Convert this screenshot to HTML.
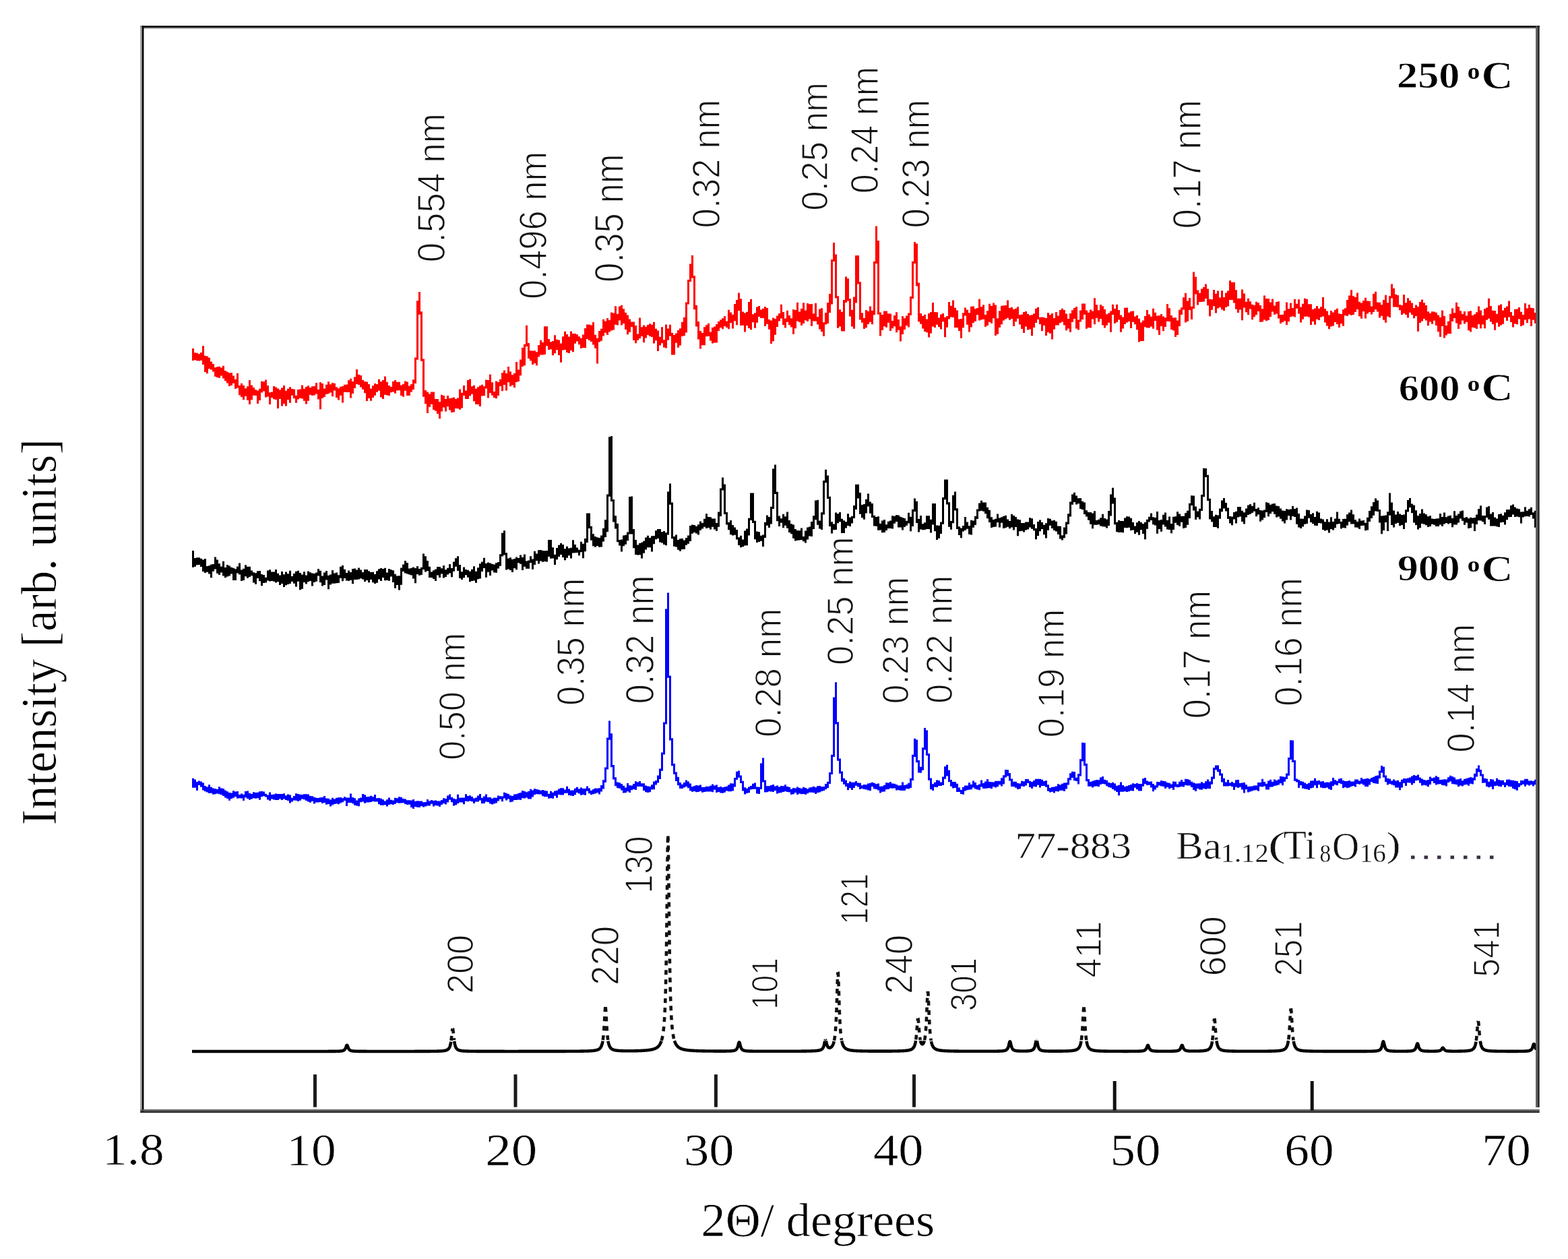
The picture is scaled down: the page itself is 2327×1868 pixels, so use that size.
<!DOCTYPE html><html><head><meta charset="utf-8"><title>XRD patterns</title><style>html,body{margin:0;padding:0;background:#fff;}svg{display:block;}</style></head><body>
<svg width="2327" height="1868" viewBox="0 0 2327 1868">
<rect width="2327" height="1868" fill="#fff"/>
<text transform="translate(660.33,389.32) rotate(-90) scale(0.2653,0.2838)" font-family='"Liberation Sans", Arial, sans-serif' font-weight="normal" font-size="200" fill="#111" stroke="#fff" stroke-width="5.10" stroke-linejoin="round">0.554 nm</text>
<text transform="translate(810.72,444.01) rotate(-90) scale(0.2632,0.2908)" font-family='"Liberation Sans", Arial, sans-serif' font-weight="normal" font-size="200" fill="#111" stroke="#fff" stroke-width="5.05" stroke-linejoin="round">0.496 nm</text>
<text transform="translate(924.79,418.91) rotate(-90) scale(0.2640,0.3028)" font-family='"Liberation Sans", Arial, sans-serif' font-weight="normal" font-size="200" fill="#111" stroke="#fff" stroke-width="4.94" stroke-linejoin="round">0.35 nm</text>
<text transform="translate(1067.83,338.42) rotate(-90) scale(0.2644,0.2859)" font-family='"Liberation Sans", Arial, sans-serif' font-weight="normal" font-size="200" fill="#111" stroke="#fff" stroke-width="5.09" stroke-linejoin="round">0.32 nm</text>
<text transform="translate(1227.85,312.81) rotate(-90) scale(0.2642,0.2775)" font-family='"Liberation Sans", Arial, sans-serif' font-weight="normal" font-size="200" fill="#111" stroke="#fff" stroke-width="5.17" stroke-linejoin="round">0.25 nm</text>
<text transform="translate(1303.23,287.29) rotate(-90) scale(0.2610,0.2859)" font-family='"Liberation Sans", Arial, sans-serif' font-weight="normal" font-size="200" fill="#111" stroke="#fff" stroke-width="5.12" stroke-linejoin="round">0.24 nm</text>
<text transform="translate(1378.63,338.42) rotate(-90) scale(0.2644,0.2859)" font-family='"Liberation Sans", Arial, sans-serif' font-weight="normal" font-size="200" fill="#111" stroke="#fff" stroke-width="5.09" stroke-linejoin="round">0.23 nm</text>
<text transform="translate(1781.71,339.42) rotate(-90) scale(0.2648,0.2930)" font-family='"Liberation Sans", Arial, sans-serif' font-weight="normal" font-size="200" fill="#111" stroke="#fff" stroke-width="5.02" stroke-linejoin="round">0.17 nm</text>
<text transform="translate(690.14,1128.10) rotate(-90) scale(0.2625,0.2796)" font-family='"Liberation Sans", Arial, sans-serif' font-weight="normal" font-size="200" fill="#111" stroke="#fff" stroke-width="5.16" stroke-linejoin="round">0.50 nm</text>
<text transform="translate(867.42,1047.10) rotate(-90) scale(0.2624,0.2908)" font-family='"Liberation Sans", Arial, sans-serif' font-weight="normal" font-size="200" fill="#111" stroke="#fff" stroke-width="5.06" stroke-linejoin="round">0.35 nm</text>
<text transform="translate(970.11,1044.51) rotate(-90) scale(0.2642,0.2937)" font-family='"Liberation Sans", Arial, sans-serif' font-weight="normal" font-size="200" fill="#111" stroke="#fff" stroke-width="5.02" stroke-linejoin="round">0.32 nm</text>
<text transform="translate(1159.44,1094.12) rotate(-90) scale(0.2650,0.2782)" font-family='"Liberation Sans", Arial, sans-serif' font-weight="normal" font-size="200" fill="#111" stroke="#fff" stroke-width="5.16" stroke-linejoin="round">0.28 nm</text>
<text transform="translate(1265.85,987.11) rotate(-90) scale(0.2640,0.2775)" font-family='"Liberation Sans", Arial, sans-serif' font-weight="normal" font-size="200" fill="#111" stroke="#fff" stroke-width="5.17" stroke-linejoin="round">0.25 nm</text>
<text transform="translate(1348.45,1044.49) rotate(-90) scale(0.2614,0.2761)" font-family='"Liberation Sans", Arial, sans-serif' font-weight="normal" font-size="200" fill="#111" stroke="#fff" stroke-width="5.21" stroke-linejoin="round">0.23 nm</text>
<text transform="translate(1413.45,1044.11) rotate(-90) scale(0.2637,0.2761)" font-family='"Liberation Sans", Arial, sans-serif' font-weight="normal" font-size="200" fill="#111" stroke="#fff" stroke-width="5.19" stroke-linejoin="round">0.22 nm</text>
<text transform="translate(1579.35,1094.41) rotate(-90) scale(0.2642,0.2746)" font-family='"Liberation Sans", Arial, sans-serif' font-weight="normal" font-size="200" fill="#111" stroke="#fff" stroke-width="5.20" stroke-linejoin="round">0.19 nm</text>
<text transform="translate(1796.42,1066.61) rotate(-90) scale(0.2642,0.2887)" font-family='"Liberation Sans", Arial, sans-serif' font-weight="normal" font-size="200" fill="#111" stroke="#fff" stroke-width="5.06" stroke-linejoin="round">0.17 nm</text>
<text transform="translate(1931.83,1048.12) rotate(-90) scale(0.2644,0.2873)" font-family='"Liberation Sans", Arial, sans-serif' font-weight="normal" font-size="200" fill="#111" stroke="#fff" stroke-width="5.08" stroke-linejoin="round">0.16 nm</text>
<text transform="translate(2187.83,1116.72) rotate(-90) scale(0.2644,0.2873)" font-family='"Liberation Sans", Arial, sans-serif' font-weight="normal" font-size="200" fill="#111" stroke="#fff" stroke-width="5.08" stroke-linejoin="round">0.14 nm</text>
<text transform="translate(701.84,1474.22) rotate(-90) scale(0.2623,0.2782)" font-family='"Liberation Sans", Arial, sans-serif' font-weight="normal" font-size="200" fill="#111" stroke="#fff" stroke-width="5.18" stroke-linejoin="round">200</text>
<text transform="translate(918.42,1461.94) rotate(-90) scale(0.2642,0.2887)" font-family='"Liberation Sans", Arial, sans-serif' font-weight="normal" font-size="200" fill="#111" stroke="#fff" stroke-width="5.06" stroke-linejoin="round">220</text>
<text transform="translate(968.43,1325.84) rotate(-90) scale(0.2563,0.2873)" font-family='"Liberation Sans", Arial, sans-serif' font-weight="normal" font-size="200" fill="#111" stroke="#fff" stroke-width="5.15" stroke-linejoin="round">130</text>
<text transform="translate(1153.95,1498.06) rotate(-90) scale(0.2307,0.2739)" font-family='"Liberation Sans", Arial, sans-serif' font-weight="normal" font-size="200" fill="#111" stroke="#fff" stroke-width="5.55" stroke-linejoin="round">101</text>
<text transform="translate(1288.00,1371.82) rotate(-90) scale(0.2278,0.2907)" font-family='"Liberation Sans", Arial, sans-serif' font-weight="normal" font-size="200" fill="#111" stroke="#fff" stroke-width="5.40" stroke-linejoin="round">121</text>
<text transform="translate(1354.42,1474.94) rotate(-90) scale(0.2642,0.2887)" font-family='"Liberation Sans", Arial, sans-serif' font-weight="normal" font-size="200" fill="#111" stroke="#fff" stroke-width="5.06" stroke-linejoin="round">240</text>
<text transform="translate(1448.95,1500.20) rotate(-90) scale(0.2373,0.2739)" font-family='"Liberation Sans", Arial, sans-serif' font-weight="normal" font-size="200" fill="#111" stroke="#fff" stroke-width="5.48" stroke-linejoin="round">301</text>
<text transform="translate(1634.00,1450.66) rotate(-90) scale(0.2641,0.2717)" font-family='"Liberation Sans", Arial, sans-serif' font-weight="normal" font-size="200" fill="#111" stroke="#fff" stroke-width="5.23" stroke-linejoin="round">411</text>
<text transform="translate(1819.44,1448.47) rotate(-90) scale(0.2674,0.2782)" font-family='"Liberation Sans", Arial, sans-serif' font-weight="normal" font-size="200" fill="#111" stroke="#fff" stroke-width="5.13" stroke-linejoin="round">600</text>
<text transform="translate(1932.12,1448.25) rotate(-90) scale(0.2452,0.2915)" font-family='"Liberation Sans", Arial, sans-serif' font-weight="normal" font-size="200" fill="#111" stroke="#fff" stroke-width="5.22" stroke-linejoin="round">251</text>
<text transform="translate(2225.14,1449.70) rotate(-90) scale(0.2497,0.2821)" font-family='"Liberation Sans", Arial, sans-serif' font-weight="normal" font-size="200" fill="#111" stroke="#fff" stroke-width="5.26" stroke-linejoin="round">541</text>
<text transform="translate(152.06,1728.29) scale(0.3671,0.3382)" font-family='"Liberation Serif", "Times New Roman", serif' font-weight="normal" font-size="200" fill="#000" stroke="#fff" stroke-width="1.70" stroke-linejoin="round">1.8</text>
<text transform="translate(425.15,1728.62) scale(0.3674,0.3407)" font-family='"Liberation Serif", "Times New Roman", serif' font-weight="normal" font-size="200" fill="#000" stroke="#fff" stroke-width="1.69" stroke-linejoin="round">10</text>
<text transform="translate(720.13,1728.62) scale(0.3858,0.3407)" font-family='"Liberation Serif", "Times New Roman", serif' font-weight="normal" font-size="200" fill="#000" stroke="#fff" stroke-width="1.65" stroke-linejoin="round">20</text>
<text transform="translate(1014.95,1728.62) scale(0.3727,0.3407)" font-family='"Liberation Serif", "Times New Roman", serif' font-weight="normal" font-size="200" fill="#000" stroke="#fff" stroke-width="1.68" stroke-linejoin="round">30</text>
<text transform="translate(1296.01,1728.62) scale(0.3718,0.3407)" font-family='"Liberation Serif", "Times New Roman", serif' font-weight="normal" font-size="200" fill="#000" stroke="#fff" stroke-width="1.68" stroke-linejoin="round">40</text>
<text transform="translate(1647.50,1728.62) scale(0.3750,0.3407)" font-family='"Liberation Serif", "Times New Roman", serif' font-weight="normal" font-size="200" fill="#000" stroke="#fff" stroke-width="1.68" stroke-linejoin="round">50</text>
<text transform="translate(1906.37,1728.62) scale(0.3668,0.3407)" font-family='"Liberation Serif", "Times New Roman", serif' font-weight="normal" font-size="200" fill="#000" stroke="#fff" stroke-width="1.70" stroke-linejoin="round">60</text>
<text transform="translate(2199.28,1728.62) scale(0.3631,0.3407)" font-family='"Liberation Serif", "Times New Roman", serif' font-weight="normal" font-size="200" fill="#000" stroke="#fff" stroke-width="1.70" stroke-linejoin="round">70</text>
<text transform="translate(1040.55,1834.41) scale(0.3608,0.3533)" font-family='"Liberation Serif", "Times New Roman", serif' font-weight="normal" font-size="200" fill="#000" stroke="#fff" stroke-width="1.68" stroke-linejoin="round">2Θ/ degrees</text>
<text transform="translate(82.73,1224.47) rotate(-90) scale(0.3524,0.3714)" font-family='"Liberation Serif", "Times New Roman", serif' font-weight="normal" font-size="200" fill="#000" stroke="#fff" stroke-width="1.93" stroke-linejoin="round">Intensity [arb. units]</text>
<text transform="translate(2073.11,130.15) scale(0.3113,0.2763)" font-family='"Liberation Serif", "Times New Roman", serif' font-weight="bold" font-size="200" fill="#000" stroke="#fff" stroke-width="2.72" stroke-linejoin="round">250</text>
<text transform="translate(2177.72,116.96) scale(0.1845,0.1677)" font-family='"Liberation Serif", "Times New Roman", serif' font-weight="bold" font-size="200" fill="#000">o</text>
<text transform="translate(2198.56,130.54) scale(0.3244,0.2813)" font-family='"Liberation Serif", "Times New Roman", serif' font-weight="bold" font-size="200" fill="#000" stroke="#fff" stroke-width="2.64" stroke-linejoin="round">C</text>
<text transform="translate(2075.68,593.95) scale(0.3025,0.2756)" font-family='"Liberation Serif", "Times New Roman", serif' font-weight="bold" font-size="200" fill="#000" stroke="#fff" stroke-width="2.77" stroke-linejoin="round">600</text>
<text transform="translate(2177.72,580.27) scale(0.1845,0.1625)" font-family='"Liberation Serif", "Times New Roman", serif' font-weight="bold" font-size="200" fill="#000">o</text>
<text transform="translate(2198.56,594.34) scale(0.3244,0.2806)" font-family='"Liberation Serif", "Times New Roman", serif' font-weight="bold" font-size="200" fill="#000" stroke="#fff" stroke-width="2.64" stroke-linejoin="round">C</text>
<text transform="translate(2074.06,861.25) scale(0.3080,0.2726)" font-family='"Liberation Serif", "Times New Roman", serif' font-weight="bold" font-size="200" fill="#000" stroke="#fff" stroke-width="2.76" stroke-linejoin="round">900</text>
<text transform="translate(2177.72,848.07) scale(0.1845,0.1625)" font-family='"Liberation Serif", "Times New Roman", serif' font-weight="bold" font-size="200" fill="#000">o</text>
<text transform="translate(2198.56,861.64) scale(0.3244,0.2776)" font-family='"Liberation Serif", "Times New Roman", serif' font-weight="bold" font-size="200" fill="#000" stroke="#fff" stroke-width="2.66" stroke-linejoin="round">C</text>
<text transform="translate(1506.44,1273.15) scale(0.3046,0.2733)" font-family='"Liberation Serif", "Times New Roman", serif' font-weight="normal" font-size="200" fill="#111" stroke="#fff" stroke-width="2.08" stroke-linejoin="round">77-883</text>
<text transform="translate(1745.18,1273.83) scale(0.3038,0.2827)" font-family='"Liberation Serif", "Times New Roman", serif' font-weight="normal" font-size="200" fill="#111" stroke="#fff" stroke-width="2.05" stroke-linejoin="round">Ba</text>
<text transform="translate(1811.65,1278.71) scale(0.2031,0.1963)" font-family='"Liberation Serif", "Times New Roman", serif' font-weight="normal" font-size="200" fill="#111" stroke="#fff" stroke-width="1.50" stroke-linejoin="round">1.12</text>
<text transform="translate(1881.84,1270.66) scale(0.3961,0.2637)" font-family='"Liberation Serif", "Times New Roman", serif' font-weight="normal" font-size="200" fill="#111" stroke="#fff" stroke-width="1.82" stroke-linejoin="round">(</text>
<text transform="translate(1904.47,1274.40) scale(0.2816,0.3061)" font-family='"Liberation Serif", "Times New Roman", serif' font-weight="normal" font-size="200" fill="#111" stroke="#fff" stroke-width="2.04" stroke-linejoin="round">Ti</text>
<text transform="translate(1958.47,1278.92) scale(0.1667,0.1911)" font-family='"Liberation Serif", "Times New Roman", serif' font-weight="normal" font-size="200" fill="#111" stroke="#fff" stroke-width="1.68" stroke-linejoin="round">8</text>
<text transform="translate(1977.08,1274.53) scale(0.2773,0.2858)" font-family='"Liberation Serif", "Times New Roman", serif' font-weight="normal" font-size="200" fill="#111" stroke="#fff" stroke-width="2.13" stroke-linejoin="round">O</text>
<text transform="translate(2017.66,1278.90) scale(0.1966,0.1978)" font-family='"Liberation Serif", "Times New Roman", serif' font-weight="normal" font-size="200" fill="#111" stroke="#fff" stroke-width="1.52" stroke-linejoin="round">16</text>
<text transform="translate(2057.37,1270.66) scale(0.3212,0.2637)" font-family='"Liberation Serif", "Times New Roman", serif' font-weight="normal" font-size="200" fill="#111" stroke="#fff" stroke-width="2.05" stroke-linejoin="round">)</text>
<path d="M285.0 516.9L288.0 516.9L288.0 523.3L291.0 523.3L291.0 523.7L294.0 523.7L294.0 525.2L297.0 525.2L297.0 523.0L300.0 523.0L300.0 513.2L303.0 513.2L303.0 527.7L306.0 527.7L306.0 528.6L309.0 528.6L309.0 530.8L312.0 530.8L312.0 536.4L315.0 536.4L315.0 540.0L318.0 540.0L318.0 545.2L321.0 545.2L321.0 544.3L324.0 544.3L324.0 543.7L327.0 543.7L327.0 545.5L330.0 545.5L330.0 542.8L333.0 542.8L333.0 550.0L336.0 550.0L336.0 551.8L339.0 551.8L339.0 553.3L342.0 553.3L342.0 553.0L345.0 553.0L345.0 557.5L348.0 557.5L348.0 562.7L351.0 562.7L351.0 553.7L354.0 553.7L354.0 572.0L357.0 572.0L357.0 568.7L360.0 568.7L360.0 571.8L363.0 571.8L363.0 576.2L366.0 576.2L366.0 573.3L369.0 573.3L369.0 564.0L372.0 564.0L372.0 571.5L375.0 571.5L375.0 575.1L378.0 575.1L378.0 578.2L381.0 578.2L381.0 579.5L384.0 579.5L384.0 576.7L387.0 576.7L387.0 565.7L390.0 565.7L390.0 566.3L393.0 566.3L393.0 563.6L396.0 563.6L396.0 572.1L399.0 572.1L399.0 582.2L402.0 582.2L402.0 581.4L405.0 581.4L405.0 573.1L408.0 573.1L408.0 574.5L411.0 574.5L411.0 576.4L414.0 576.4L414.0 578.4L417.0 578.4L417.0 575.5L420.0 575.5L420.0 571.9L423.0 571.9L423.0 579.8L426.0 579.8L426.0 576.8L429.0 576.8L429.0 574.3L432.0 574.3L432.0 576.9L435.0 576.9L435.0 577.4L438.0 577.4L438.0 586.7L441.0 586.7L441.0 578.0L444.0 578.0L444.0 577.6L447.0 577.6L447.0 571.6L450.0 571.6L450.0 576.7L453.0 576.7L453.0 574.1L456.0 574.1L456.0 572.3L459.0 572.3L459.0 575.3L462.0 575.3L462.0 573.2L465.0 573.2L465.0 572.9L468.0 572.9L468.0 568.0L471.0 568.0L471.0 577.8L474.0 577.8L474.0 567.1L477.0 567.1L477.0 569.0L480.0 569.0L480.0 576.5L483.0 576.5L483.0 570.8L486.0 570.8L486.0 566.2L489.0 566.2L489.0 570.2L492.0 570.2L492.0 568.1L495.0 568.1L495.0 568.7L498.0 568.7L498.0 574.3L501.0 574.3L501.0 576.3L504.0 576.3L504.0 573.8L507.0 573.8L507.0 573.1L510.0 573.1L510.0 570.7L513.0 570.7L513.0 570.4L516.0 570.4L516.0 564.3L519.0 564.3L519.0 561.8L522.0 561.8L522.0 565.9L525.0 565.9L525.0 559.3L528.0 559.3L528.0 548.1L531.0 548.1L531.0 555.8L534.0 555.8L534.0 557.0L537.0 557.0L537.0 563.7L540.0 563.7L540.0 565.9L543.0 565.9L543.0 566.4L546.0 566.4L546.0 570.0L549.0 570.0L549.0 576.5L552.0 576.5L552.0 572.3L555.0 572.3L555.0 568.9L558.0 568.9L558.0 569.9L561.0 569.9L561.0 562.8L564.0 562.8L564.0 566.3L567.0 566.3L567.0 564.1L570.0 564.1L570.0 558.5L573.0 558.5L573.0 566.8L576.0 566.8L576.0 572.1L579.0 572.1L579.0 574.1L582.0 574.1L582.0 565.9L585.0 565.9L585.0 564.1L588.0 564.1L588.0 566.8L591.0 566.8L591.0 566.7L594.0 566.7L594.0 571.4L597.0 571.4L597.0 569.7L600.0 569.7L600.0 565.4L603.0 565.4L603.0 566.6L606.0 566.6L606.0 572.5L609.0 572.5L609.0 569.9L612.0 569.9L612.0 563.3L615.0 563.3L615.0 530.5L618.0 530.5L618.0 446.3L621.0 446.3L621.0 433.0L624.0 433.0L624.0 462.3L627.0 462.3L627.0 532.5L630.0 532.5L630.0 579.1L633.0 579.1L633.0 581.5L636.0 581.5L636.0 584.6L639.0 584.6L639.0 581.6L642.0 581.6L642.0 581.6L645.0 581.6L645.0 592.0L648.0 592.0L648.0 592.1L651.0 592.1L651.0 596.3L654.0 596.3L654.0 585.8L657.0 585.8L657.0 587.0L660.0 587.0L660.0 592.1L663.0 592.1L663.0 587.1L666.0 587.1L666.0 590.9L669.0 590.9L669.0 590.4L672.0 590.4L672.0 589.6L675.0 589.6L675.0 592.0L678.0 592.0L678.0 590.6L681.0 590.6L681.0 577.6L684.0 577.6L684.0 582.7L687.0 582.7L687.0 572.1L690.0 572.1L690.0 579.5L693.0 579.5L693.0 564.1L696.0 564.1L696.0 562.4L699.0 562.4L699.0 573.2L702.0 573.2L702.0 571.8L705.0 571.8L705.0 576.8L708.0 576.8L708.0 574.2L711.0 574.2L711.0 572.3L714.0 572.3L714.0 570.7L717.0 570.7L717.0 573.2L720.0 573.2L720.0 563.6L723.0 563.6L723.0 563.9L726.0 563.9L726.0 555.6L729.0 555.6L729.0 567.3L732.0 567.3L732.0 581.0L735.0 581.0L735.0 565.4L738.0 565.4L738.0 566.9L741.0 566.9L741.0 562.8L744.0 562.8L744.0 553.1L747.0 553.1L747.0 549.6L750.0 549.6L750.0 553.9L753.0 553.9L753.0 543.9L756.0 543.9L756.0 551.3L759.0 551.3L759.0 556.3L762.0 556.3L762.0 553.8L765.0 553.8L765.0 537.0L768.0 537.0L768.0 548.6L771.0 548.6L771.0 533.6L774.0 533.6L774.0 515.9L777.0 515.9L777.0 510.7L780.0 510.7L780.0 482.7L783.0 482.7L783.0 508.9L786.0 508.9L786.0 520.3L789.0 520.3L789.0 520.4L792.0 520.4L792.0 520.2L795.0 520.2L795.0 522.3L798.0 522.3L798.0 512.0L801.0 512.0L801.0 504.7L804.0 504.7L804.0 508.1L807.0 508.1L807.0 484.2L810.0 484.2L810.0 484.2L813.0 484.2L813.0 503.0L816.0 503.0L816.0 507.3L819.0 507.3L819.0 505.9L822.0 505.9L822.0 497.2L825.0 497.2L825.0 503.8L828.0 503.8L828.0 504.4L831.0 504.4L831.0 509.4L834.0 509.4L834.0 499.2L837.0 499.2L837.0 491.8L840.0 491.8L840.0 496.0L843.0 496.0L843.0 499.6L846.0 499.6L846.0 491.5L849.0 491.5L849.0 494.9L852.0 494.9L852.0 494.9L855.0 494.9L855.0 496.2L858.0 496.2L858.0 499.3L861.0 499.3L861.0 501.8L864.0 501.8L864.0 496.4L867.0 496.4L867.0 487.1L870.0 487.1L870.0 481.6L873.0 481.6L873.0 481.6L876.0 481.6L876.0 482.4L879.0 482.4L879.0 478.1L882.0 478.1L882.0 496.7L885.0 496.7L885.0 501.8L888.0 501.8L888.0 491.1L891.0 491.1L891.0 487.8L894.0 487.8L894.0 473.8L897.0 473.8L897.0 476.5L900.0 476.5L900.0 471.9L903.0 471.9L903.0 475.1L906.0 475.1L906.0 463.6L909.0 463.6L909.0 464.6L912.0 464.6L912.0 454.2L915.0 454.2L915.0 465.8L918.0 465.8L918.0 454.4L921.0 454.4L921.0 452.7L924.0 452.7L924.0 458.3L927.0 458.3L927.0 463.7L930.0 463.7L930.0 467.6L933.0 467.6L933.0 473.5L936.0 473.5L936.0 477.4L939.0 477.4L939.0 477.6L942.0 477.6L942.0 483.1L945.0 483.1L945.0 495.4L948.0 495.4L948.0 471.6L951.0 471.6L951.0 485.2L954.0 485.2L954.0 482.4L957.0 482.4L957.0 484.7L960.0 484.7L960.0 482.0L963.0 482.0L963.0 480.2L966.0 480.2L966.0 481.7L969.0 481.7L969.0 477.8L972.0 477.8L972.0 487.7L975.0 487.7L975.0 490.6L978.0 490.6L978.0 499.8L981.0 499.8L981.0 485.3L984.0 485.3L984.0 504.3L987.0 504.3L987.0 481.4L990.0 481.4L990.0 487.6L993.0 487.6L993.0 481.8L996.0 481.8L996.0 493.7L999.0 493.7L999.0 497.1L1002.0 497.1L1002.0 494.4L1005.0 494.4L1005.0 489.9L1008.0 489.9L1008.0 487.3L1011.0 487.3L1011.0 477.8L1014.0 477.8L1014.0 470.8L1017.0 470.8L1017.0 448.4L1020.0 448.4L1020.0 414.9L1023.0 414.9L1023.0 391.5L1026.0 391.5L1026.0 378.7L1029.0 378.7L1029.0 409.2L1032.0 409.2L1032.0 452.7L1035.0 452.7L1035.0 476.9L1038.0 476.9L1038.0 491.1L1041.0 491.1L1041.0 494.1L1044.0 494.1L1044.0 485.3L1047.0 485.3L1047.0 482.3L1050.0 482.3L1050.0 479.7L1053.0 479.7L1053.0 492.5L1056.0 492.5L1056.0 485.9L1059.0 485.9L1059.0 484.5L1062.0 484.5L1062.0 481.0L1065.0 481.0L1065.0 477.0L1068.0 477.0L1068.0 474.6L1071.0 474.6L1071.0 472.2L1074.0 472.2L1074.0 469.1L1077.0 469.1L1077.0 476.5L1080.0 476.5L1080.0 459.7L1083.0 459.7L1083.0 463.4L1086.0 463.4L1086.0 466.8L1089.0 466.8L1089.0 451.0L1092.0 451.0L1092.0 445.1L1095.0 445.1L1095.0 434.5L1098.0 434.5L1098.0 443.2L1101.0 443.2L1101.0 462.6L1104.0 462.6L1104.0 464.5L1107.0 464.5L1107.0 462.7L1110.0 462.7L1110.0 447.9L1113.0 447.9L1113.0 443.7L1116.0 443.7L1116.0 466.2L1119.0 466.2L1119.0 464.3L1122.0 464.3L1122.0 455.6L1125.0 455.6L1125.0 453.9L1128.0 453.9L1128.0 459.6L1131.0 459.6L1131.0 457.7L1134.0 457.7L1134.0 455.0L1137.0 455.0L1137.0 456.9L1140.0 456.9L1140.0 473.9L1143.0 473.9L1143.0 475.5L1146.0 475.5L1146.0 471.5L1149.0 471.5L1149.0 473.1L1152.0 473.1L1152.0 468.6L1155.0 468.6L1155.0 464.9L1158.0 464.9L1158.0 451.7L1161.0 451.7L1161.0 463.0L1164.0 463.0L1164.0 472.6L1167.0 472.6L1167.0 460.8L1170.0 460.8L1170.0 467.9L1173.0 467.9L1173.0 472.2L1176.0 472.2L1176.0 458.9L1179.0 458.9L1179.0 459.9L1182.0 459.9L1182.0 448.8L1185.0 448.8L1185.0 462.6L1188.0 462.6L1188.0 458.1L1191.0 458.1L1191.0 449.2L1194.0 449.2L1194.0 460.5L1197.0 460.5L1197.0 449.9L1200.0 449.9L1200.0 451.2L1203.0 451.2L1203.0 451.0L1206.0 451.0L1206.0 465.3L1209.0 465.3L1209.0 449.7L1212.0 449.7L1212.0 470.2L1215.0 470.2L1215.0 458.4L1218.0 458.4L1218.0 457.2L1221.0 457.2L1221.0 478.3L1224.0 478.3L1224.0 464.1L1227.0 464.1L1227.0 449.1L1230.0 449.1L1230.0 436.1L1233.0 436.1L1233.0 384.9L1236.0 384.9L1236.0 359.9L1239.0 359.9L1239.0 377.5L1242.0 377.5L1242.0 439.2L1245.0 439.2L1245.0 459.2L1248.0 459.2L1248.0 462.8L1251.0 462.8L1251.0 445.0L1254.0 445.0L1254.0 410.4L1257.0 410.4L1257.0 413.3L1260.0 413.3L1260.0 443.2L1263.0 443.2L1263.0 459.8L1266.0 459.8L1266.0 440.6L1269.0 440.6L1269.0 378.9L1272.0 378.9L1272.0 378.9L1275.0 378.9L1275.0 418.3L1278.0 418.3L1278.0 464.2L1281.0 464.2L1281.0 471.9L1284.0 471.9L1284.0 460.0L1287.0 460.0L1287.0 461.8L1290.0 461.8L1290.0 454.4L1293.0 454.4L1293.0 460.7L1296.0 460.7L1296.0 387.7L1299.0 387.7L1299.0 335.5L1302.0 335.5L1302.0 357.1L1305.0 357.1L1305.0 463.4L1308.0 463.4L1308.0 467.0L1311.0 467.0L1311.0 461.4L1314.0 461.4L1314.0 461.4L1317.0 461.4L1317.0 465.2L1320.0 465.2L1320.0 465.4L1323.0 465.4L1323.0 476.1L1326.0 476.1L1326.0 468.0L1329.0 468.0L1329.0 463.2L1332.0 463.2L1332.0 474.0L1335.0 474.0L1335.0 484.2L1338.0 484.2L1338.0 469.0L1341.0 469.0L1341.0 472.2L1344.0 472.2L1344.0 468.4L1347.0 468.4L1347.0 464.6L1350.0 464.6L1350.0 440.0L1353.0 440.0L1353.0 387.8L1356.0 387.8L1356.0 359.0L1359.0 359.0L1359.0 361.4L1362.0 361.4L1362.0 419.6L1365.0 419.6L1365.0 464.9L1368.0 464.9L1368.0 468.7L1371.0 468.7L1371.0 466.7L1374.0 466.7L1374.0 473.6L1377.0 473.6L1377.0 465.1L1380.0 465.1L1380.0 462.9L1383.0 462.9L1383.0 449.0L1386.0 449.0L1386.0 463.1L1389.0 463.1L1389.0 463.2L1392.0 463.2L1392.0 471.6L1395.0 471.6L1395.0 466.6L1398.0 466.6L1398.0 464.9L1401.0 464.9L1401.0 470.8L1404.0 470.8L1404.0 469.1L1407.0 469.1L1407.0 448.0L1410.0 448.0L1410.0 453.8L1413.0 453.8L1413.0 445.6L1416.0 445.6L1416.0 456.7L1419.0 456.7L1419.0 460.5L1422.0 460.5L1422.0 473.5L1425.0 473.5L1425.0 473.1L1428.0 473.1L1428.0 464.2L1431.0 464.2L1431.0 456.6L1434.0 456.6L1434.0 459.8L1437.0 459.8L1437.0 464.2L1440.0 464.2L1440.0 454.8L1443.0 454.8L1443.0 454.4L1446.0 454.4L1446.0 458.3L1449.0 458.3L1449.0 457.1L1452.0 457.1L1452.0 443.8L1455.0 443.8L1455.0 455.2L1458.0 455.2L1458.0 452.3L1461.0 452.3L1461.0 467.0L1464.0 467.0L1464.0 461.3L1467.0 461.3L1467.0 450.8L1470.0 450.8L1470.0 454.1L1473.0 454.1L1473.0 449.6L1476.0 449.6L1476.0 452.6L1479.0 452.6L1479.0 472.2L1482.0 472.2L1482.0 461.3L1485.0 461.3L1485.0 453.7L1488.0 453.7L1488.0 453.3L1491.0 453.3L1491.0 453.1L1494.0 453.1L1494.0 445.6L1497.0 445.6L1497.0 456.9L1500.0 456.9L1500.0 455.7L1503.0 455.7L1503.0 458.9L1506.0 458.9L1506.0 457.7L1509.0 457.7L1509.0 455.3L1512.0 455.3L1512.0 467.2L1515.0 467.2L1515.0 466.5L1518.0 466.5L1518.0 462.9L1521.0 462.9L1521.0 461.9L1524.0 461.9L1524.0 465.7L1527.0 465.7L1527.0 467.8L1530.0 467.8L1530.0 467.3L1533.0 467.3L1533.0 465.3L1536.0 465.3L1536.0 457.7L1539.0 457.7L1539.0 455.8L1542.0 455.8L1542.0 470.7L1545.0 470.7L1545.0 470.4L1548.0 470.4L1548.0 470.9L1551.0 470.9L1551.0 471.9L1554.0 471.9L1554.0 464.0L1557.0 464.0L1557.0 467.3L1560.0 467.3L1560.0 465.1L1563.0 465.1L1563.0 472.0L1566.0 472.0L1566.0 463.0L1569.0 463.0L1569.0 468.4L1572.0 468.4L1572.0 459.9L1575.0 459.9L1575.0 457.7L1578.0 457.7L1578.0 459.9L1581.0 459.9L1581.0 465.6L1584.0 465.6L1584.0 472.9L1587.0 472.9L1587.0 465.0L1590.0 465.0L1590.0 460.2L1593.0 460.2L1593.0 456.9L1596.0 456.9L1596.0 454.9L1599.0 454.9L1599.0 474.4L1602.0 474.4L1602.0 460.4L1605.0 460.4L1605.0 450.4L1608.0 450.4L1608.0 450.4L1611.0 450.4L1611.0 460.6L1614.0 460.6L1614.0 463.7L1617.0 463.7L1617.0 459.6L1620.0 459.6L1620.0 461.6L1623.0 461.6L1623.0 442.2L1626.0 442.2L1626.0 452.3L1629.0 452.3L1629.0 460.3L1632.0 460.3L1632.0 452.0L1635.0 452.0L1635.0 454.2L1638.0 454.2L1638.0 459.0L1641.0 459.0L1641.0 466.2L1644.0 466.2L1644.0 464.5L1647.0 464.5L1647.0 461.4L1650.0 461.4L1650.0 451.7L1653.0 451.7L1653.0 458.1L1656.0 458.1L1656.0 451.8L1659.0 451.8L1659.0 459.9L1662.0 459.9L1662.0 467.4L1665.0 467.4L1665.0 470.4L1668.0 470.4L1668.0 456.7L1671.0 456.7L1671.0 456.6L1674.0 456.6L1674.0 463.7L1677.0 463.7L1677.0 462.0L1680.0 462.0L1680.0 461.4L1683.0 461.4L1683.0 469.5L1686.0 469.5L1686.0 467.8L1689.0 467.8L1689.0 472.8L1692.0 472.8L1692.0 478.6L1695.0 478.6L1695.0 475.4L1698.0 475.4L1698.0 469.1L1701.0 469.1L1701.0 459.9L1704.0 459.9L1704.0 466.4L1707.0 466.4L1707.0 469.7L1710.0 469.7L1710.0 457.7L1713.0 457.7L1713.0 463.7L1716.0 463.7L1716.0 468.4L1719.0 468.4L1719.0 468.3L1722.0 468.3L1722.0 466.0L1725.0 466.0L1725.0 469.4L1728.0 469.4L1728.0 471.3L1731.0 471.3L1731.0 451.1L1734.0 451.1L1734.0 457.3L1737.0 457.3L1737.0 467.9L1740.0 467.9L1740.0 471.6L1743.0 471.6L1743.0 471.3L1746.0 471.3L1746.0 475.6L1749.0 475.6L1749.0 459.8L1752.0 459.8L1752.0 456.3L1755.0 456.3L1755.0 441.2L1758.0 441.2L1758.0 434.7L1761.0 434.7L1761.0 446.5L1764.0 446.5L1764.0 442.0L1767.0 442.0L1767.0 454.7L1770.0 454.7L1770.0 403.4L1773.0 403.4L1773.0 410.8L1776.0 410.8L1776.0 430.4L1779.0 430.4L1779.0 434.8L1782.0 434.8L1782.0 428.4L1785.0 428.4L1785.0 426.0L1788.0 426.0L1788.0 421.5L1791.0 421.5L1791.0 428.6L1794.0 428.6L1794.0 443.7L1797.0 443.7L1797.0 444.3L1800.0 444.3L1800.0 430.0L1803.0 430.0L1803.0 435.8L1806.0 435.8L1806.0 431.6L1809.0 431.6L1809.0 441.4L1812.0 441.4L1812.0 431.2L1815.0 431.2L1815.0 441.0L1818.0 441.0L1818.0 434.4L1821.0 434.4L1821.0 431.6L1824.0 431.6L1824.0 416.3L1827.0 416.3L1827.0 418.7L1830.0 418.7L1830.0 418.7L1833.0 418.7L1833.0 430.3L1836.0 430.3L1836.0 442.7L1839.0 442.7L1839.0 442.8L1842.0 442.8L1842.0 429.6L1845.0 429.6L1845.0 435.4L1848.0 435.4L1848.0 447.8L1851.0 447.8L1851.0 442.8L1854.0 442.8L1854.0 447.3L1857.0 447.3L1857.0 451.7L1860.0 451.7L1860.0 452.8L1863.0 452.8L1863.0 447.7L1866.0 447.7L1866.0 449.3L1869.0 449.3L1869.0 452.9L1872.0 452.9L1872.0 458.2L1875.0 458.2L1875.0 438.6L1878.0 438.6L1878.0 442.9L1881.0 442.9L1881.0 442.9L1884.0 442.9L1884.0 448.5L1887.0 448.5L1887.0 443.6L1890.0 443.6L1890.0 453.4L1893.0 453.4L1893.0 448.0L1896.0 448.0L1896.0 447.3L1899.0 447.3L1899.0 466.9L1902.0 466.9L1902.0 466.8L1905.0 466.8L1905.0 461.0L1908.0 461.0L1908.0 448.4L1911.0 448.4L1911.0 458.2L1914.0 458.2L1914.0 449.4L1917.0 449.4L1917.0 457.1L1920.0 457.1L1920.0 443.8L1923.0 443.8L1923.0 450.8L1926.0 450.8L1926.0 444.3L1929.0 444.3L1929.0 455.5L1932.0 455.5L1932.0 450.8L1935.0 450.8L1935.0 442.7L1938.0 442.7L1938.0 443.8L1941.0 443.8L1941.0 451.3L1944.0 451.3L1944.0 451.3L1947.0 451.3L1947.0 459.0L1950.0 459.0L1950.0 457.4L1953.0 457.4L1953.0 453.9L1956.0 453.9L1956.0 457.8L1959.0 457.8L1959.0 455.3L1962.0 455.3L1962.0 441.1L1965.0 441.1L1965.0 457.9L1968.0 457.9L1968.0 461.4L1971.0 461.4L1971.0 467.6L1974.0 467.6L1974.0 461.0L1977.0 461.0L1977.0 463.6L1980.0 463.6L1980.0 459.8L1983.0 459.8L1983.0 457.8L1986.0 457.8L1986.0 465.2L1989.0 465.2L1989.0 466.1L1992.0 466.1L1992.0 459.2L1995.0 459.2L1995.0 457.3L1998.0 457.3L1998.0 444.9L2001.0 444.9L2001.0 438.6L2004.0 438.6L2004.0 430.3L2007.0 430.3L2007.0 439.3L2010.0 439.3L2010.0 441.1L2013.0 441.1L2013.0 434.6L2016.0 434.6L2016.0 447.8L2019.0 447.8L2019.0 449.5L2022.0 449.5L2022.0 445.9L2025.0 445.9L2025.0 441.8L2028.0 441.8L2028.0 446.6L2031.0 446.6L2031.0 446.7L2034.0 446.7L2034.0 454.6L2037.0 454.6L2037.0 436.1L2040.0 436.1L2040.0 432.7L2043.0 432.7L2043.0 448.5L2046.0 448.5L2046.0 448.7L2049.0 448.7L2049.0 452.2L2052.0 452.2L2052.0 444.9L2055.0 444.9L2055.0 437.7L2058.0 437.7L2058.0 449.2L2061.0 449.2L2061.0 439.3L2064.0 439.3L2064.0 421.4L2067.0 421.4L2067.0 427.8L2070.0 427.8L2070.0 436.8L2073.0 436.8L2073.0 438.1L2076.0 438.1L2076.0 452.1L2079.0 452.1L2079.0 453.0L2082.0 453.0L2082.0 437.2L2085.0 437.2L2085.0 449.2L2088.0 449.2L2088.0 442.3L2091.0 442.3L2091.0 446.1L2094.0 446.1L2094.0 449.5L2097.0 449.5L2097.0 457.1L2100.0 457.1L2100.0 452.6L2103.0 452.6L2103.0 455.0L2106.0 455.0L2106.0 447.9L2109.0 447.9L2109.0 444.6L2112.0 444.6L2112.0 449.3L2115.0 449.3L2115.0 453.1L2118.0 453.1L2118.0 462.2L2121.0 462.2L2121.0 464.7L2124.0 464.7L2124.0 462.2L2127.0 462.2L2127.0 462.5L2130.0 462.5L2130.0 463.7L2133.0 463.7L2133.0 467.5L2136.0 467.5L2136.0 470.8L2139.0 470.8L2139.0 460.4L2142.0 460.4L2142.0 468.8L2145.0 468.8L2145.0 482.9L2148.0 482.9L2148.0 476.8L2151.0 476.8L2151.0 465.7L2154.0 465.7L2154.0 457.4L2157.0 457.4L2157.0 464.3L2160.0 464.3L2160.0 448.8L2163.0 448.8L2163.0 455.1L2166.0 455.1L2166.0 461.2L2169.0 461.2L2169.0 465.9L2172.0 465.9L2172.0 462.0L2175.0 462.0L2175.0 468.5L2178.0 468.5L2178.0 462.1L2181.0 462.1L2181.0 461.3L2184.0 461.3L2184.0 468.1L2187.0 468.1L2187.0 466.3L2190.0 466.3L2190.0 463.3L2193.0 463.3L2193.0 454.6L2196.0 454.6L2196.0 460.5L2199.0 460.5L2199.0 468.0L2202.0 468.0L2202.0 458.3L2205.0 458.3L2205.0 456.4L2208.0 456.4L2208.0 442.7L2211.0 442.7L2211.0 454.1L2214.0 454.1L2214.0 460.7L2217.0 460.7L2217.0 461.0L2220.0 461.0L2220.0 465.7L2223.0 465.7L2223.0 453.1L2226.0 453.1L2226.0 451.5L2229.0 451.5L2229.0 460.6L2232.0 460.6L2232.0 456.8L2235.0 456.8L2235.0 454.6L2238.0 454.6L2238.0 446.6L2241.0 446.6L2241.0 462.9L2244.0 462.9L2244.0 468.5L2247.0 468.5L2247.0 458.8L2250.0 458.8L2250.0 458.6L2253.0 458.6L2253.0 456.1L2256.0 456.1L2256.0 462.7L2259.0 462.7L2259.0 466.9L2262.0 466.9L2262.0 449.9L2265.0 449.9L2265.0 457.5L2268.0 457.5L2268.0 452.1L2271.0 452.1L2271.0 456.8L2274.0 456.8L2274.0 457.3L2277.0 457.3L2277.0 463.9L2280.0 463.9L2280.0 479.7L2277.0 479.7L2277.0 474.7L2274.0 474.7L2274.0 483.9L2271.0 483.9L2271.0 473.6L2268.0 473.6L2268.0 479.3L2265.0 479.3L2265.0 474.5L2262.0 474.5L2262.0 482.5L2259.0 482.5L2259.0 484.0L2256.0 484.0L2256.0 473.4L2253.0 473.4L2253.0 481.2L2250.0 481.2L2250.0 480.6L2247.0 480.6L2247.0 485.5L2244.0 485.5L2244.0 478.1L2241.0 478.1L2241.0 470.6L2238.0 470.6L2238.0 475.9L2235.0 475.9L2235.0 471.2L2232.0 471.2L2232.0 480.8L2229.0 480.8L2229.0 482.4L2226.0 482.4L2226.0 484.7L2223.0 484.7L2223.0 478.8L2220.0 478.8L2220.0 489.7L2217.0 489.7L2217.0 481.1L2214.0 481.1L2214.0 477.6L2211.0 477.6L2211.0 472.7L2208.0 472.7L2208.0 474.7L2205.0 474.7L2205.0 487.3L2202.0 487.3L2202.0 481.5L2199.0 481.5L2199.0 487.3L2196.0 487.3L2196.0 481.1L2193.0 481.1L2193.0 488.1L2190.0 488.1L2190.0 486.5L2187.0 486.5L2187.0 485.8L2184.0 485.8L2184.0 492.5L2181.0 492.5L2181.0 490.2L2178.0 490.2L2178.0 477.7L2175.0 477.7L2175.0 480.4L2172.0 480.4L2172.0 475.4L2169.0 475.4L2169.0 481.6L2166.0 481.6L2166.0 487.9L2163.0 487.9L2163.0 479.6L2160.0 479.6L2160.0 472.1L2157.0 472.1L2157.0 477.1L2154.0 477.1L2154.0 495.2L2151.0 495.2L2151.0 494.9L2148.0 494.9L2148.0 497.6L2145.0 497.6L2145.0 501.4L2142.0 501.4L2142.0 483.9L2139.0 483.9L2139.0 499.8L2136.0 499.8L2136.0 492.2L2133.0 492.2L2133.0 482.9L2130.0 482.9L2130.0 475.7L2127.0 475.7L2127.0 480.7L2124.0 480.7L2124.0 477.4L2121.0 477.4L2121.0 483.3L2118.0 483.3L2118.0 475.6L2115.0 475.6L2115.0 473.0L2112.0 473.0L2112.0 476.6L2109.0 476.6L2109.0 479.1L2106.0 479.1L2106.0 491.7L2103.0 491.7L2103.0 469.0L2100.0 469.0L2100.0 472.3L2097.0 472.3L2097.0 467.0L2094.0 467.0L2094.0 463.7L2091.0 463.7L2091.0 471.4L2088.0 471.4L2088.0 467.0L2085.0 467.0L2085.0 465.0L2082.0 465.0L2082.0 467.0L2079.0 467.0L2079.0 460.3L2076.0 460.3L2076.0 455.9L2073.0 455.9L2073.0 455.4L2070.0 455.4L2070.0 455.4L2067.0 455.4L2067.0 442.5L2064.0 442.5L2064.0 470.9L2061.0 470.9L2061.0 469.4L2058.0 469.4L2058.0 478.7L2055.0 478.7L2055.0 474.8L2052.0 474.8L2052.0 468.7L2049.0 468.7L2049.0 471.4L2046.0 471.4L2046.0 462.6L2043.0 462.6L2043.0 459.2L2040.0 459.2L2040.0 462.9L2037.0 462.9L2037.0 466.4L2034.0 466.4L2034.0 462.9L2031.0 462.9L2031.0 465.5L2028.0 465.5L2028.0 472.6L2025.0 472.6L2025.0 462.0L2022.0 462.0L2022.0 472.7L2019.0 472.7L2019.0 469.3L2016.0 469.3L2016.0 458.9L2013.0 458.9L2013.0 463.1L2010.0 463.1L2010.0 467.0L2007.0 467.0L2007.0 467.7L2004.0 467.7L2004.0 466.4L2001.0 466.4L2001.0 469.0L1998.0 469.0L1998.0 468.0L1995.0 468.0L1995.0 483.8L1992.0 483.8L1992.0 480.2L1989.0 480.2L1989.0 486.1L1986.0 486.1L1986.0 480.9L1983.0 480.9L1983.0 478.1L1980.0 478.1L1980.0 483.5L1977.0 483.5L1977.0 484.4L1974.0 484.4L1974.0 488.2L1971.0 488.2L1971.0 483.4L1968.0 483.4L1968.0 478.4L1965.0 478.4L1965.0 469.6L1962.0 469.6L1962.0 470.6L1959.0 470.6L1959.0 475.0L1956.0 475.0L1956.0 473.7L1953.0 473.7L1953.0 481.7L1950.0 481.7L1950.0 477.1L1947.0 477.1L1947.0 482.1L1944.0 482.1L1944.0 470.4L1941.0 470.4L1941.0 469.5L1938.0 469.5L1938.0 469.7L1935.0 469.7L1935.0 473.7L1932.0 473.7L1932.0 478.5L1929.0 478.5L1929.0 465.4L1926.0 465.4L1926.0 457.8L1923.0 457.8L1923.0 470.5L1920.0 470.5L1920.0 469.3L1917.0 469.3L1917.0 470.2L1914.0 470.2L1914.0 477.3L1911.0 477.3L1911.0 482.2L1908.0 482.2L1908.0 476.3L1905.0 476.3L1905.0 478.1L1902.0 478.1L1902.0 480.0L1899.0 480.0L1899.0 472.5L1896.0 472.5L1896.0 465.4L1893.0 465.4L1893.0 466.9L1890.0 466.9L1890.0 462.5L1887.0 462.5L1887.0 469.9L1884.0 469.9L1884.0 475.1L1881.0 475.1L1881.0 476.2L1878.0 476.2L1878.0 474.5L1875.0 474.5L1875.0 477.5L1872.0 477.5L1872.0 477.8L1869.0 477.8L1869.0 461.9L1866.0 461.9L1866.0 467.3L1863.0 467.3L1863.0 470.2L1860.0 470.2L1860.0 474.2L1857.0 474.2L1857.0 458.4L1854.0 458.4L1854.0 467.2L1851.0 467.2L1851.0 463.2L1848.0 463.2L1848.0 456.6L1845.0 456.6L1845.0 475.2L1842.0 475.2L1842.0 459.4L1839.0 459.4L1839.0 464.0L1836.0 464.0L1836.0 458.7L1833.0 458.7L1833.0 449.6L1830.0 449.6L1830.0 445.1L1827.0 445.1L1827.0 445.1L1824.0 445.1L1824.0 454.5L1821.0 454.5L1821.0 456.0L1818.0 456.0L1818.0 460.9L1815.0 460.9L1815.0 459.3L1812.0 459.3L1812.0 455.9L1809.0 455.9L1809.0 457.5L1806.0 457.5L1806.0 464.4L1803.0 464.4L1803.0 454.3L1800.0 454.3L1800.0 459.7L1797.0 459.7L1797.0 469.3L1794.0 469.3L1794.0 453.2L1791.0 453.2L1791.0 442.9L1788.0 442.9L1788.0 447.5L1785.0 447.5L1785.0 448.1L1782.0 448.1L1782.0 448.1L1779.0 448.1L1779.0 452.5L1776.0 452.5L1776.0 436.4L1773.0 436.4L1773.0 457.9L1770.0 457.9L1770.0 474.0L1767.0 474.0L1767.0 460.0L1764.0 460.0L1764.0 476.7L1761.0 476.7L1761.0 478.6L1758.0 478.6L1758.0 459.5L1755.0 459.5L1755.0 467.1L1752.0 467.1L1752.0 484.0L1749.0 484.0L1749.0 497.0L1746.0 497.0L1746.0 500.1L1743.0 500.1L1743.0 490.5L1740.0 490.5L1740.0 488.9L1737.0 488.9L1737.0 477.0L1734.0 477.0L1734.0 476.7L1731.0 476.7L1731.0 485.0L1728.0 485.0L1728.0 491.3L1725.0 491.3L1725.0 483.9L1722.0 483.9L1722.0 496.9L1719.0 496.9L1719.0 489.8L1716.0 489.8L1716.0 476.0L1713.0 476.0L1713.0 487.7L1710.0 487.7L1710.0 484.5L1707.0 484.5L1707.0 486.5L1704.0 486.5L1704.0 486.5L1701.0 486.5L1701.0 485.3L1698.0 485.3L1698.0 506.1L1695.0 506.1L1695.0 505.9L1692.0 505.9L1692.0 507.6L1689.0 507.6L1689.0 489.2L1686.0 489.2L1686.0 481.3L1683.0 481.3L1683.0 477.7L1680.0 477.7L1680.0 487.1L1677.0 487.1L1677.0 477.1L1674.0 477.1L1674.0 478.6L1671.0 478.6L1671.0 481.0L1668.0 481.0L1668.0 487.5L1665.0 487.5L1665.0 492.7L1662.0 492.7L1662.0 474.6L1659.0 474.6L1659.0 478.0L1656.0 478.0L1656.0 480.0L1653.0 480.0L1653.0 467.0L1650.0 467.0L1650.0 492.8L1647.0 492.8L1647.0 478.8L1644.0 478.8L1644.0 482.8L1641.0 482.8L1641.0 486.5L1638.0 486.5L1638.0 482.4L1635.0 482.4L1635.0 473.3L1632.0 473.3L1632.0 477.6L1629.0 477.6L1629.0 471.8L1626.0 471.8L1626.0 481.2L1623.0 481.2L1623.0 473.5L1620.0 473.5L1620.0 486.5L1617.0 486.5L1617.0 486.1L1614.0 486.1L1614.0 487.8L1611.0 487.8L1611.0 466.8L1608.0 466.8L1608.0 474.0L1605.0 474.0L1605.0 477.6L1602.0 477.6L1602.0 489.6L1599.0 489.6L1599.0 487.4L1596.0 487.4L1596.0 472.9L1593.0 472.9L1593.0 477.7L1590.0 477.7L1590.0 492.7L1587.0 492.7L1587.0 487.5L1584.0 487.5L1584.0 490.3L1581.0 490.3L1581.0 482.5L1578.0 482.5L1578.0 477.6L1575.0 477.6L1575.0 479.3L1572.0 479.3L1572.0 482.4L1569.0 482.4L1569.0 482.4L1566.0 482.4L1566.0 488.8L1563.0 488.8L1563.0 503.5L1560.0 503.5L1560.0 494.8L1557.0 494.8L1557.0 493.0L1554.0 493.0L1554.0 498.0L1551.0 498.0L1551.0 482.9L1548.0 482.9L1548.0 491.2L1545.0 491.2L1545.0 481.1L1542.0 481.1L1542.0 473.9L1539.0 473.9L1539.0 479.0L1536.0 479.0L1536.0 485.9L1533.0 485.9L1533.0 498.2L1530.0 498.2L1530.0 488.5L1527.0 488.5L1527.0 489.4L1524.0 489.4L1524.0 484.6L1521.0 484.6L1521.0 494.1L1518.0 494.1L1518.0 488.1L1515.0 488.1L1515.0 481.6L1512.0 481.6L1512.0 472.8L1509.0 472.8L1509.0 477.3L1506.0 477.3L1506.0 483.9L1503.0 483.9L1503.0 473.0L1500.0 473.0L1500.0 474.8L1497.0 474.8L1497.0 471.8L1494.0 471.8L1494.0 473.5L1491.0 473.5L1491.0 475.4L1488.0 475.4L1488.0 481.3L1485.0 481.3L1485.0 486.1L1482.0 486.1L1482.0 495.7L1479.0 495.7L1479.0 498.0L1476.0 498.0L1476.0 472.3L1473.0 472.3L1473.0 479.8L1470.0 479.8L1470.0 477.7L1467.0 477.7L1467.0 483.1L1464.0 483.1L1464.0 485.1L1461.0 485.1L1461.0 473.8L1458.0 473.8L1458.0 474.6L1455.0 474.6L1455.0 475.5L1452.0 475.5L1452.0 467.3L1449.0 467.3L1449.0 476.8L1446.0 476.8L1446.0 479.1L1443.0 479.1L1443.0 485.4L1440.0 485.4L1440.0 492.6L1437.0 492.6L1437.0 481.7L1434.0 481.7L1434.0 468.4L1431.0 468.4L1431.0 486.3L1428.0 486.3L1428.0 501.7L1425.0 501.7L1425.0 490.9L1422.0 490.9L1422.0 486.2L1419.0 486.2L1419.0 486.0L1416.0 486.0L1416.0 471.1L1413.0 471.1L1413.0 470.6L1410.0 470.6L1410.0 473.6L1407.0 473.6L1407.0 485.7L1404.0 485.7L1404.0 500.3L1401.0 500.3L1401.0 477.3L1398.0 477.3L1398.0 488.6L1395.0 488.6L1395.0 485.2L1392.0 485.2L1392.0 481.7L1389.0 481.7L1389.0 485.9L1386.0 485.9L1386.0 484.6L1383.0 484.6L1383.0 494.4L1380.0 494.4L1380.0 500.6L1377.0 500.6L1377.0 493.3L1374.0 493.3L1374.0 492.1L1371.0 492.1L1371.0 487.5L1368.0 487.5L1368.0 480.7L1365.0 480.7L1365.0 477.3L1362.0 477.3L1362.0 424.6L1359.0 424.6L1359.0 391.0L1356.0 391.0L1356.0 443.2L1353.0 443.2L1353.0 467.8L1350.0 467.8L1350.0 485.6L1347.0 485.6L1347.0 483.0L1344.0 483.0L1344.0 489.0L1341.0 489.0L1341.0 495.9L1338.0 495.9L1338.0 506.6L1335.0 506.6L1335.0 489.8L1332.0 489.8L1332.0 493.3L1329.0 493.3L1329.0 484.2L1326.0 484.2L1326.0 487.2L1323.0 487.2L1323.0 491.1L1320.0 491.1L1320.0 478.7L1317.0 478.7L1317.0 485.7L1314.0 485.7L1314.0 484.2L1311.0 484.2L1311.0 489.8L1308.0 489.8L1308.0 498.5L1305.0 498.5L1305.0 466.6L1302.0 466.6L1302.0 390.9L1299.0 390.9L1299.0 467.2L1296.0 467.2L1296.0 481.2L1293.0 481.2L1293.0 477.8L1290.0 477.8L1290.0 481.1L1287.0 481.1L1287.0 486.2L1284.0 486.2L1284.0 487.9L1281.0 487.9L1281.0 478.8L1278.0 478.8L1278.0 474.6L1275.0 474.6L1275.0 421.5L1272.0 421.5L1272.0 449.5L1269.0 449.5L1269.0 487.7L1266.0 487.7L1266.0 484.6L1263.0 484.6L1263.0 469.4L1260.0 469.4L1260.0 446.4L1257.0 446.4L1257.0 449.1L1254.0 449.1L1254.0 491.4L1251.0 491.4L1251.0 491.4L1248.0 491.4L1248.0 484.5L1245.0 484.5L1245.0 486.7L1242.0 486.7L1242.0 442.4L1239.0 442.4L1239.0 388.1L1236.0 388.1L1236.0 451.6L1233.0 451.6L1233.0 464.1L1230.0 464.1L1230.0 480.0L1227.0 480.0L1227.0 481.6L1224.0 481.6L1224.0 498.7L1221.0 498.7L1221.0 492.3L1218.0 492.3L1218.0 488.5L1215.0 488.5L1215.0 481.5L1212.0 481.5L1212.0 476.5L1209.0 476.5L1209.0 476.5L1206.0 476.5L1206.0 483.8L1203.0 483.8L1203.0 473.5L1200.0 473.5L1200.0 476.9L1197.0 476.9L1197.0 475.3L1194.0 475.3L1194.0 479.9L1191.0 479.9L1191.0 483.0L1188.0 483.0L1188.0 478.0L1185.0 478.0L1185.0 476.6L1182.0 476.6L1182.0 487.2L1179.0 487.2L1179.0 495.7L1176.0 495.7L1176.0 485.6L1173.0 485.6L1173.0 482.3L1170.0 482.3L1170.0 477.7L1167.0 477.7L1167.0 486.6L1164.0 486.6L1164.0 482.3L1161.0 482.3L1161.0 472.5L1158.0 472.5L1158.0 476.4L1155.0 476.4L1155.0 485.1L1152.0 485.1L1152.0 496.8L1149.0 496.8L1149.0 506.3L1146.0 506.3L1146.0 509.9L1143.0 509.9L1143.0 488.8L1140.0 488.8L1140.0 480.7L1137.0 480.7L1137.0 484.1L1134.0 484.1L1134.0 472.0L1131.0 472.0L1131.0 472.1L1128.0 472.1L1128.0 470.0L1125.0 470.0L1125.0 478.8L1122.0 478.8L1122.0 486.7L1119.0 486.7L1119.0 478.2L1116.0 478.2L1116.0 489.3L1113.0 489.3L1113.0 487.0L1110.0 487.0L1110.0 483.3L1107.0 483.3L1107.0 492.4L1104.0 492.4L1104.0 482.8L1101.0 482.8L1101.0 482.9L1098.0 482.9L1098.0 460.9L1095.0 460.9L1095.0 482.2L1092.0 482.2L1092.0 476.2L1089.0 476.2L1089.0 487.5L1086.0 487.5L1086.0 479.1L1083.0 479.1L1083.0 488.3L1080.0 488.3L1080.0 486.0L1077.0 486.0L1077.0 483.9L1074.0 483.9L1074.0 488.3L1071.0 488.3L1071.0 486.3L1068.0 486.3L1068.0 491.0L1065.0 491.0L1065.0 508.4L1062.0 508.4L1062.0 508.4L1059.0 508.4L1059.0 509.6L1056.0 509.6L1056.0 505.6L1053.0 505.6L1053.0 498.8L1050.0 498.8L1050.0 499.2L1047.0 499.2L1047.0 512.2L1044.0 512.2L1044.0 512.3L1041.0 512.3L1041.0 517.5L1038.0 517.5L1038.0 503.4L1035.0 503.4L1035.0 484.6L1032.0 484.6L1032.0 459.3L1029.0 459.3L1029.0 412.4L1026.0 412.4L1026.0 418.1L1023.0 418.1L1023.0 451.6L1020.0 451.6L1020.0 493.6L1017.0 493.6L1017.0 498.3L1014.0 498.3L1014.0 498.9L1011.0 498.9L1011.0 512.5L1008.0 512.5L1008.0 515.8L1005.0 515.8L1005.0 508.7L1002.0 508.7L1002.0 526.5L999.0 526.5L999.0 526.5L996.0 526.5L996.0 498.7L993.0 498.7L993.0 504.8L990.0 504.8L990.0 516.6L987.0 516.6L987.0 515.6L984.0 515.6L984.0 509.2L981.0 509.2L981.0 512.4L978.0 512.4L978.0 521.0L975.0 521.0L975.0 505.3L972.0 505.3L972.0 509.4L969.0 509.4L969.0 500.1L966.0 500.1L966.0 499.1L963.0 499.1L963.0 496.9L960.0 496.9L960.0 501.5L957.0 501.5L957.0 508.2L954.0 508.2L954.0 499.1L951.0 499.1L951.0 502.2L948.0 502.2L948.0 504.8L945.0 504.8L945.0 509.3L942.0 509.3L942.0 504.8L939.0 504.8L939.0 485.2L936.0 485.2L936.0 492.8L933.0 492.8L933.0 496.3L930.0 496.3L930.0 489.0L927.0 489.0L927.0 480.1L924.0 480.1L924.0 482.6L921.0 482.6L921.0 475.6L918.0 475.6L918.0 482.6L915.0 482.6L915.0 481.7L912.0 481.7L912.0 489.5L909.0 489.5L909.0 490.5L906.0 490.5L906.0 492.6L903.0 492.6L903.0 497.1L900.0 497.1L900.0 493.8L897.0 493.8L897.0 498.4L894.0 498.4L894.0 505.7L891.0 505.7L891.0 507.5L888.0 507.5L888.0 539.4L885.0 539.4L885.0 516.7L882.0 516.7L882.0 511.5L879.0 511.5L879.0 507.0L876.0 507.0L876.0 505.1L873.0 505.1L873.0 503.1L870.0 503.1L870.0 516.3L867.0 516.3L867.0 516.1L864.0 516.1L864.0 517.1L861.0 517.1L861.0 511.3L858.0 511.3L858.0 506.4L855.0 506.4L855.0 509.7L852.0 509.7L852.0 522.3L849.0 522.3L849.0 520.0L846.0 520.0L846.0 524.1L843.0 524.1L843.0 522.9L840.0 522.9L840.0 518.9L837.0 518.9L837.0 519.4L834.0 519.4L834.0 537.8L831.0 537.8L831.0 527.0L828.0 527.0L828.0 519.3L825.0 519.3L825.0 524.3L822.0 524.3L822.0 527.3L819.0 527.3L819.0 518.2L816.0 518.2L816.0 518.9L813.0 518.9L813.0 513.2L810.0 513.2L810.0 525.9L807.0 525.9L807.0 526.4L804.0 526.4L804.0 526.6L801.0 526.6L801.0 529.5L798.0 529.5L798.0 542.2L795.0 542.2L795.0 539.0L792.0 539.0L792.0 541.1L789.0 541.1L789.0 535.3L786.0 535.3L786.0 532.0L783.0 532.0L783.0 513.9L780.0 513.9L780.0 542.3L777.0 542.3L777.0 543.9L774.0 543.9L774.0 557.3L771.0 557.3L771.0 565.9L768.0 565.9L768.0 567.1L765.0 567.1L765.0 575.3L762.0 575.3L762.0 571.5L759.0 571.5L759.0 573.3L756.0 573.3L756.0 567.3L753.0 567.3L753.0 579.4L750.0 579.4L750.0 570.9L747.0 570.9L747.0 580.2L744.0 580.2L744.0 572.9L741.0 572.9L741.0 586.9L738.0 586.9L738.0 591.3L735.0 591.3L735.0 590.3L732.0 590.3L732.0 586.7L729.0 586.7L729.0 582.9L726.0 582.9L726.0 590.5L723.0 590.5L723.0 576.4L720.0 576.4L720.0 587.2L717.0 587.2L717.0 587.6L714.0 587.6L714.0 603.0L711.0 603.0L711.0 599.9L708.0 599.9L708.0 599.7L705.0 599.7L705.0 595.2L702.0 595.2L702.0 584.7L699.0 584.7L699.0 587.6L696.0 587.6L696.0 591.9L693.0 591.9L693.0 592.0L690.0 592.0L690.0 586.9L687.0 586.9L687.0 605.5L684.0 605.5L684.0 607.8L681.0 607.8L681.0 606.2L678.0 606.2L678.0 606.0L675.0 606.0L675.0 611.5L672.0 611.5L672.0 612.0L669.0 612.0L669.0 608.4L666.0 608.4L666.0 603.2L663.0 603.2L663.0 610.5L660.0 610.5L660.0 604.5L657.0 604.5L657.0 610.6L654.0 610.6L654.0 621.3L651.0 621.3L651.0 613.9L648.0 613.9L648.0 609.8L645.0 609.8L645.0 608.1L642.0 608.1L642.0 599.8L639.0 599.8L639.0 603.7L636.0 603.7L636.0 612.9L633.0 612.9L633.0 599.3L630.0 599.3L630.0 588.7L627.0 588.7L627.0 535.7L624.0 535.7L624.0 466.7L621.0 466.7L621.0 533.7L618.0 533.7L618.0 568.9L615.0 568.9L615.0 578.0L612.0 578.0L612.0 581.5L609.0 581.5L609.0 587.1L606.0 587.1L606.0 587.1L603.0 587.1L603.0 579.7L600.0 579.7L600.0 588.7L597.0 588.7L597.0 587.1L594.0 587.1L594.0 579.2L591.0 579.2L591.0 579.6L588.0 579.6L588.0 583.7L585.0 583.7L585.0 581.4L582.0 581.4L582.0 582.2L579.0 582.2L579.0 586.9L576.0 586.9L576.0 586.6L573.0 586.6L573.0 585.7L570.0 585.7L570.0 592.0L567.0 592.0L567.0 589.6L564.0 589.6L564.0 579.7L561.0 579.7L561.0 581.8L558.0 581.8L558.0 586.8L555.0 586.8L555.0 589.9L552.0 589.9L552.0 594.7L549.0 594.7L549.0 591.1L546.0 591.1L546.0 595.1L543.0 595.1L543.0 583.3L540.0 583.3L540.0 577.7L537.0 577.7L537.0 574.4L534.0 574.4L534.0 571.0L531.0 571.0L531.0 570.0L528.0 570.0L528.0 576.1L525.0 576.1L525.0 584.0L522.0 584.0L522.0 590.5L519.0 590.5L519.0 581.9L516.0 581.9L516.0 582.0L513.0 582.0L513.0 581.8L510.0 581.8L510.0 597.6L507.0 597.6L507.0 586.8L504.0 586.8L504.0 593.4L501.0 593.4L501.0 589.9L498.0 589.9L498.0 579.6L495.0 579.6L495.0 588.3L492.0 588.3L492.0 582.4L489.0 582.4L489.0 584.2L486.0 584.2L486.0 584.9L483.0 584.9L483.0 589.1L480.0 589.1L480.0 590.9L477.0 590.9L477.0 607.3L474.0 607.3L474.0 592.6L471.0 592.6L471.0 584.5L468.0 584.5L468.0 586.6L465.0 586.6L465.0 587.0L462.0 587.0L462.0 585.8L459.0 585.8L459.0 594.7L456.0 594.7L456.0 599.5L453.0 599.5L453.0 594.7L450.0 594.7L450.0 591.5L447.0 591.5L447.0 590.8L444.0 590.8L444.0 592.5L441.0 592.5L441.0 597.8L438.0 597.8L438.0 591.2L435.0 591.2L435.0 586.8L432.0 586.8L432.0 597.8L429.0 597.8L429.0 593.3L426.0 593.3L426.0 602.4L423.0 602.4L423.0 599.0L420.0 599.0L420.0 602.4L417.0 602.4L417.0 592.0L414.0 592.0L414.0 606.0L411.0 606.0L411.0 592.9L408.0 592.9L408.0 592.3L405.0 592.3L405.0 590.1L402.0 590.1L402.0 600.1L399.0 600.1L399.0 588.5L396.0 588.5L396.0 589.5L393.0 589.5L393.0 580.5L390.0 580.5L390.0 582.6L387.0 582.6L387.0 594.0L384.0 594.0L384.0 599.0L381.0 599.0L381.0 587.0L378.0 587.0L378.0 586.8L375.0 586.8L375.0 593.3L372.0 593.3L372.0 600.1L369.0 600.1L369.0 593.8L366.0 593.8L366.0 587.7L363.0 587.7L363.0 593.3L360.0 593.3L360.0 589.3L357.0 589.3L357.0 586.3L354.0 586.3L354.0 575.4L351.0 575.4L351.0 576.9L348.0 576.9L348.0 568.7L345.0 568.7L345.0 571.7L342.0 571.7L342.0 573.1L339.0 573.1L339.0 568.4L336.0 568.4L336.0 565.2L333.0 565.2L333.0 561.6L330.0 561.6L330.0 557.4L327.0 557.4L327.0 560.7L324.0 560.7L324.0 560.1L321.0 560.1L321.0 558.8L318.0 558.8L318.0 551.4L315.0 551.4L315.0 548.4L312.0 548.4L312.0 547.2L309.0 547.2L309.0 554.3L306.0 554.3L306.0 552.0L303.0 552.0L303.0 541.1L300.0 541.1L300.0 534.8L297.0 534.8L297.0 535.4L294.0 535.4L294.0 535.3L291.0 535.3L291.0 534.2L288.0 534.2L288.0 535.0L285.0 535.0Z" fill="#ff0000"/>
<path d="M285.0 817.1L288.0 817.1L288.0 828.1L291.0 828.1L291.0 827.3L294.0 827.3L294.0 827.3L297.0 827.3L297.0 828.7L300.0 828.7L300.0 830.6L303.0 830.6L303.0 828.9L306.0 828.9L306.0 840.0L309.0 840.0L309.0 839.2L312.0 839.2L312.0 837.5L315.0 837.5L315.0 837.1L318.0 837.1L318.0 826.4L321.0 826.4L321.0 830.5L324.0 830.5L324.0 836.3L327.0 836.3L327.0 840.5L330.0 840.5L330.0 832.7L333.0 832.7L333.0 842.0L336.0 842.0L336.0 838.1L339.0 838.1L339.0 839.5L342.0 839.5L342.0 841.8L345.0 841.8L345.0 842.8L348.0 842.8L348.0 844.3L351.0 844.3L351.0 840.5L354.0 840.5L354.0 835.4L357.0 835.4L357.0 845.5L360.0 845.5L360.0 843.8L363.0 843.8L363.0 838.3L366.0 838.3L366.0 840.8L369.0 840.8L369.0 840.8L372.0 840.8L372.0 846.5L375.0 846.5L375.0 849.3L378.0 849.3L378.0 850.2L381.0 850.2L381.0 847.2L384.0 847.2L384.0 847.1L387.0 847.1L387.0 852.1L390.0 852.1L390.0 853.0L393.0 853.0L393.0 856.7L396.0 856.7L396.0 846.6L399.0 846.6L399.0 845.2L402.0 845.2L402.0 848.4L405.0 848.4L405.0 848.5L408.0 848.5L408.0 845.1L411.0 845.1L411.0 850.7L414.0 850.7L414.0 853.6L417.0 853.6L417.0 848.1L420.0 848.1L420.0 852.3L423.0 852.3L423.0 848.4L426.0 848.4L426.0 851.2L429.0 851.2L429.0 846.8L432.0 846.8L432.0 855.0L435.0 855.0L435.0 851.0L438.0 851.0L438.0 847.7L441.0 847.7L441.0 846.7L444.0 846.7L444.0 850.0L447.0 850.0L447.0 852.4L450.0 852.4L450.0 848.3L453.0 848.3L453.0 853.4L456.0 853.4L456.0 847.4L459.0 847.4L459.0 849.2L462.0 849.2L462.0 850.4L465.0 850.4L465.0 851.0L468.0 851.0L468.0 849.5L471.0 849.5L471.0 844.1L474.0 844.1L474.0 846.8L477.0 846.8L477.0 854.4L480.0 854.4L480.0 849.4L483.0 849.4L483.0 846.9L486.0 846.9L486.0 853.8L489.0 853.8L489.0 852.4L492.0 852.4L492.0 846.1L495.0 846.1L495.0 850.4L498.0 850.4L498.0 849.6L501.0 849.6L501.0 853.3L504.0 853.3L504.0 840.7L507.0 840.7L507.0 838.7L510.0 838.7L510.0 844.8L513.0 844.8L513.0 850.1L516.0 850.1L516.0 846.5L519.0 846.5L519.0 849.0L522.0 849.0L522.0 844.1L525.0 844.1L525.0 843.6L528.0 843.6L528.0 845.5L531.0 845.5L531.0 842.4L534.0 842.4L534.0 845.6L537.0 845.6L537.0 849.1L540.0 849.1L540.0 845.1L543.0 845.1L543.0 844.9L546.0 844.9L546.0 847.2L549.0 847.2L549.0 849.1L552.0 849.1L552.0 848.8L555.0 848.8L555.0 852.0L558.0 852.0L558.0 847.2L561.0 847.2L561.0 844.3L564.0 844.3L564.0 843.0L567.0 843.0L567.0 844.0L570.0 844.0L570.0 842.8L573.0 842.8L573.0 849.6L576.0 849.6L576.0 844.1L579.0 844.1L579.0 845.3L582.0 845.3L582.0 846.2L585.0 846.2L585.0 851.7L588.0 851.7L588.0 854.4L591.0 854.4L591.0 854.3L594.0 854.3L594.0 842.6L597.0 842.6L597.0 837.4L600.0 837.4L600.0 832.1L603.0 832.1L603.0 835.1L606.0 835.1L606.0 843.4L609.0 843.4L609.0 842.8L612.0 842.8L612.0 841.5L615.0 841.5L615.0 843.1L618.0 843.1L618.0 840.1L621.0 840.1L621.0 844.0L624.0 844.0L624.0 841.7L627.0 841.7L627.0 821.4L630.0 821.4L630.0 825.2L633.0 825.2L633.0 831.9L636.0 831.9L636.0 840.7L639.0 840.7L639.0 848.4L642.0 848.4L642.0 846.3L645.0 846.3L645.0 844.6L648.0 844.6L648.0 840.9L651.0 840.9L651.0 841.1L654.0 841.1L654.0 843.3L657.0 843.3L657.0 838.9L660.0 838.9L660.0 845.2L663.0 845.2L663.0 842.8L666.0 842.8L666.0 836.9L669.0 836.9L669.0 842.9L672.0 842.9L672.0 833.6L675.0 833.6L675.0 828.3L678.0 828.3L678.0 825.2L681.0 825.2L681.0 837.9L684.0 837.9L684.0 848.2L687.0 848.2L687.0 841.4L690.0 841.4L690.0 845.1L693.0 845.1L693.0 845.8L696.0 845.8L696.0 847.7L699.0 847.7L699.0 844.7L702.0 844.7L702.0 840.2L705.0 840.2L705.0 847.8L708.0 847.8L708.0 842.2L711.0 842.2L711.0 836.2L714.0 836.2L714.0 833.4L717.0 833.4L717.0 827.7L720.0 827.7L720.0 835.9L723.0 835.9L723.0 834.4L726.0 834.4L726.0 835.5L729.0 835.5L729.0 836.8L732.0 836.8L732.0 837.5L735.0 837.5L735.0 835.2L738.0 835.2L738.0 833.9L741.0 833.9L741.0 822.3L744.0 822.3L744.0 790.8L747.0 790.8L747.0 787.2L750.0 787.2L750.0 820.2L753.0 820.2L753.0 828.6L756.0 828.6L756.0 827.3L759.0 827.3L759.0 830.1L762.0 830.1L762.0 828.9L765.0 828.9L765.0 826.5L768.0 826.5L768.0 827.9L771.0 827.9L771.0 823.6L774.0 823.6L774.0 826.7L777.0 826.7L777.0 822.4L780.0 822.4L780.0 832.6L783.0 832.6L783.0 831.4L786.0 831.4L786.0 825.2L789.0 825.2L789.0 829.6L792.0 829.6L792.0 817.7L795.0 817.7L795.0 821.6L798.0 821.6L798.0 816.3L801.0 816.3L801.0 815.9L804.0 815.9L804.0 816.9L807.0 816.9L807.0 817.3L810.0 817.3L810.0 817.0L813.0 817.0L813.0 801.1L816.0 801.1L816.0 801.1L819.0 801.1L819.0 812.2L822.0 812.2L822.0 822.7L825.0 822.7L825.0 813.0L828.0 813.0L828.0 808.7L831.0 808.7L831.0 806.1L834.0 806.1L834.0 808.0L837.0 808.0L837.0 814.2L840.0 814.2L840.0 810.8L843.0 810.8L843.0 813.5L846.0 813.5L846.0 812.8L849.0 812.8L849.0 801.3L852.0 801.3L852.0 807.9L855.0 807.9L855.0 812.5L858.0 812.5L858.0 815.7L861.0 815.7L861.0 803.7L864.0 803.7L864.0 806.8L867.0 806.8L867.0 798.9L870.0 798.9L870.0 761.6L873.0 761.6L873.0 761.6L876.0 761.6L876.0 780.8L879.0 780.8L879.0 792.3L882.0 792.3L882.0 796.0L885.0 796.0L885.0 797.3L888.0 797.3L888.0 798.0L891.0 798.0L891.0 794.5L894.0 794.5L894.0 783.8L897.0 783.8L897.0 771.3L900.0 771.3L900.0 733.5L903.0 733.5L903.0 648.2L906.0 648.2L906.0 646.9L909.0 646.9L909.0 740.9L912.0 740.9L912.0 765.3L915.0 765.3L915.0 776.8L918.0 776.8L918.0 801.0L921.0 801.0L921.0 800.6L924.0 800.6L924.0 794.5L927.0 794.5L927.0 793.7L930.0 793.7L930.0 789.4L933.0 789.4L933.0 737.0L936.0 737.0L936.0 736.4L939.0 736.4L939.0 785.0L942.0 785.0L942.0 801.0L945.0 801.0L945.0 808.4L948.0 808.4L948.0 806.1L951.0 806.1L951.0 804.8L954.0 804.8L954.0 802.8L957.0 802.8L957.0 797.5L960.0 797.5L960.0 794.7L963.0 794.7L963.0 798.1L966.0 798.1L966.0 795.2L969.0 795.2L969.0 795.0L972.0 795.0L972.0 787.3L975.0 787.3L975.0 785.0L978.0 785.0L978.0 785.0L981.0 785.0L981.0 789.2L984.0 789.2L984.0 788.1L987.0 788.1L987.0 790.3L990.0 790.3L990.0 729.6L993.0 729.6L993.0 717.4L996.0 717.4L996.0 745.5L999.0 745.5L999.0 796.0L1002.0 796.0L1002.0 793.4L1005.0 793.4L1005.0 801.0L1008.0 801.0L1008.0 799.2L1011.0 799.2L1011.0 799.0L1014.0 799.0L1014.0 801.4L1017.0 801.4L1017.0 797.9L1020.0 797.9L1020.0 794.4L1023.0 794.4L1023.0 780.0L1026.0 780.0L1026.0 778.4L1029.0 778.4L1029.0 778.9L1032.0 778.9L1032.0 780.7L1035.0 780.7L1035.0 778.2L1038.0 778.2L1038.0 773.6L1041.0 773.6L1041.0 775.9L1044.0 775.9L1044.0 769.7L1047.0 769.7L1047.0 762.3L1050.0 762.3L1050.0 767.1L1053.0 767.1L1053.0 767.2L1056.0 767.2L1056.0 769.4L1059.0 769.4L1059.0 769.5L1062.0 769.5L1062.0 776.0L1065.0 776.0L1065.0 759.6L1068.0 759.6L1068.0 724.4L1071.0 724.4L1071.0 708.4L1074.0 708.4L1074.0 718.5L1077.0 718.5L1077.0 759.9L1080.0 759.9L1080.0 775.1L1083.0 775.1L1083.0 771.9L1086.0 771.9L1086.0 779.1L1089.0 779.1L1089.0 782.6L1092.0 782.6L1092.0 786.1L1095.0 786.1L1095.0 797.3L1098.0 797.3L1098.0 794.8L1101.0 794.8L1101.0 800.6L1104.0 800.6L1104.0 787.6L1107.0 787.6L1107.0 784.6L1110.0 784.6L1110.0 768.7L1113.0 768.7L1113.0 731.4L1116.0 731.4L1116.0 731.4L1119.0 731.4L1119.0 772.7L1122.0 772.7L1122.0 788.4L1125.0 788.4L1125.0 789.3L1128.0 789.3L1128.0 794.7L1131.0 794.7L1131.0 793.5L1134.0 793.5L1134.0 774.7L1137.0 774.7L1137.0 764.5L1140.0 764.5L1140.0 767.1L1143.0 767.1L1143.0 751.7L1146.0 751.7L1146.0 695.4L1149.0 695.4L1149.0 689.5L1152.0 689.5L1152.0 729.7L1155.0 729.7L1155.0 765.4L1158.0 765.4L1158.0 769.3L1161.0 769.3L1161.0 762.8L1164.0 762.8L1164.0 766.2L1167.0 766.2L1167.0 759.6L1170.0 759.6L1170.0 772.0L1173.0 772.0L1173.0 777.2L1176.0 777.2L1176.0 778.4L1179.0 778.4L1179.0 784.9L1182.0 784.9L1182.0 787.0L1185.0 787.0L1185.0 787.2L1188.0 787.2L1188.0 783.5L1191.0 783.5L1191.0 795.9L1194.0 795.9L1194.0 787.6L1197.0 787.6L1197.0 782.5L1200.0 782.5L1200.0 781.5L1203.0 781.5L1203.0 774.1L1206.0 774.1L1206.0 765.2L1209.0 765.2L1209.0 742.5L1212.0 742.5L1212.0 741.8L1215.0 741.8L1215.0 772.6L1218.0 772.6L1218.0 760.3L1221.0 760.3L1221.0 713.0L1224.0 713.0L1224.0 696.8L1227.0 696.8L1227.0 705.4L1230.0 705.4L1230.0 736.8L1233.0 736.8L1233.0 774.2L1236.0 774.2L1236.0 777.6L1239.0 777.6L1239.0 760.5L1242.0 760.5L1242.0 762.3L1245.0 762.3L1245.0 759.9L1248.0 759.9L1248.0 769.7L1251.0 769.7L1251.0 772.3L1254.0 772.3L1254.0 774.3L1257.0 774.3L1257.0 762.3L1260.0 762.3L1260.0 767.6L1263.0 767.6L1263.0 765.8L1266.0 765.8L1266.0 749.9L1269.0 749.9L1269.0 718.7L1272.0 718.7L1272.0 718.7L1275.0 718.7L1275.0 731.1L1278.0 731.1L1278.0 749.0L1281.0 749.0L1281.0 748.1L1284.0 748.1L1284.0 740.8L1287.0 740.8L1287.0 732.6L1290.0 732.6L1290.0 744.4L1293.0 744.4L1293.0 746.9L1296.0 746.9L1296.0 764.8L1299.0 764.8L1299.0 767.0L1302.0 767.0L1302.0 766.3L1305.0 766.3L1305.0 776.7L1308.0 776.7L1308.0 772.5L1311.0 772.5L1311.0 771.1L1314.0 771.1L1314.0 778.2L1317.0 778.2L1317.0 773.7L1320.0 773.7L1320.0 772.5L1323.0 772.5L1323.0 765.3L1326.0 765.3L1326.0 765.7L1329.0 765.7L1329.0 764.0L1332.0 764.0L1332.0 764.6L1335.0 764.6L1335.0 766.8L1338.0 766.8L1338.0 768.0L1341.0 768.0L1341.0 768.9L1344.0 768.9L1344.0 772.7L1347.0 772.7L1347.0 760.7L1350.0 760.7L1350.0 766.7L1353.0 766.7L1353.0 755.7L1356.0 755.7L1356.0 739.4L1359.0 739.4L1359.0 743.8L1362.0 743.8L1362.0 769.9L1365.0 769.9L1365.0 764.9L1368.0 764.9L1368.0 777.3L1371.0 777.3L1371.0 775.3L1374.0 775.3L1374.0 765.2L1377.0 765.2L1377.0 765.2L1380.0 765.2L1380.0 770.8L1383.0 770.8L1383.0 747.1L1386.0 747.1L1386.0 747.1L1389.0 747.1L1389.0 779.4L1392.0 779.4L1392.0 779.8L1395.0 779.8L1395.0 774.5L1398.0 774.5L1398.0 738.1L1401.0 738.1L1401.0 711.4L1404.0 711.4L1404.0 711.4L1407.0 711.4L1407.0 745.2L1410.0 745.2L1410.0 773.1L1413.0 773.1L1413.0 734.8L1416.0 734.8L1416.0 729.4L1419.0 729.4L1419.0 754.2L1422.0 754.2L1422.0 781.2L1425.0 781.2L1425.0 783.4L1428.0 783.4L1428.0 780.1L1431.0 780.1L1431.0 767.1L1434.0 767.1L1434.0 774.4L1437.0 774.4L1437.0 780.3L1440.0 780.3L1440.0 771.7L1443.0 771.7L1443.0 772.6L1446.0 772.6L1446.0 765.7L1449.0 765.7L1449.0 755.4L1452.0 755.4L1452.0 746.6L1455.0 746.6L1455.0 742.7L1458.0 742.7L1458.0 745.5L1461.0 745.5L1461.0 745.5L1464.0 745.5L1464.0 752.8L1467.0 752.8L1467.0 756.8L1470.0 756.8L1470.0 767.2L1473.0 767.2L1473.0 770.9L1476.0 770.9L1476.0 769.8L1479.0 769.8L1479.0 762.5L1482.0 762.5L1482.0 768.6L1485.0 768.6L1485.0 767.3L1488.0 767.3L1488.0 765.8L1491.0 765.8L1491.0 764.8L1494.0 764.8L1494.0 770.4L1497.0 770.4L1497.0 772.9L1500.0 772.9L1500.0 762.8L1503.0 762.8L1503.0 765.0L1506.0 765.0L1506.0 766.9L1509.0 766.9L1509.0 770.6L1512.0 770.6L1512.0 771.2L1515.0 771.2L1515.0 775.9L1518.0 775.9L1518.0 776.1L1521.0 776.1L1521.0 774.6L1524.0 774.6L1524.0 774.6L1527.0 774.6L1527.0 768.3L1530.0 768.3L1530.0 769.2L1533.0 769.2L1533.0 778.0L1536.0 778.0L1536.0 784.1L1539.0 784.1L1539.0 774.0L1542.0 774.0L1542.0 771.4L1545.0 771.4L1545.0 775.0L1548.0 775.0L1548.0 778.7L1551.0 778.7L1551.0 776.2L1554.0 776.2L1554.0 769.1L1557.0 769.1L1557.0 769.8L1560.0 769.8L1560.0 772.4L1563.0 772.4L1563.0 771.7L1566.0 771.7L1566.0 773.8L1569.0 773.8L1569.0 780.4L1572.0 780.4L1572.0 780.7L1575.0 780.7L1575.0 794.2L1578.0 794.2L1578.0 782.4L1581.0 782.4L1581.0 774.5L1584.0 774.5L1584.0 762.2L1587.0 762.2L1587.0 744.5L1590.0 744.5L1590.0 733.6L1593.0 733.6L1593.0 730.7L1596.0 730.7L1596.0 735.6L1599.0 735.6L1599.0 739.3L1602.0 739.3L1602.0 739.1L1605.0 739.1L1605.0 743.7L1608.0 743.7L1608.0 745.4L1611.0 745.4L1611.0 757.3L1614.0 757.3L1614.0 759.9L1617.0 759.9L1617.0 759.9L1620.0 759.9L1620.0 761.5L1623.0 761.5L1623.0 758.2L1626.0 758.2L1626.0 772.0L1629.0 772.0L1629.0 770.8L1632.0 770.8L1632.0 768.3L1635.0 768.3L1635.0 762.8L1638.0 762.8L1638.0 769.1L1641.0 769.1L1641.0 770.5L1644.0 770.5L1644.0 757.9L1647.0 757.9L1647.0 733.6L1650.0 733.6L1650.0 723.8L1653.0 723.8L1653.0 738.5L1656.0 738.5L1656.0 774.8L1659.0 774.8L1659.0 772.0L1662.0 772.0L1662.0 772.9L1665.0 772.9L1665.0 773.1L1668.0 773.1L1668.0 768.5L1671.0 768.5L1671.0 766.3L1674.0 766.3L1674.0 766.4L1677.0 766.4L1677.0 768.7L1680.0 768.7L1680.0 775.1L1683.0 775.1L1683.0 780.6L1686.0 780.6L1686.0 775.3L1689.0 775.3L1689.0 773.0L1692.0 773.0L1692.0 775.1L1695.0 775.1L1695.0 777.2L1698.0 777.2L1698.0 774.8L1701.0 774.8L1701.0 770.8L1704.0 770.8L1704.0 766.8L1707.0 766.8L1707.0 761.4L1710.0 761.4L1710.0 767.3L1713.0 767.3L1713.0 768.1L1716.0 768.1L1716.0 759.0L1719.0 759.0L1719.0 772.0L1722.0 772.0L1722.0 770.9L1725.0 770.9L1725.0 763.7L1728.0 763.7L1728.0 760.5L1731.0 760.5L1731.0 771.7L1734.0 771.7L1734.0 766.4L1737.0 766.4L1737.0 776.9L1740.0 776.9L1740.0 766.8L1743.0 766.8L1743.0 766.2L1746.0 766.2L1746.0 759.3L1749.0 759.3L1749.0 762.5L1752.0 762.5L1752.0 765.7L1755.0 765.7L1755.0 765.7L1758.0 765.7L1758.0 761.2L1761.0 761.2L1761.0 757.8L1764.0 757.8L1764.0 746.8L1767.0 746.8L1767.0 735.2L1770.0 735.2L1770.0 735.5L1773.0 735.5L1773.0 751.6L1776.0 751.6L1776.0 758.5L1779.0 758.5L1779.0 754.7L1782.0 754.7L1782.0 734.1L1785.0 734.1L1785.0 694.8L1788.0 694.8L1788.0 695.1L1791.0 695.1L1791.0 704.7L1794.0 704.7L1794.0 739.8L1797.0 739.8L1797.0 758.1L1800.0 758.1L1800.0 766.3L1803.0 766.3L1803.0 763.8L1806.0 763.8L1806.0 764.6L1809.0 764.6L1809.0 754.4L1812.0 754.4L1812.0 742.4L1815.0 742.4L1815.0 739.0L1818.0 739.0L1818.0 746.1L1821.0 746.1L1821.0 753.6L1824.0 753.6L1824.0 766.0L1827.0 766.0L1827.0 766.5L1830.0 766.5L1830.0 760.0L1833.0 760.0L1833.0 758.8L1836.0 758.8L1836.0 752.1L1839.0 752.1L1839.0 752.1L1842.0 752.1L1842.0 757.8L1845.0 757.8L1845.0 760.3L1848.0 760.3L1848.0 754.5L1851.0 754.5L1851.0 749.6L1854.0 749.6L1854.0 748.0L1857.0 748.0L1857.0 750.8L1860.0 750.8L1860.0 745.8L1863.0 745.8L1863.0 755.1L1866.0 755.1L1866.0 753.3L1869.0 753.3L1869.0 757.1L1872.0 757.1L1872.0 757.4L1875.0 757.4L1875.0 756.5L1878.0 756.5L1878.0 745.3L1881.0 745.3L1881.0 746.2L1884.0 746.2L1884.0 748.8L1887.0 748.8L1887.0 747.4L1890.0 747.4L1890.0 747.1L1893.0 747.1L1893.0 750.5L1896.0 750.5L1896.0 750.9L1899.0 750.9L1899.0 754.5L1902.0 754.5L1902.0 757.5L1905.0 757.5L1905.0 758.1L1908.0 758.1L1908.0 755.3L1911.0 755.3L1911.0 756.0L1914.0 756.0L1914.0 755.6L1917.0 755.6L1917.0 750.7L1920.0 750.7L1920.0 755.1L1923.0 755.1L1923.0 753.5L1926.0 753.5L1926.0 762.1L1929.0 762.1L1929.0 769.5L1932.0 769.5L1932.0 769.8L1935.0 769.8L1935.0 765.6L1938.0 765.6L1938.0 756.6L1941.0 756.6L1941.0 756.9L1944.0 756.9L1944.0 762.9L1947.0 762.9L1947.0 761.2L1950.0 761.2L1950.0 767.1L1953.0 767.1L1953.0 758.7L1956.0 758.7L1956.0 760.6L1959.0 760.6L1959.0 769.4L1962.0 769.4L1962.0 770.4L1965.0 770.4L1965.0 774.3L1968.0 774.3L1968.0 770.3L1971.0 770.3L1971.0 774.6L1974.0 774.6L1974.0 767.3L1977.0 767.3L1977.0 774.1L1980.0 774.1L1980.0 769.5L1983.0 769.5L1983.0 759.4L1986.0 759.4L1986.0 769.7L1989.0 769.7L1989.0 773.9L1992.0 773.9L1992.0 770.1L1995.0 770.1L1995.0 769.8L1998.0 769.8L1998.0 763.3L2001.0 763.3L2001.0 760.5L2004.0 760.5L2004.0 756.6L2007.0 756.6L2007.0 763.3L2010.0 763.3L2010.0 771.3L2013.0 771.3L2013.0 774.0L2016.0 774.0L2016.0 769.4L2019.0 769.4L2019.0 772.4L2022.0 772.4L2022.0 772.1L2025.0 772.1L2025.0 775.7L2028.0 775.7L2028.0 767.7L2031.0 767.7L2031.0 757.9L2034.0 757.9L2034.0 751.3L2037.0 751.3L2037.0 745.0L2040.0 745.0L2040.0 739.5L2043.0 739.5L2043.0 742.5L2046.0 742.5L2046.0 755.9L2049.0 755.9L2049.0 765.6L2052.0 765.6L2052.0 764.9L2055.0 764.9L2055.0 764.5L2058.0 764.5L2058.0 759.2L2061.0 759.2L2061.0 731.4L2064.0 731.4L2064.0 745.5L2067.0 745.5L2067.0 757.6L2070.0 757.6L2070.0 763.5L2073.0 763.5L2073.0 759.1L2076.0 759.1L2076.0 762.4L2079.0 762.4L2079.0 764.0L2082.0 764.0L2082.0 763.6L2085.0 763.6L2085.0 756.2L2088.0 756.2L2088.0 741.9L2091.0 741.9L2091.0 738.9L2094.0 738.9L2094.0 747.4L2097.0 747.4L2097.0 749.4L2100.0 749.4L2100.0 757.2L2103.0 757.2L2103.0 765.0L2106.0 765.0L2106.0 762.1L2109.0 762.1L2109.0 755.6L2112.0 755.6L2112.0 761.6L2115.0 761.6L2115.0 763.2L2118.0 763.2L2118.0 766.2L2121.0 766.2L2121.0 765.3L2124.0 765.3L2124.0 769.5L2127.0 769.5L2127.0 769.9L2130.0 769.9L2130.0 769.6L2133.0 769.6L2133.0 769.2L2136.0 769.2L2136.0 762.1L2139.0 762.1L2139.0 766.9L2142.0 766.9L2142.0 760.5L2145.0 760.5L2145.0 767.2L2148.0 767.2L2148.0 765.5L2151.0 765.5L2151.0 764.8L2154.0 764.8L2154.0 769.1L2157.0 769.1L2157.0 758.3L2160.0 758.3L2160.0 765.1L2163.0 765.1L2163.0 762.4L2166.0 762.4L2166.0 758.5L2169.0 758.5L2169.0 757.6L2172.0 757.6L2172.0 768.2L2175.0 768.2L2175.0 767.0L2178.0 767.0L2178.0 769.2L2181.0 769.2L2181.0 767.7L2184.0 767.7L2184.0 768.5L2187.0 768.5L2187.0 768.0L2190.0 768.0L2190.0 763.4L2193.0 763.4L2193.0 755.0L2196.0 755.0L2196.0 750.3L2199.0 750.3L2199.0 764.9L2202.0 764.9L2202.0 764.9L2205.0 764.9L2205.0 752.4L2208.0 752.4L2208.0 750.9L2211.0 750.9L2211.0 762.4L2214.0 762.4L2214.0 760.0L2217.0 760.0L2217.0 767.6L2220.0 767.6L2220.0 769.5L2223.0 769.5L2223.0 763.1L2226.0 763.1L2226.0 762.3L2229.0 762.3L2229.0 764.7L2232.0 764.7L2232.0 760.2L2235.0 760.2L2235.0 756.0L2238.0 756.0L2238.0 756.0L2241.0 756.0L2241.0 750.0L2244.0 750.0L2244.0 748.4L2247.0 748.4L2247.0 752.4L2250.0 752.4L2250.0 754.4L2253.0 754.4L2253.0 755.2L2256.0 755.2L2256.0 759.4L2259.0 759.4L2259.0 759.2L2262.0 759.2L2262.0 752.2L2265.0 752.2L2265.0 757.7L2268.0 757.7L2268.0 755.3L2271.0 755.3L2271.0 752.7L2274.0 752.7L2274.0 760.2L2277.0 760.2L2277.0 757.8L2280.0 757.8L2280.0 782.7L2277.0 782.7L2277.0 769.4L2274.0 769.4L2274.0 764.1L2271.0 764.1L2271.0 766.6L2268.0 766.6L2268.0 765.9L2265.0 765.9L2265.0 766.3L2262.0 766.3L2262.0 767.6L2259.0 767.6L2259.0 776.5L2256.0 776.5L2256.0 767.2L2253.0 767.2L2253.0 766.6L2250.0 766.6L2250.0 766.9L2247.0 766.9L2247.0 763.4L2244.0 763.4L2244.0 767.0L2241.0 767.0L2241.0 767.2L2238.0 767.2L2238.0 771.3L2235.0 771.3L2235.0 778.5L2232.0 778.5L2232.0 774.7L2229.0 774.7L2229.0 775.3L2226.0 775.3L2226.0 781.9L2223.0 781.9L2223.0 781.2L2220.0 781.2L2220.0 780.5L2217.0 780.5L2217.0 780.5L2214.0 780.5L2214.0 780.6L2211.0 780.6L2211.0 770.7L2208.0 770.7L2208.0 768.1L2205.0 768.1L2205.0 778.1L2202.0 778.1L2202.0 774.2L2199.0 774.2L2199.0 772.6L2196.0 772.6L2196.0 772.2L2193.0 772.2L2193.0 777.9L2190.0 777.9L2190.0 788.1L2187.0 788.1L2187.0 776.7L2184.0 776.7L2184.0 783.2L2181.0 783.2L2181.0 783.9L2178.0 783.9L2178.0 775.4L2175.0 775.4L2175.0 778.7L2172.0 778.7L2172.0 772.7L2169.0 772.7L2169.0 769.6L2166.0 769.6L2166.0 775.6L2163.0 775.6L2163.0 778.4L2160.0 778.4L2160.0 778.4L2157.0 778.4L2157.0 782.3L2154.0 782.3L2154.0 776.3L2151.0 776.3L2151.0 777.5L2148.0 777.5L2148.0 776.1L2145.0 776.1L2145.0 777.5L2142.0 777.5L2142.0 780.8L2139.0 780.8L2139.0 778.5L2136.0 778.5L2136.0 781.1L2133.0 781.1L2133.0 781.1L2130.0 781.1L2130.0 778.8L2127.0 778.8L2127.0 777.8L2124.0 777.8L2124.0 780.9L2121.0 780.9L2121.0 782.1L2118.0 782.1L2118.0 779.3L2115.0 779.3L2115.0 777.7L2112.0 777.7L2112.0 777.1L2109.0 777.1L2109.0 783.3L2106.0 783.3L2106.0 785.4L2103.0 785.4L2103.0 779.1L2100.0 779.1L2100.0 775.6L2097.0 775.6L2097.0 761.2L2094.0 761.2L2094.0 753.0L2091.0 753.0L2091.0 759.4L2088.0 759.4L2088.0 775.5L2085.0 775.5L2085.0 784.9L2082.0 784.9L2082.0 779.1L2079.0 779.1L2079.0 780.2L2076.0 780.2L2076.0 775.8L2073.0 775.8L2073.0 777.0L2070.0 777.0L2070.0 782.6L2067.0 782.6L2067.0 779.0L2064.0 779.0L2064.0 764.8L2061.0 764.8L2061.0 788.0L2058.0 788.0L2058.0 774.9L2055.0 774.9L2055.0 786.9L2052.0 786.9L2052.0 792.2L2049.0 792.2L2049.0 775.6L2046.0 775.6L2046.0 759.1L2043.0 759.1L2043.0 758.5L2040.0 758.5L2040.0 764.8L2037.0 764.8L2037.0 768.9L2034.0 768.9L2034.0 774.1L2031.0 774.1L2031.0 786.4L2028.0 786.4L2028.0 787.2L2025.0 787.2L2025.0 779.7L2022.0 779.7L2022.0 780.0L2019.0 780.0L2019.0 785.1L2016.0 785.1L2016.0 782.7L2013.0 782.7L2013.0 782.4L2010.0 782.4L2010.0 777.4L2007.0 777.4L2007.0 777.4L2004.0 777.4L2004.0 774.2L2001.0 774.2L2001.0 779.4L1998.0 779.4L1998.0 783.6L1995.0 783.6L1995.0 783.0L1992.0 783.0L1992.0 784.6L1989.0 784.6L1989.0 777.1L1986.0 777.1L1986.0 777.8L1983.0 777.8L1983.0 783.2L1980.0 783.2L1980.0 786.6L1977.0 786.6L1977.0 785.0L1974.0 785.0L1974.0 790.4L1971.0 790.4L1971.0 786.5L1968.0 786.5L1968.0 787.6L1965.0 787.6L1965.0 786.1L1962.0 786.1L1962.0 776.6L1959.0 776.6L1959.0 776.0L1956.0 776.0L1956.0 779.9L1953.0 779.9L1953.0 779.7L1950.0 779.7L1950.0 777.1L1947.0 777.1L1947.0 775.0L1944.0 775.0L1944.0 768.7L1941.0 768.7L1941.0 776.9L1938.0 776.9L1938.0 777.8L1935.0 777.8L1935.0 781.4L1932.0 781.4L1932.0 784.1L1929.0 784.1L1929.0 782.6L1926.0 782.6L1926.0 777.8L1923.0 777.8L1923.0 767.0L1920.0 767.0L1920.0 765.9L1917.0 765.9L1917.0 771.5L1914.0 771.5L1914.0 765.2L1911.0 765.2L1911.0 771.5L1908.0 771.5L1908.0 776.5L1905.0 776.5L1905.0 773.6L1902.0 773.6L1902.0 769.7L1899.0 769.7L1899.0 766.5L1896.0 766.5L1896.0 767.4L1893.0 767.4L1893.0 762.8L1890.0 762.8L1890.0 759.3L1887.0 759.3L1887.0 762.2L1884.0 762.2L1884.0 766.3L1881.0 766.3L1881.0 759.9L1878.0 759.9L1878.0 768.2L1875.0 768.2L1875.0 771.4L1872.0 771.4L1872.0 773.8L1869.0 773.8L1869.0 763.5L1866.0 763.5L1866.0 766.3L1863.0 766.3L1863.0 758.8L1860.0 758.8L1860.0 761.1L1857.0 761.1L1857.0 762.8L1854.0 762.8L1854.0 764.1L1851.0 764.1L1851.0 767.6L1848.0 767.6L1848.0 777.6L1845.0 777.6L1845.0 774.0L1842.0 774.0L1842.0 766.5L1839.0 766.5L1839.0 767.4L1836.0 767.4L1836.0 776.6L1833.0 776.6L1833.0 770.5L1830.0 770.5L1830.0 779.2L1827.0 779.2L1827.0 776.5L1824.0 776.5L1824.0 770.0L1821.0 770.0L1821.0 758.4L1818.0 758.4L1818.0 754.5L1815.0 754.5L1815.0 759.2L1812.0 759.2L1812.0 769.7L1809.0 769.7L1809.0 783.7L1806.0 783.7L1806.0 782.1L1803.0 782.1L1803.0 781.9L1800.0 781.9L1800.0 774.3L1797.0 774.3L1797.0 770.4L1794.0 770.4L1794.0 743.0L1791.0 743.0L1791.0 707.9L1788.0 707.9L1788.0 737.3L1785.0 737.3L1785.0 757.9L1782.0 757.9L1782.0 770.6L1779.0 770.6L1779.0 767.6L1776.0 767.6L1776.0 770.9L1773.0 770.9L1773.0 757.4L1770.0 757.4L1770.0 750.0L1767.0 750.0L1767.0 769.0L1764.0 769.0L1764.0 778.7L1761.0 778.7L1761.0 782.9L1758.0 782.9L1758.0 783.9L1755.0 783.9L1755.0 774.7L1752.0 774.7L1752.0 780.7L1749.0 780.7L1749.0 778.9L1746.0 778.9L1746.0 775.7L1743.0 775.7L1743.0 785.9L1740.0 785.9L1740.0 791.2L1737.0 791.2L1737.0 786.0L1734.0 786.0L1734.0 785.4L1731.0 785.4L1731.0 781.6L1728.0 781.6L1728.0 778.4L1725.0 778.4L1725.0 788.7L1722.0 788.7L1722.0 785.0L1719.0 785.0L1719.0 791.8L1716.0 791.8L1716.0 779.6L1713.0 779.6L1713.0 778.2L1710.0 778.2L1710.0 771.9L1707.0 771.9L1707.0 774.5L1704.0 774.5L1704.0 784.8L1701.0 784.8L1701.0 800.3L1698.0 800.3L1698.0 792.0L1695.0 792.0L1695.0 786.2L1692.0 786.2L1692.0 793.8L1689.0 793.8L1689.0 789.8L1686.0 789.8L1686.0 792.0L1683.0 792.0L1683.0 786.4L1680.0 786.4L1680.0 787.0L1677.0 787.0L1677.0 782.7L1674.0 782.7L1674.0 783.3L1671.0 783.3L1671.0 782.9L1668.0 782.9L1668.0 790.3L1665.0 790.3L1665.0 789.7L1662.0 789.7L1662.0 789.9L1659.0 789.9L1659.0 789.3L1656.0 789.3L1656.0 778.3L1653.0 778.3L1653.0 747.4L1650.0 747.4L1650.0 765.4L1647.0 765.4L1647.0 780.1L1644.0 780.1L1644.0 783.6L1641.0 783.6L1641.0 781.4L1638.0 781.4L1638.0 781.3L1635.0 781.3L1635.0 780.4L1632.0 780.4L1632.0 778.3L1629.0 778.3L1629.0 778.8L1626.0 778.8L1626.0 778.7L1623.0 778.7L1623.0 784.3L1620.0 784.3L1620.0 777.7L1617.0 777.7L1617.0 771.8L1614.0 771.8L1614.0 766.5L1611.0 766.5L1611.0 763.0L1608.0 763.0L1608.0 756.2L1605.0 756.2L1605.0 755.1L1602.0 755.1L1602.0 747.3L1599.0 747.3L1599.0 748.4L1596.0 748.4L1596.0 744.9L1593.0 744.9L1593.0 748.8L1590.0 748.8L1590.0 766.4L1587.0 766.4L1587.0 777.7L1584.0 777.7L1584.0 792.6L1581.0 792.6L1581.0 798.3L1578.0 798.3L1578.0 801.5L1575.0 801.5L1575.0 799.5L1572.0 799.5L1572.0 793.0L1569.0 793.0L1569.0 788.4L1566.0 788.4L1566.0 786.9L1563.0 786.9L1563.0 784.0L1560.0 784.0L1560.0 779.7L1557.0 779.7L1557.0 786.8L1554.0 786.8L1554.0 798.4L1551.0 798.4L1551.0 793.2L1548.0 793.2L1548.0 785.1L1545.0 785.1L1545.0 788.3L1542.0 788.3L1542.0 795.0L1539.0 795.0L1539.0 800.3L1536.0 800.3L1536.0 787.3L1533.0 787.3L1533.0 784.8L1530.0 784.8L1530.0 782.6L1527.0 782.6L1527.0 785.4L1524.0 785.4L1524.0 786.5L1521.0 786.5L1521.0 789.4L1518.0 789.4L1518.0 787.8L1515.0 787.8L1515.0 788.3L1512.0 788.3L1512.0 795.3L1509.0 795.3L1509.0 782.1L1506.0 782.1L1506.0 786.6L1503.0 786.6L1503.0 782.5L1500.0 782.5L1500.0 784.3L1497.0 784.3L1497.0 781.8L1494.0 781.8L1494.0 783.0L1491.0 783.0L1491.0 784.1L1488.0 784.1L1488.0 775.7L1485.0 775.7L1485.0 782.5L1482.0 782.5L1482.0 775.3L1479.0 775.3L1479.0 781.6L1476.0 781.6L1476.0 782.0L1473.0 782.0L1473.0 783.0L1470.0 783.0L1470.0 775.1L1467.0 775.1L1467.0 769.3L1464.0 769.3L1464.0 762.2L1461.0 762.2L1461.0 758.8L1458.0 758.8L1458.0 757.8L1455.0 757.8L1455.0 758.6L1452.0 758.6L1452.0 769.9L1449.0 769.9L1449.0 779.1L1446.0 779.1L1446.0 782.8L1443.0 782.8L1443.0 793.4L1440.0 793.4L1440.0 792.8L1437.0 792.8L1437.0 784.8L1434.0 784.8L1434.0 786.8L1431.0 786.8L1431.0 788.4L1428.0 788.4L1428.0 798.3L1425.0 798.3L1425.0 794.1L1422.0 794.1L1422.0 785.0L1419.0 785.0L1419.0 757.4L1416.0 757.4L1416.0 776.3L1413.0 776.3L1413.0 785.8L1410.0 785.8L1410.0 781.7L1407.0 781.7L1407.0 748.4L1404.0 748.4L1404.0 741.3L1401.0 741.3L1401.0 777.7L1398.0 777.7L1398.0 792.0L1395.0 792.0L1395.0 798.7L1392.0 798.7L1392.0 800.9L1389.0 800.9L1389.0 788.3L1386.0 788.3L1386.0 778.5L1383.0 778.5L1383.0 790.4L1380.0 790.4L1380.0 784.9L1377.0 784.9L1377.0 784.9L1374.0 784.9L1374.0 786.1L1371.0 786.1L1371.0 786.3L1368.0 786.3L1368.0 785.5L1365.0 785.5L1365.0 789.5L1362.0 789.5L1362.0 775.9L1359.0 775.9L1359.0 758.9L1356.0 758.9L1356.0 781.1L1353.0 781.1L1353.0 788.2L1350.0 788.2L1350.0 776.6L1347.0 776.6L1347.0 779.7L1344.0 779.7L1344.0 782.1L1341.0 782.1L1341.0 786.6L1338.0 786.6L1338.0 782.5L1335.0 782.5L1335.0 782.5L1332.0 782.5L1332.0 774.0L1329.0 774.0L1329.0 776.8L1326.0 776.8L1326.0 784.4L1323.0 784.4L1323.0 784.1L1320.0 784.1L1320.0 784.1L1317.0 784.1L1317.0 787.0L1314.0 787.0L1314.0 790.0L1311.0 790.0L1311.0 790.3L1308.0 790.3L1308.0 786.4L1305.0 786.4L1305.0 786.8L1302.0 786.8L1302.0 780.7L1299.0 780.7L1299.0 780.5L1296.0 780.5L1296.0 768.0L1293.0 768.0L1293.0 761.7L1290.0 761.7L1290.0 751.5L1287.0 751.5L1287.0 761.5L1284.0 761.5L1284.0 770.8L1281.0 770.8L1281.0 768.2L1278.0 768.2L1278.0 762.8L1275.0 762.8L1275.0 739.4L1272.0 739.4L1272.0 756.1L1269.0 756.1L1269.0 769.0L1266.0 769.0L1266.0 776.4L1263.0 776.4L1263.0 780.9L1260.0 780.9L1260.0 779.9L1257.0 779.9L1257.0 783.6L1254.0 783.6L1254.0 790.9L1251.0 790.9L1251.0 790.9L1248.0 790.9L1248.0 774.3L1245.0 774.3L1245.0 776.2L1242.0 776.2L1242.0 786.0L1239.0 786.0L1239.0 786.3L1236.0 786.3L1236.0 791.6L1233.0 791.6L1233.0 781.1L1230.0 781.1L1230.0 740.0L1227.0 740.0L1227.0 716.2L1224.0 716.2L1224.0 763.5L1221.0 763.5L1221.0 785.9L1218.0 785.9L1218.0 784.4L1215.0 784.4L1215.0 778.7L1212.0 778.7L1212.0 771.3L1209.0 771.3L1209.0 785.1L1206.0 785.1L1206.0 796.1L1203.0 796.1L1203.0 795.4L1200.0 795.4L1200.0 800.6L1197.0 800.6L1197.0 805.5L1194.0 805.5L1194.0 803.2L1191.0 803.2L1191.0 801.0L1188.0 801.0L1188.0 801.6L1185.0 801.6L1185.0 801.8L1182.0 801.8L1182.0 802.4L1179.0 802.4L1179.0 798.8L1176.0 798.8L1176.0 792.2L1173.0 792.2L1173.0 789.9L1170.0 789.9L1170.0 783.7L1167.0 783.7L1167.0 779.7L1164.0 779.7L1164.0 783.3L1161.0 783.3L1161.0 775.7L1158.0 775.7L1158.0 781.0L1155.0 781.0L1155.0 773.2L1152.0 773.2L1152.0 732.9L1149.0 732.9L1149.0 754.9L1146.0 754.9L1146.0 777.6L1143.0 777.6L1143.0 782.9L1140.0 782.9L1140.0 779.7L1137.0 779.7L1137.0 798.1L1134.0 798.1L1134.0 810.9L1131.0 810.9L1131.0 802.8L1128.0 802.8L1128.0 804.0L1125.0 804.0L1125.0 804.9L1122.0 804.9L1122.0 800.2L1119.0 800.2L1119.0 775.9L1116.0 775.9L1116.0 771.9L1113.0 771.9L1113.0 794.4L1110.0 794.4L1110.0 809.2L1107.0 809.2L1107.0 809.5L1104.0 809.5L1104.0 811.2L1101.0 811.2L1101.0 812.2L1098.0 812.2L1098.0 809.0L1095.0 809.0L1095.0 800.5L1092.0 800.5L1092.0 793.7L1089.0 793.7L1089.0 794.5L1086.0 794.5L1086.0 793.2L1083.0 793.2L1083.0 786.3L1080.0 786.3L1080.0 778.5L1077.0 778.5L1077.0 763.1L1074.0 763.1L1074.0 727.6L1071.0 727.6L1071.0 765.9L1068.0 765.9L1068.0 781.7L1065.0 781.7L1065.0 787.8L1062.0 787.8L1062.0 785.4L1059.0 785.4L1059.0 781.7L1056.0 781.7L1056.0 785.4L1053.0 785.4L1053.0 782.9L1050.0 782.9L1050.0 784.1L1047.0 784.1L1047.0 781.7L1044.0 781.7L1044.0 784.6L1041.0 784.6L1041.0 786.8L1038.0 786.8L1038.0 793.6L1035.0 793.6L1035.0 791.4L1032.0 791.4L1032.0 790.0L1029.0 790.0L1029.0 791.8L1026.0 791.8L1026.0 803.1L1023.0 803.1L1023.0 806.7L1020.0 806.7L1020.0 808.7L1017.0 808.7L1017.0 814.9L1014.0 814.9L1014.0 815.0L1011.0 815.0L1011.0 817.8L1008.0 817.8L1008.0 815.8L1005.0 815.8L1005.0 811.4L1002.0 811.4L1002.0 810.7L999.0 810.7L999.0 799.2L996.0 799.2L996.0 748.7L993.0 748.7L993.0 793.5L990.0 793.5L990.0 809.2L987.0 809.2L987.0 808.1L984.0 808.1L984.0 805.6L981.0 805.6L981.0 804.4L978.0 804.4L978.0 799.0L975.0 799.0L975.0 800.2L972.0 800.2L972.0 807.3L969.0 807.3L969.0 818.4L966.0 818.4L966.0 812.3L963.0 812.3L963.0 812.3L960.0 812.3L960.0 815.6L957.0 815.6L957.0 820.7L954.0 820.7L954.0 828.6L951.0 828.6L951.0 823.3L948.0 823.3L948.0 823.6L945.0 823.6L945.0 822.9L942.0 822.9L942.0 813.2L939.0 813.2L939.0 792.5L936.0 792.5L936.0 792.6L933.0 792.6L933.0 802.3L930.0 802.3L930.0 807.8L927.0 807.8L927.0 810.3L924.0 810.3L924.0 818.5L921.0 818.5L921.0 809.4L918.0 809.4L918.0 804.2L915.0 804.2L915.0 784.5L912.0 784.5L912.0 774.5L909.0 774.5L909.0 744.1L906.0 744.1L906.0 736.7L903.0 736.7L903.0 789.2L900.0 789.2L900.0 797.1L897.0 797.1L897.0 803.6L894.0 803.6L894.0 811.4L891.0 811.4L891.0 811.8L888.0 811.8L888.0 810.1L885.0 810.1L885.0 811.7L882.0 811.7L882.0 810.2L879.0 810.2L879.0 801.8L876.0 801.8L876.0 784.0L873.0 784.0L873.0 805.0L870.0 805.0L870.0 818.2L867.0 818.2L867.0 828.2L864.0 828.2L864.0 819.3L861.0 819.3L861.0 824.3L858.0 824.3L858.0 820.0L855.0 820.0L855.0 820.3L852.0 820.3L852.0 820.6L849.0 820.6L849.0 828.5L846.0 828.5L846.0 824.3L843.0 824.3L843.0 827.8L840.0 827.8L840.0 831.2L837.0 831.2L837.0 826.9L834.0 826.9L834.0 823.1L831.0 823.1L831.0 826.1L828.0 826.1L828.0 830.3L825.0 830.3L825.0 837.9L822.0 837.9L822.0 828.5L819.0 828.5L819.0 828.8L816.0 828.8L816.0 826.0L813.0 826.0L813.0 833.4L810.0 833.4L810.0 833.1L807.0 833.1L807.0 833.7L804.0 833.7L804.0 832.4L801.0 832.4L801.0 836.5L798.0 836.5L798.0 831.9L795.0 831.9L795.0 838.0L792.0 838.0L792.0 844.8L789.0 844.8L789.0 835.0L786.0 835.0L786.0 843.7L783.0 843.7L783.0 843.8L780.0 843.8L780.0 840.8L777.0 840.8L777.0 846.0L774.0 846.0L774.0 836.8L771.0 836.8L771.0 835.2L768.0 835.2L768.0 845.3L765.0 845.3L765.0 843.1L762.0 843.1L762.0 848.9L759.0 848.9L759.0 846.0L756.0 846.0L756.0 844.6L753.0 844.6L753.0 845.4L750.0 845.4L750.0 823.4L747.0 823.4L747.0 825.5L744.0 825.5L744.0 839.8L741.0 839.8L741.0 843.6L738.0 843.6L738.0 849.7L735.0 849.7L735.0 849.4L732.0 849.4L732.0 846.6L729.0 846.6L729.0 854.1L726.0 854.1L726.0 848.7L723.0 848.7L723.0 856.8L720.0 856.8L720.0 842.9L717.0 842.9L717.0 848.1L714.0 848.1L714.0 858.4L711.0 858.4L711.0 859.3L708.0 859.3L708.0 864.7L705.0 864.7L705.0 861.4L702.0 861.4L702.0 862.1L699.0 862.1L699.0 863.3L696.0 863.3L696.0 856.8L693.0 856.8L693.0 853.3L690.0 853.3L690.0 857.3L687.0 857.3L687.0 860.1L684.0 860.1L684.0 858.0L681.0 858.0L681.0 847.0L678.0 847.0L678.0 840.7L675.0 840.7L675.0 847.8L672.0 847.8L672.0 856.2L669.0 856.2L669.0 850.6L666.0 850.6L666.0 852.6L663.0 852.6L663.0 855.9L660.0 855.9L660.0 857.5L657.0 857.5L657.0 851.5L654.0 851.5L654.0 857.1L651.0 857.1L651.0 853.6L648.0 853.6L648.0 862.1L645.0 862.1L645.0 859.1L642.0 859.1L642.0 857.1L639.0 857.1L639.0 857.0L636.0 857.0L636.0 847.3L633.0 847.3L633.0 848.6L630.0 848.6L630.0 844.9L627.0 844.9L627.0 853.0L624.0 853.0L624.0 853.8L621.0 853.8L621.0 851.9L618.0 851.9L618.0 865.3L615.0 865.3L615.0 858.6L612.0 858.6L612.0 853.5L609.0 853.5L609.0 852.5L606.0 852.5L606.0 851.5L603.0 851.5L603.0 850.4L600.0 850.4L600.0 848.1L597.0 848.1L597.0 867.8L594.0 867.8L594.0 875.5L591.0 875.5L591.0 868.1L588.0 868.1L588.0 872.7L585.0 872.7L585.0 864.1L582.0 864.1L582.0 855.4L579.0 855.4L579.0 861.8L576.0 861.8L576.0 861.1L573.0 861.1L573.0 861.2L570.0 861.2L570.0 856.9L567.0 856.9L567.0 862.0L564.0 862.0L564.0 859.6L561.0 859.6L561.0 864.7L558.0 864.7L558.0 865.9L555.0 865.9L555.0 864.2L552.0 864.2L552.0 860.1L549.0 860.1L549.0 864.2L546.0 864.2L546.0 861.1L543.0 861.1L543.0 863.0L540.0 863.0L540.0 859.5L537.0 859.5L537.0 858.2L534.0 858.2L534.0 859.5L531.0 859.5L531.0 859.9L528.0 859.9L528.0 860.0L525.0 860.0L525.0 866.2L522.0 866.2L522.0 860.8L519.0 860.8L519.0 862.0L516.0 862.0L516.0 861.5L513.0 861.5L513.0 858.0L510.0 858.0L510.0 862.3L507.0 862.3L507.0 857.8L504.0 857.8L504.0 865.0L501.0 865.0L501.0 865.2L498.0 865.2L498.0 865.7L495.0 865.7L495.0 865.7L492.0 865.7L492.0 867.6L489.0 867.6L489.0 874.2L486.0 874.2L486.0 860.6L483.0 860.6L483.0 867.9L480.0 867.9L480.0 869.4L477.0 869.4L477.0 864.3L474.0 864.3L474.0 854.5L471.0 854.5L471.0 862.7L468.0 862.7L468.0 864.0L465.0 864.0L465.0 869.6L462.0 869.6L462.0 861.9L459.0 861.9L459.0 863.3L456.0 863.3L456.0 866.5L453.0 866.5L453.0 863.9L450.0 863.9L450.0 873.8L447.0 873.8L447.0 875.2L444.0 875.2L444.0 862.8L441.0 862.8L441.0 870.4L438.0 870.4L438.0 865.8L435.0 865.8L435.0 863.0L432.0 863.0L432.0 866.1L429.0 866.1L429.0 866.9L426.0 866.9L426.0 868.3L423.0 868.3L423.0 871.1L420.0 871.1L420.0 865.9L417.0 865.9L417.0 868.0L414.0 868.0L414.0 863.2L411.0 863.2L411.0 864.6L408.0 864.6L408.0 862.8L405.0 862.8L405.0 862.1L402.0 862.1L402.0 862.4L399.0 862.4L399.0 861.5L396.0 861.5L396.0 864.6L393.0 864.6L393.0 865.0L390.0 865.0L390.0 869.2L387.0 869.2L387.0 862.2L384.0 862.2L384.0 858.0L381.0 858.0L381.0 866.7L378.0 866.7L378.0 864.5L375.0 864.5L375.0 854.3L372.0 854.3L372.0 856.1L369.0 856.1L369.0 857.7L366.0 857.7L366.0 855.3L363.0 855.3L363.0 860.9L360.0 860.9L360.0 861.9L357.0 861.9L357.0 852.5L354.0 852.5L354.0 850.4L351.0 850.4L351.0 861.1L348.0 861.1L348.0 861.1L345.0 861.1L345.0 851.5L342.0 851.5L342.0 854.4L339.0 854.4L339.0 855.5L336.0 855.5L336.0 857.3L333.0 857.3L333.0 854.6L330.0 854.6L330.0 849.6L327.0 849.6L327.0 852.9L324.0 852.9L324.0 850.7L321.0 850.7L321.0 844.5L318.0 844.5L318.0 847.8L315.0 847.8L315.0 857.3L312.0 857.3L312.0 851.6L309.0 851.6L309.0 848.7L306.0 848.7L306.0 850.1L303.0 850.1L303.0 848.1L300.0 848.1L300.0 840.9L297.0 840.9L297.0 838.1L294.0 838.1L294.0 838.3L291.0 838.3L291.0 840.8L288.0 840.8L288.0 841.7L285.0 841.7Z" fill="#000000"/>
<path d="M285.0 1154.7L288.0 1154.7L288.0 1156.6L291.0 1156.6L291.0 1159.9L294.0 1159.9L294.0 1158.5L297.0 1158.5L297.0 1159.4L300.0 1159.4L300.0 1161.6L303.0 1161.6L303.0 1166.1L306.0 1166.1L306.0 1167.5L309.0 1167.5L309.0 1164.2L312.0 1164.2L312.0 1167.7L315.0 1167.7L315.0 1169.5L318.0 1169.5L318.0 1170.3L321.0 1170.3L321.0 1171.1L324.0 1171.1L324.0 1167.3L327.0 1167.3L327.0 1169.5L330.0 1169.5L330.0 1170.0L333.0 1170.0L333.0 1172.4L336.0 1172.4L336.0 1174.2L339.0 1174.2L339.0 1175.9L342.0 1175.9L342.0 1176.4L345.0 1176.4L345.0 1173.3L348.0 1173.3L348.0 1174.4L351.0 1174.4L351.0 1173.9L354.0 1173.9L354.0 1179.0L357.0 1179.0L357.0 1177.4L360.0 1177.4L360.0 1178.7L363.0 1178.7L363.0 1173.9L366.0 1173.9L366.0 1173.4L369.0 1173.4L369.0 1176.7L372.0 1176.7L372.0 1177.9L375.0 1177.9L375.0 1175.2L378.0 1175.2L378.0 1175.9L381.0 1175.9L381.0 1175.7L384.0 1175.7L384.0 1174.2L387.0 1174.2L387.0 1174.1L390.0 1174.1L390.0 1174.5L393.0 1174.5L393.0 1177.7L396.0 1177.7L396.0 1179.4L399.0 1179.4L399.0 1175.5L402.0 1175.5L402.0 1179.1L405.0 1179.1L405.0 1178.6L408.0 1178.6L408.0 1177.5L411.0 1177.5L411.0 1178.1L414.0 1178.1L414.0 1178.1L417.0 1178.1L417.0 1177.9L420.0 1177.9L420.0 1177.2L423.0 1177.2L423.0 1180.3L426.0 1180.3L426.0 1178.5L429.0 1178.5L429.0 1179.5L432.0 1179.5L432.0 1183.8L435.0 1183.8L435.0 1181.1L438.0 1181.1L438.0 1177.2L441.0 1177.2L441.0 1178.1L444.0 1178.1L444.0 1178.8L447.0 1178.8L447.0 1179.0L450.0 1179.0L450.0 1178.3L453.0 1178.3L453.0 1178.3L456.0 1178.3L456.0 1178.5L459.0 1178.5L459.0 1181.0L462.0 1181.0L462.0 1181.3L465.0 1181.3L465.0 1182.8L468.0 1182.8L468.0 1183.7L471.0 1183.7L471.0 1184.0L474.0 1184.0L474.0 1183.2L477.0 1183.2L477.0 1183.1L480.0 1183.1L480.0 1181.0L483.0 1181.0L483.0 1184.6L486.0 1184.6L486.0 1184.8L489.0 1184.8L489.0 1186.6L492.0 1186.6L492.0 1183.8L495.0 1183.8L495.0 1185.5L498.0 1185.5L498.0 1183.7L501.0 1183.7L501.0 1183.2L504.0 1183.2L504.0 1183.1L507.0 1183.1L507.0 1184.2L510.0 1184.2L510.0 1182.2L513.0 1182.2L513.0 1183.4L516.0 1183.4L516.0 1183.6L519.0 1183.6L519.0 1177.6L522.0 1177.6L522.0 1182.9L525.0 1182.9L525.0 1184.3L528.0 1184.3L528.0 1187.6L531.0 1187.6L531.0 1184.4L534.0 1184.4L534.0 1183.4L537.0 1183.4L537.0 1178.1L540.0 1178.1L540.0 1179.3L543.0 1179.3L543.0 1182.3L546.0 1182.3L546.0 1182.1L549.0 1182.1L549.0 1180.8L552.0 1180.8L552.0 1181.9L555.0 1181.9L555.0 1179.1L558.0 1179.1L558.0 1184.3L561.0 1184.3L561.0 1184.0L564.0 1184.0L564.0 1184.7L567.0 1184.7L567.0 1186.3L570.0 1186.3L570.0 1188.6L573.0 1188.6L573.0 1186.2L576.0 1186.2L576.0 1183.4L579.0 1183.4L579.0 1186.7L582.0 1186.7L582.0 1187.5L585.0 1187.5L585.0 1183.8L588.0 1183.8L588.0 1184.2L591.0 1184.2L591.0 1182.2L594.0 1182.2L594.0 1182.8L597.0 1182.8L597.0 1185.0L600.0 1185.0L600.0 1185.6L603.0 1185.6L603.0 1187.3L606.0 1187.3L606.0 1187.2L609.0 1187.2L609.0 1187.6L612.0 1187.6L612.0 1186.1L615.0 1186.1L615.0 1188.7L618.0 1188.7L618.0 1188.3L621.0 1188.3L621.0 1188.5L624.0 1188.5L624.0 1188.4L627.0 1188.4L627.0 1190.3L630.0 1190.3L630.0 1190.1L633.0 1190.1L633.0 1186.0L636.0 1186.0L636.0 1188.6L639.0 1188.6L639.0 1186.9L642.0 1186.9L642.0 1188.1L645.0 1188.1L645.0 1187.5L648.0 1187.5L648.0 1188.4L651.0 1188.4L651.0 1188.5L654.0 1188.5L654.0 1187.1L657.0 1187.1L657.0 1184.2L660.0 1184.2L660.0 1185.1L663.0 1185.1L663.0 1180.6L666.0 1180.6L666.0 1178.4L669.0 1178.4L669.0 1182.7L672.0 1182.7L672.0 1184.7L675.0 1184.7L675.0 1185.8L678.0 1185.8L678.0 1178.8L681.0 1178.8L681.0 1183.7L684.0 1183.7L684.0 1183.4L687.0 1183.4L687.0 1183.4L690.0 1183.4L690.0 1178.3L693.0 1178.3L693.0 1181.1L696.0 1181.1L696.0 1180.2L699.0 1180.2L699.0 1182.0L702.0 1182.0L702.0 1184.5L705.0 1184.5L705.0 1183.6L708.0 1183.6L708.0 1180.4L711.0 1180.4L711.0 1178.0L714.0 1178.0L714.0 1183.7L717.0 1183.7L717.0 1181.6L720.0 1181.6L720.0 1178.6L723.0 1178.6L723.0 1183.0L726.0 1183.0L726.0 1183.0L729.0 1183.0L729.0 1184.8L732.0 1184.8L732.0 1183.5L735.0 1183.5L735.0 1183.7L738.0 1183.7L738.0 1180.6L741.0 1180.6L741.0 1181.2L744.0 1181.2L744.0 1181.4L747.0 1181.4L747.0 1175.8L750.0 1175.8L750.0 1176.8L753.0 1176.8L753.0 1177.9L756.0 1177.9L756.0 1180.2L759.0 1180.2L759.0 1181.0L762.0 1181.0L762.0 1178.4L765.0 1178.4L765.0 1178.3L768.0 1178.3L768.0 1177.0L771.0 1177.0L771.0 1176.0L774.0 1176.0L774.0 1172.9L777.0 1172.9L777.0 1174.0L780.0 1174.0L780.0 1175.2L783.0 1175.2L783.0 1174.1L786.0 1174.1L786.0 1170.8L789.0 1170.8L789.0 1172.5L792.0 1172.5L792.0 1170.2L795.0 1170.2L795.0 1170.9L798.0 1170.9L798.0 1171.8L801.0 1171.8L801.0 1172.7L804.0 1172.7L804.0 1172.1L807.0 1172.1L807.0 1172.9L810.0 1172.9L810.0 1173.6L813.0 1173.6L813.0 1177.7L816.0 1177.7L816.0 1173.7L819.0 1173.7L819.0 1175.7L822.0 1175.7L822.0 1173.5L825.0 1173.5L825.0 1172.8L828.0 1172.8L828.0 1170.5L831.0 1170.5L831.0 1169.3L834.0 1169.3L834.0 1169.3L837.0 1169.3L837.0 1171.4L840.0 1171.4L840.0 1166.7L843.0 1166.7L843.0 1170.5L846.0 1170.5L846.0 1172.8L849.0 1172.8L849.0 1172.5L852.0 1172.5L852.0 1169.7L855.0 1169.7L855.0 1167.7L858.0 1167.7L858.0 1170.4L861.0 1170.4L861.0 1168.6L864.0 1168.6L864.0 1170.1L867.0 1170.1L867.0 1170.0L870.0 1170.0L870.0 1166.6L873.0 1166.6L873.0 1169.6L876.0 1169.6L876.0 1172.9L879.0 1172.9L879.0 1171.0L882.0 1171.0L882.0 1169.4L885.0 1169.4L885.0 1169.7L888.0 1169.7L888.0 1169.3L891.0 1169.3L891.0 1165.1L894.0 1165.1L894.0 1157.3L897.0 1157.3L897.0 1138.4L900.0 1138.4L900.0 1094.6L903.0 1094.6L903.0 1069.4L906.0 1069.4L906.0 1088.3L909.0 1088.3L909.0 1135.0L912.0 1135.0L912.0 1153.3L915.0 1153.3L915.0 1160.4L918.0 1160.4L918.0 1161.3L921.0 1161.3L921.0 1162.9L924.0 1162.9L924.0 1165.8L927.0 1165.8L927.0 1168.4L930.0 1168.4L930.0 1161.9L933.0 1161.9L933.0 1165.3L936.0 1165.3L936.0 1165.4L939.0 1165.4L939.0 1163.0L942.0 1163.0L942.0 1159.3L945.0 1159.3L945.0 1160.5L948.0 1160.5L948.0 1159.0L951.0 1159.0L951.0 1162.2L954.0 1162.2L954.0 1162.2L957.0 1162.2L957.0 1165.6L960.0 1165.6L960.0 1166.6L963.0 1166.6L963.0 1166.9L966.0 1166.9L966.0 1164.2L969.0 1164.2L969.0 1159.6L972.0 1159.6L972.0 1158.0L975.0 1158.0L975.0 1150.5L978.0 1150.5L978.0 1140.5L981.0 1140.5L981.0 1116.4L984.0 1116.4L984.0 1071.4L987.0 1071.4L987.0 903.4L990.0 903.4L990.0 879.4L993.0 879.4L993.0 1002.5L996.0 1002.5L996.0 1095.2L999.0 1095.2L999.0 1133.1L1002.0 1133.1L1002.0 1145.6L1005.0 1145.6L1005.0 1152.8L1008.0 1152.8L1008.0 1161.0L1011.0 1161.0L1011.0 1163.8L1014.0 1163.8L1014.0 1160.9L1017.0 1160.9L1017.0 1157.5L1020.0 1157.5L1020.0 1159.5L1023.0 1159.5L1023.0 1162.6L1026.0 1162.6L1026.0 1167.2L1029.0 1167.2L1029.0 1166.1L1032.0 1166.1L1032.0 1165.0L1035.0 1165.0L1035.0 1165.4L1038.0 1165.4L1038.0 1164.5L1041.0 1164.5L1041.0 1167.9L1044.0 1167.9L1044.0 1167.7L1047.0 1167.7L1047.0 1166.7L1050.0 1166.7L1050.0 1166.9L1053.0 1166.9L1053.0 1165.8L1056.0 1165.8L1056.0 1163.5L1059.0 1163.5L1059.0 1165.4L1062.0 1165.4L1062.0 1164.5L1065.0 1164.5L1065.0 1167.9L1068.0 1167.9L1068.0 1167.1L1071.0 1167.1L1071.0 1168.2L1074.0 1168.2L1074.0 1167.4L1077.0 1167.4L1077.0 1166.7L1080.0 1166.7L1080.0 1164.6L1083.0 1164.6L1083.0 1162.2L1086.0 1162.2L1086.0 1162.6L1089.0 1162.6L1089.0 1153.9L1092.0 1153.9L1092.0 1144.8L1095.0 1144.8L1095.0 1143.5L1098.0 1143.5L1098.0 1150.5L1101.0 1150.5L1101.0 1158.7L1104.0 1158.7L1104.0 1168.3L1107.0 1168.3L1107.0 1169.8L1110.0 1169.8L1110.0 1167.4L1113.0 1167.4L1113.0 1166.0L1116.0 1166.0L1116.0 1162.7L1119.0 1162.7L1119.0 1161.6L1122.0 1161.6L1122.0 1167.6L1125.0 1167.6L1125.0 1167.7L1128.0 1167.7L1128.0 1132.6L1131.0 1132.6L1131.0 1124.4L1134.0 1124.4L1134.0 1157.4L1137.0 1157.4L1137.0 1166.3L1140.0 1166.3L1140.0 1166.3L1143.0 1166.3L1143.0 1165.1L1146.0 1165.1L1146.0 1163.9L1149.0 1163.9L1149.0 1166.5L1152.0 1166.5L1152.0 1165.4L1155.0 1165.4L1155.0 1167.4L1158.0 1167.4L1158.0 1165.9L1161.0 1165.9L1161.0 1166.2L1164.0 1166.2L1164.0 1164.3L1167.0 1164.3L1167.0 1167.0L1170.0 1167.0L1170.0 1167.8L1173.0 1167.8L1173.0 1170.8L1176.0 1170.8L1176.0 1169.0L1179.0 1169.0L1179.0 1169.5L1182.0 1169.5L1182.0 1167.6L1185.0 1167.6L1185.0 1168.9L1188.0 1168.9L1188.0 1169.9L1191.0 1169.9L1191.0 1167.7L1194.0 1167.7L1194.0 1168.9L1197.0 1168.9L1197.0 1170.4L1200.0 1170.4L1200.0 1168.4L1203.0 1168.4L1203.0 1167.9L1206.0 1167.9L1206.0 1166.7L1209.0 1166.7L1209.0 1168.3L1212.0 1168.3L1212.0 1166.3L1215.0 1166.3L1215.0 1166.0L1218.0 1166.0L1218.0 1167.3L1221.0 1167.3L1221.0 1167.1L1224.0 1167.1L1224.0 1163.0L1227.0 1163.0L1227.0 1159.8L1230.0 1159.8L1230.0 1145.9L1233.0 1145.9L1233.0 1119.8L1236.0 1119.8L1236.0 1034.5L1239.0 1034.5L1239.0 1012.2L1242.0 1012.2L1242.0 1071.3L1245.0 1071.3L1245.0 1125.5L1248.0 1125.5L1248.0 1144.6L1251.0 1144.6L1251.0 1154.7L1254.0 1154.7L1254.0 1157.5L1257.0 1157.5L1257.0 1161.9L1260.0 1161.9L1260.0 1159.5L1263.0 1159.5L1263.0 1160.8L1266.0 1160.8L1266.0 1160.8L1269.0 1160.8L1269.0 1159.0L1272.0 1159.0L1272.0 1161.4L1275.0 1161.4L1275.0 1161.8L1278.0 1161.8L1278.0 1165.2L1281.0 1165.2L1281.0 1164.0L1284.0 1164.0L1284.0 1164.2L1287.0 1164.2L1287.0 1162.5L1290.0 1162.5L1290.0 1161.8L1293.0 1161.8L1293.0 1160.7L1296.0 1160.7L1296.0 1161.8L1299.0 1161.8L1299.0 1163.2L1302.0 1163.2L1302.0 1162.4L1305.0 1162.4L1305.0 1166.7L1308.0 1166.7L1308.0 1166.4L1311.0 1166.4L1311.0 1164.7L1314.0 1164.7L1314.0 1161.2L1317.0 1161.2L1317.0 1161.6L1320.0 1161.6L1320.0 1160.3L1323.0 1160.3L1323.0 1162.4L1326.0 1162.4L1326.0 1162.7L1329.0 1162.7L1329.0 1164.0L1332.0 1164.0L1332.0 1165.5L1335.0 1165.5L1335.0 1165.2L1338.0 1165.2L1338.0 1160.5L1341.0 1160.5L1341.0 1165.0L1344.0 1165.0L1344.0 1164.1L1347.0 1164.1L1347.0 1161.7L1350.0 1161.7L1350.0 1154.8L1353.0 1154.8L1353.0 1119.7L1356.0 1119.7L1356.0 1095.8L1359.0 1095.8L1359.0 1097.4L1362.0 1097.4L1362.0 1128.0L1365.0 1128.0L1365.0 1137.7L1368.0 1137.7L1368.0 1109.2L1371.0 1109.2L1371.0 1079.9L1374.0 1079.9L1374.0 1083.5L1377.0 1083.5L1377.0 1117.9L1380.0 1117.9L1380.0 1154.6L1383.0 1154.6L1383.0 1163.3L1386.0 1163.3L1386.0 1160.8L1389.0 1160.8L1389.0 1157.4L1392.0 1157.4L1392.0 1158.0L1395.0 1158.0L1395.0 1160.4L1398.0 1160.4L1398.0 1152.6L1401.0 1152.6L1401.0 1137.3L1404.0 1137.3L1404.0 1134.8L1407.0 1134.8L1407.0 1142.7L1410.0 1142.7L1410.0 1157.1L1413.0 1157.1L1413.0 1160.1L1416.0 1160.1L1416.0 1160.1L1419.0 1160.1L1419.0 1162.8L1422.0 1162.8L1422.0 1168.6L1425.0 1168.6L1425.0 1171.9L1428.0 1171.9L1428.0 1167.7L1431.0 1167.7L1431.0 1165.5L1434.0 1165.5L1434.0 1165.6L1437.0 1165.6L1437.0 1161.2L1440.0 1161.2L1440.0 1164.0L1443.0 1164.0L1443.0 1158.6L1446.0 1158.6L1446.0 1161.0L1449.0 1161.0L1449.0 1165.0L1452.0 1165.0L1452.0 1163.5L1455.0 1163.5L1455.0 1157.4L1458.0 1157.4L1458.0 1161.9L1461.0 1161.9L1461.0 1159.4L1464.0 1159.4L1464.0 1155.9L1467.0 1155.9L1467.0 1159.9L1470.0 1159.9L1470.0 1160.3L1473.0 1160.3L1473.0 1160.6L1476.0 1160.6L1476.0 1158.8L1479.0 1158.8L1479.0 1158.7L1482.0 1158.7L1482.0 1158.7L1485.0 1158.7L1485.0 1154.3L1488.0 1154.3L1488.0 1150.3L1491.0 1150.3L1491.0 1142.0L1494.0 1142.0L1494.0 1142.2L1497.0 1142.2L1497.0 1147.1L1500.0 1147.1L1500.0 1155.4L1503.0 1155.4L1503.0 1159.8L1506.0 1159.8L1506.0 1159.7L1509.0 1159.7L1509.0 1161.9L1512.0 1161.9L1512.0 1162.4L1515.0 1162.4L1515.0 1158.8L1518.0 1158.8L1518.0 1159.2L1521.0 1159.2L1521.0 1156.0L1524.0 1156.0L1524.0 1156.0L1527.0 1156.0L1527.0 1158.7L1530.0 1158.7L1530.0 1160.0L1533.0 1160.0L1533.0 1157.9L1536.0 1157.9L1536.0 1155.8L1539.0 1155.8L1539.0 1155.8L1542.0 1155.8L1542.0 1155.8L1545.0 1155.8L1545.0 1156.7L1548.0 1156.7L1548.0 1159.0L1551.0 1159.0L1551.0 1158.2L1554.0 1158.2L1554.0 1164.2L1557.0 1164.2L1557.0 1168.9L1560.0 1168.9L1560.0 1167.7L1563.0 1167.7L1563.0 1167.5L1566.0 1167.5L1566.0 1166.4L1569.0 1166.4L1569.0 1163.3L1572.0 1163.3L1572.0 1164.4L1575.0 1164.4L1575.0 1162.7L1578.0 1162.7L1578.0 1161.6L1581.0 1161.6L1581.0 1161.2L1584.0 1161.2L1584.0 1154.3L1587.0 1154.3L1587.0 1147.2L1590.0 1147.2L1590.0 1144.7L1593.0 1144.7L1593.0 1145.1L1596.0 1145.1L1596.0 1153.8L1599.0 1153.8L1599.0 1148.3L1602.0 1148.3L1602.0 1126.2L1605.0 1126.2L1605.0 1101.8L1608.0 1101.8L1608.0 1102.3L1611.0 1102.3L1611.0 1133.1L1614.0 1133.1L1614.0 1156.1L1617.0 1156.1L1617.0 1160.0L1620.0 1160.0L1620.0 1158.8L1623.0 1158.8L1623.0 1157.7L1626.0 1157.7L1626.0 1157.0L1629.0 1157.0L1629.0 1157.2L1632.0 1157.2L1632.0 1153.5L1635.0 1153.5L1635.0 1152.0L1638.0 1152.0L1638.0 1156.7L1641.0 1156.7L1641.0 1157.8L1644.0 1157.8L1644.0 1161.1L1647.0 1161.1L1647.0 1162.0L1650.0 1162.0L1650.0 1160.8L1653.0 1160.8L1653.0 1162.5L1656.0 1162.5L1656.0 1165.8L1659.0 1165.8L1659.0 1164.8L1662.0 1164.8L1662.0 1160.6L1665.0 1160.6L1665.0 1165.1L1668.0 1165.1L1668.0 1167.0L1671.0 1167.0L1671.0 1166.2L1674.0 1166.2L1674.0 1165.1L1677.0 1165.1L1677.0 1164.1L1680.0 1164.1L1680.0 1162.2L1683.0 1162.2L1683.0 1162.9L1686.0 1162.9L1686.0 1162.1L1689.0 1162.1L1689.0 1163.0L1692.0 1163.0L1692.0 1163.0L1695.0 1163.0L1695.0 1155.3L1698.0 1155.3L1698.0 1154.1L1701.0 1154.1L1701.0 1158.4L1704.0 1158.4L1704.0 1159.7L1707.0 1159.7L1707.0 1159.4L1710.0 1159.4L1710.0 1162.9L1713.0 1162.9L1713.0 1165.2L1716.0 1165.2L1716.0 1159.9L1719.0 1159.9L1719.0 1160.2L1722.0 1160.2L1722.0 1158.0L1725.0 1158.0L1725.0 1158.7L1728.0 1158.7L1728.0 1159.3L1731.0 1159.3L1731.0 1161.2L1734.0 1161.2L1734.0 1161.8L1737.0 1161.8L1737.0 1163.5L1740.0 1163.5L1740.0 1159.4L1743.0 1159.4L1743.0 1159.7L1746.0 1159.7L1746.0 1163.4L1749.0 1163.4L1749.0 1159.8L1752.0 1159.8L1752.0 1157.1L1755.0 1157.1L1755.0 1160.1L1758.0 1160.1L1758.0 1155.8L1761.0 1155.8L1761.0 1156.0L1764.0 1156.0L1764.0 1157.3L1767.0 1157.3L1767.0 1159.7L1770.0 1159.7L1770.0 1161.2L1773.0 1161.2L1773.0 1162.6L1776.0 1162.6L1776.0 1162.6L1779.0 1162.6L1779.0 1162.2L1782.0 1162.2L1782.0 1160.3L1785.0 1160.3L1785.0 1162.1L1788.0 1162.1L1788.0 1159.3L1791.0 1159.3L1791.0 1156.6L1794.0 1156.6L1794.0 1159.5L1797.0 1159.5L1797.0 1152.6L1800.0 1152.6L1800.0 1139.0L1803.0 1139.0L1803.0 1135.4L1806.0 1135.4L1806.0 1135.4L1809.0 1135.4L1809.0 1141.3L1812.0 1141.3L1812.0 1147.5L1815.0 1147.5L1815.0 1154.8L1818.0 1154.8L1818.0 1160.6L1821.0 1160.6L1821.0 1157.0L1824.0 1157.0L1824.0 1161.4L1827.0 1161.4L1827.0 1160.1L1830.0 1160.1L1830.0 1161.7L1833.0 1161.7L1833.0 1157.2L1836.0 1157.2L1836.0 1157.0L1839.0 1157.0L1839.0 1161.9L1842.0 1161.9L1842.0 1161.6L1845.0 1161.6L1845.0 1161.0L1848.0 1161.0L1848.0 1164.3L1851.0 1164.3L1851.0 1166.9L1854.0 1166.9L1854.0 1166.7L1857.0 1166.7L1857.0 1166.4L1860.0 1166.4L1860.0 1165.4L1863.0 1165.4L1863.0 1165.5L1866.0 1165.5L1866.0 1161.1L1869.0 1161.1L1869.0 1161.1L1872.0 1161.1L1872.0 1155.7L1875.0 1155.7L1875.0 1160.1L1878.0 1160.1L1878.0 1162.7L1881.0 1162.7L1881.0 1158.6L1884.0 1158.6L1884.0 1156.8L1887.0 1156.8L1887.0 1159.9L1890.0 1159.9L1890.0 1156.6L1893.0 1156.6L1893.0 1157.9L1896.0 1157.9L1896.0 1156.6L1899.0 1156.6L1899.0 1151.8L1902.0 1151.8L1902.0 1152.2L1905.0 1152.2L1905.0 1152.8L1908.0 1152.8L1908.0 1147.6L1911.0 1147.6L1911.0 1123.9L1914.0 1123.9L1914.0 1098.3L1917.0 1098.3L1917.0 1098.6L1920.0 1098.6L1920.0 1127.9L1923.0 1127.9L1923.0 1155.5L1926.0 1155.5L1926.0 1156.9L1929.0 1156.9L1929.0 1159.0L1932.0 1159.0L1932.0 1159.8L1935.0 1159.8L1935.0 1161.4L1938.0 1161.4L1938.0 1163.2L1941.0 1163.2L1941.0 1161.8L1944.0 1161.8L1944.0 1158.4L1947.0 1158.4L1947.0 1158.3L1950.0 1158.3L1950.0 1154.8L1953.0 1154.8L1953.0 1158.5L1956.0 1158.5L1956.0 1157.9L1959.0 1157.9L1959.0 1159.6L1962.0 1159.6L1962.0 1158.9L1965.0 1158.9L1965.0 1160.9L1968.0 1160.9L1968.0 1160.5L1971.0 1160.5L1971.0 1160.7L1974.0 1160.7L1974.0 1159.2L1977.0 1159.2L1977.0 1154.1L1980.0 1154.1L1980.0 1157.2L1983.0 1157.2L1983.0 1158.7L1986.0 1158.7L1986.0 1155.4L1989.0 1155.4L1989.0 1154.7L1992.0 1154.7L1992.0 1158.0L1995.0 1158.0L1995.0 1159.0L1998.0 1159.0L1998.0 1159.0L2001.0 1159.0L2001.0 1157.9L2004.0 1157.9L2004.0 1159.6L2007.0 1159.6L2007.0 1159.4L2010.0 1159.4L2010.0 1156.6L2013.0 1156.6L2013.0 1156.4L2016.0 1156.4L2016.0 1158.6L2019.0 1158.6L2019.0 1153.9L2022.0 1153.9L2022.0 1155.9L2025.0 1155.9L2025.0 1155.5L2028.0 1155.5L2028.0 1154.7L2031.0 1154.7L2031.0 1155.7L2034.0 1155.7L2034.0 1153.9L2037.0 1153.9L2037.0 1152.7L2040.0 1152.7L2040.0 1151.3L2043.0 1151.3L2043.0 1150.6L2046.0 1150.6L2046.0 1143.4L2049.0 1143.4L2049.0 1135.9L2052.0 1135.9L2052.0 1137.7L2055.0 1137.7L2055.0 1150.4L2058.0 1150.4L2058.0 1154.8L2061.0 1154.8L2061.0 1155.4L2064.0 1155.4L2064.0 1158.5L2067.0 1158.5L2067.0 1156.6L2070.0 1156.6L2070.0 1158.4L2073.0 1158.4L2073.0 1157.7L2076.0 1157.7L2076.0 1160.3L2079.0 1160.3L2079.0 1156.8L2082.0 1156.8L2082.0 1155.1L2085.0 1155.1L2085.0 1155.2L2088.0 1155.2L2088.0 1154.6L2091.0 1154.6L2091.0 1153.6L2094.0 1153.6L2094.0 1151.5L2097.0 1151.5L2097.0 1149.9L2100.0 1149.9L2100.0 1150.9L2103.0 1150.9L2103.0 1149.5L2106.0 1149.5L2106.0 1153.5L2109.0 1153.5L2109.0 1155.5L2112.0 1155.5L2112.0 1156.9L2115.0 1156.9L2115.0 1157.8L2118.0 1157.8L2118.0 1157.0L2121.0 1157.0L2121.0 1152.4L2124.0 1152.4L2124.0 1154.5L2127.0 1154.5L2127.0 1153.4L2130.0 1153.4L2130.0 1151.3L2133.0 1151.3L2133.0 1152.9L2136.0 1152.9L2136.0 1157.0L2139.0 1157.0L2139.0 1156.7L2142.0 1156.7L2142.0 1156.2L2145.0 1156.2L2145.0 1156.5L2148.0 1156.5L2148.0 1153.2L2151.0 1153.2L2151.0 1150.7L2154.0 1150.7L2154.0 1151.9L2157.0 1151.9L2157.0 1153.6L2160.0 1153.6L2160.0 1156.5L2163.0 1156.5L2163.0 1156.3L2166.0 1156.3L2166.0 1155.1L2169.0 1155.1L2169.0 1158.3L2172.0 1158.3L2172.0 1155.8L2175.0 1155.8L2175.0 1155.1L2178.0 1155.1L2178.0 1154.0L2181.0 1154.0L2181.0 1153.1L2184.0 1153.1L2184.0 1154.1L2187.0 1154.1L2187.0 1147.8L2190.0 1147.8L2190.0 1140.2L2193.0 1140.2L2193.0 1135.4L2196.0 1135.4L2196.0 1142.0L2199.0 1142.0L2199.0 1148.4L2202.0 1148.4L2202.0 1154.7L2205.0 1154.7L2205.0 1155.4L2208.0 1155.4L2208.0 1159.7L2211.0 1159.7L2211.0 1156.1L2214.0 1156.1L2214.0 1156.6L2217.0 1156.6L2217.0 1159.3L2220.0 1159.3L2220.0 1154.8L2223.0 1154.8L2223.0 1156.9L2226.0 1156.9L2226.0 1157.8L2229.0 1157.8L2229.0 1157.7L2232.0 1157.7L2232.0 1160.8L2235.0 1160.8L2235.0 1156.7L2238.0 1156.7L2238.0 1156.5L2241.0 1156.5L2241.0 1157.5L2244.0 1157.5L2244.0 1157.8L2247.0 1157.8L2247.0 1158.4L2250.0 1158.4L2250.0 1159.0L2253.0 1159.0L2253.0 1161.9L2256.0 1161.9L2256.0 1157.9L2259.0 1157.9L2259.0 1157.9L2262.0 1157.9L2262.0 1155.7L2265.0 1155.7L2265.0 1155.8L2268.0 1155.8L2268.0 1158.6L2271.0 1158.6L2271.0 1158.2L2274.0 1158.2L2274.0 1159.1L2277.0 1159.1L2277.0 1156.7L2280.0 1156.7L2280.0 1164.2L2277.0 1164.2L2277.0 1166.4L2274.0 1166.4L2274.0 1164.2L2271.0 1164.2L2271.0 1165.6L2268.0 1165.6L2268.0 1164.2L2265.0 1164.2L2265.0 1166.8L2262.0 1166.8L2262.0 1163.8L2259.0 1163.8L2259.0 1165.2L2256.0 1165.2L2256.0 1167.7L2253.0 1167.7L2253.0 1172.8L2250.0 1172.8L2250.0 1171.3L2247.0 1171.3L2247.0 1169.9L2244.0 1169.9L2244.0 1167.3L2241.0 1167.3L2241.0 1167.1L2238.0 1167.1L2238.0 1165.2L2235.0 1165.2L2235.0 1168.0L2232.0 1168.0L2232.0 1164.7L2229.0 1164.7L2229.0 1167.2L2226.0 1167.2L2226.0 1166.8L2223.0 1166.8L2223.0 1165.8L2220.0 1165.8L2220.0 1166.3L2217.0 1166.3L2217.0 1170.9L2214.0 1170.9L2214.0 1167.2L2211.0 1167.2L2211.0 1168.3L2208.0 1168.3L2208.0 1166.9L2205.0 1166.9L2205.0 1161.4L2202.0 1161.4L2202.0 1161.8L2199.0 1161.8L2199.0 1151.6L2196.0 1151.6L2196.0 1145.6L2193.0 1145.6L2193.0 1152.4L2190.0 1152.4L2190.0 1157.8L2187.0 1157.8L2187.0 1163.6L2184.0 1163.6L2184.0 1162.7L2181.0 1162.7L2181.0 1165.7L2178.0 1165.7L2178.0 1163.9L2175.0 1163.9L2175.0 1164.6L2172.0 1164.6L2172.0 1166.4L2169.0 1166.4L2169.0 1165.5L2166.0 1165.5L2166.0 1167.3L2163.0 1167.3L2163.0 1164.3L2160.0 1164.3L2160.0 1163.6L2157.0 1163.6L2157.0 1163.3L2154.0 1163.3L2154.0 1159.6L2151.0 1159.6L2151.0 1161.3L2148.0 1161.3L2148.0 1166.4L2145.0 1166.4L2145.0 1165.3L2142.0 1165.3L2142.0 1164.9L2139.0 1164.9L2139.0 1163.2L2136.0 1163.2L2136.0 1163.6L2133.0 1163.6L2133.0 1164.6L2130.0 1164.6L2130.0 1161.9L2127.0 1161.9L2127.0 1159.1L2124.0 1159.1L2124.0 1164.1L2121.0 1164.1L2121.0 1167.2L2118.0 1167.2L2118.0 1165.6L2115.0 1165.6L2115.0 1164.7L2112.0 1164.7L2112.0 1165.5L2109.0 1165.5L2109.0 1161.7L2106.0 1161.7L2106.0 1157.8L2103.0 1157.8L2103.0 1158.2L2100.0 1158.2L2100.0 1162.1L2097.0 1162.1L2097.0 1164.6L2094.0 1164.6L2094.0 1161.5L2091.0 1161.5L2091.0 1161.3L2088.0 1161.3L2088.0 1165.9L2085.0 1165.9L2085.0 1161.9L2082.0 1161.9L2082.0 1168.4L2079.0 1168.4L2079.0 1172.3L2076.0 1172.3L2076.0 1168.6L2073.0 1168.6L2073.0 1168.5L2070.0 1168.5L2070.0 1165.3L2067.0 1165.3L2067.0 1164.2L2064.0 1164.2L2064.0 1163.1L2061.0 1163.1L2061.0 1164.6L2058.0 1164.6L2058.0 1160.3L2055.0 1160.3L2055.0 1153.6L2052.0 1153.6L2052.0 1146.6L2049.0 1146.6L2049.0 1154.9L2046.0 1154.9L2046.0 1163.0L2043.0 1163.0L2043.0 1162.5L2040.0 1162.5L2040.0 1161.9L2037.0 1161.9L2037.0 1160.3L2034.0 1160.3L2034.0 1164.6L2031.0 1164.6L2031.0 1167.2L2028.0 1167.2L2028.0 1166.9L2025.0 1166.9L2025.0 1164.5L2022.0 1164.5L2022.0 1162.8L2019.0 1162.8L2019.0 1163.7L2016.0 1163.7L2016.0 1163.0L2013.0 1163.0L2013.0 1167.6L2010.0 1167.6L2010.0 1166.1L2007.0 1166.1L2007.0 1166.9L2004.0 1166.9L2004.0 1168.6L2001.0 1168.6L2001.0 1169.3L1998.0 1169.3L1998.0 1168.0L1995.0 1168.0L1995.0 1169.3L1992.0 1169.3L1992.0 1163.2L1989.0 1163.2L1989.0 1161.9L1986.0 1161.9L1986.0 1165.3L1983.0 1165.3L1983.0 1164.3L1980.0 1164.3L1980.0 1166.3L1977.0 1166.3L1977.0 1171.9L1974.0 1171.9L1974.0 1170.8L1971.0 1170.8L1971.0 1168.4L1968.0 1168.4L1968.0 1169.2L1965.0 1169.2L1965.0 1169.2L1962.0 1169.2L1962.0 1168.4L1959.0 1168.4L1959.0 1164.2L1956.0 1164.2L1956.0 1169.2L1953.0 1169.2L1953.0 1165.3L1950.0 1165.3L1950.0 1168.7L1947.0 1168.7L1947.0 1169.4L1944.0 1169.4L1944.0 1172.0L1941.0 1172.0L1941.0 1171.1L1938.0 1171.1L1938.0 1170.6L1935.0 1170.6L1935.0 1169.8L1932.0 1169.8L1932.0 1165.3L1929.0 1165.3L1929.0 1169.0L1926.0 1169.0L1926.0 1160.6L1923.0 1160.6L1923.0 1158.7L1920.0 1158.7L1920.0 1131.1L1917.0 1131.1L1917.0 1127.1L1914.0 1127.1L1914.0 1150.8L1911.0 1150.8L1911.0 1156.0L1908.0 1156.0L1908.0 1159.8L1905.0 1159.8L1905.0 1165.3L1902.0 1165.3L1902.0 1162.2L1899.0 1162.2L1899.0 1164.5L1896.0 1164.5L1896.0 1165.5L1893.0 1165.5L1893.0 1165.9L1890.0 1165.9L1890.0 1167.5L1887.0 1167.5L1887.0 1167.7L1884.0 1167.7L1884.0 1171.4L1881.0 1171.4L1881.0 1171.4L1878.0 1171.4L1878.0 1166.6L1875.0 1166.6L1875.0 1167.5L1872.0 1167.5L1872.0 1167.1L1869.0 1167.1L1869.0 1173.8L1866.0 1173.8L1866.0 1172.2L1863.0 1172.2L1863.0 1172.4L1860.0 1172.4L1860.0 1173.6L1857.0 1173.6L1857.0 1174.5L1854.0 1174.5L1854.0 1175.4L1851.0 1175.4L1851.0 1171.2L1848.0 1171.2L1848.0 1176.5L1845.0 1176.5L1845.0 1171.5L1842.0 1171.5L1842.0 1167.7L1839.0 1167.7L1839.0 1168.9L1836.0 1168.9L1836.0 1167.7L1833.0 1167.7L1833.0 1172.1L1830.0 1172.1L1830.0 1167.2L1827.0 1167.2L1827.0 1166.1L1824.0 1166.1L1824.0 1166.4L1821.0 1166.4L1821.0 1166.5L1818.0 1166.5L1818.0 1166.5L1815.0 1166.5L1815.0 1160.5L1812.0 1160.5L1812.0 1150.7L1809.0 1150.7L1809.0 1145.2L1806.0 1145.2L1806.0 1142.2L1803.0 1142.2L1803.0 1155.8L1800.0 1155.8L1800.0 1163.7L1797.0 1163.7L1797.0 1170.2L1794.0 1170.2L1794.0 1170.1L1791.0 1170.1L1791.0 1170.8L1788.0 1170.8L1788.0 1170.1L1785.0 1170.1L1785.0 1171.7L1782.0 1171.7L1782.0 1171.4L1779.0 1171.4L1779.0 1170.0L1776.0 1170.0L1776.0 1173.9L1773.0 1173.9L1773.0 1172.0L1770.0 1172.0L1770.0 1167.9L1767.0 1167.9L1767.0 1165.6L1764.0 1165.6L1764.0 1165.4L1761.0 1165.4L1761.0 1165.1L1758.0 1165.1L1758.0 1167.4L1755.0 1167.4L1755.0 1167.1L1752.0 1167.1L1752.0 1167.7L1749.0 1167.7L1749.0 1168.3L1746.0 1168.3L1746.0 1167.4L1743.0 1167.4L1743.0 1172.1L1740.0 1172.1L1740.0 1169.1L1737.0 1169.1L1737.0 1170.5L1734.0 1170.5L1734.0 1167.9L1731.0 1167.9L1731.0 1169.9L1728.0 1169.9L1728.0 1167.0L1725.0 1167.0L1725.0 1166.6L1722.0 1166.6L1722.0 1165.4L1719.0 1165.4L1719.0 1168.4L1716.0 1168.4L1716.0 1171.6L1713.0 1171.6L1713.0 1174.3L1710.0 1174.3L1710.0 1168.4L1707.0 1168.4L1707.0 1164.8L1704.0 1164.8L1704.0 1165.1L1701.0 1165.1L1701.0 1163.3L1698.0 1163.3L1698.0 1166.7L1695.0 1166.7L1695.0 1173.5L1692.0 1173.5L1692.0 1173.5L1689.0 1173.5L1689.0 1171.2L1686.0 1171.2L1686.0 1168.8L1683.0 1168.8L1683.0 1173.4L1680.0 1173.4L1680.0 1173.3L1677.0 1173.3L1677.0 1174.3L1674.0 1174.3L1674.0 1175.1L1671.0 1175.1L1671.0 1174.2L1668.0 1174.2L1668.0 1174.8L1665.0 1174.8L1665.0 1174.8L1662.0 1174.8L1662.0 1180.2L1659.0 1180.2L1659.0 1175.0L1656.0 1175.0L1656.0 1173.1L1653.0 1173.1L1653.0 1171.1L1650.0 1171.1L1650.0 1168.8L1647.0 1168.8L1647.0 1167.9L1644.0 1167.9L1644.0 1166.3L1641.0 1166.3L1641.0 1163.6L1638.0 1163.6L1638.0 1163.1L1635.0 1163.1L1635.0 1163.9L1632.0 1163.9L1632.0 1167.3L1629.0 1167.3L1629.0 1166.4L1626.0 1166.4L1626.0 1166.8L1623.0 1166.8L1623.0 1168.4L1620.0 1168.4L1620.0 1166.8L1617.0 1166.8L1617.0 1166.7L1614.0 1166.7L1614.0 1159.3L1611.0 1159.3L1611.0 1136.3L1608.0 1136.3L1608.0 1129.4L1605.0 1129.4L1605.0 1151.5L1602.0 1151.5L1602.0 1163.5L1599.0 1163.5L1599.0 1159.1L1596.0 1159.1L1596.0 1158.3L1593.0 1158.3L1593.0 1154.0L1590.0 1154.0L1590.0 1157.5L1587.0 1157.5L1587.0 1164.4L1584.0 1164.4L1584.0 1170.5L1581.0 1170.5L1581.0 1173.9L1578.0 1173.9L1578.0 1172.8L1575.0 1172.8L1575.0 1172.9L1572.0 1172.9L1572.0 1174.6L1569.0 1174.6L1569.0 1173.9L1566.0 1173.9L1566.0 1176.6L1563.0 1176.6L1563.0 1174.8L1560.0 1174.8L1560.0 1175.5L1557.0 1175.5L1557.0 1173.7L1554.0 1173.7L1554.0 1167.7L1551.0 1167.7L1551.0 1166.0L1548.0 1166.0L1548.0 1166.0L1545.0 1166.0L1545.0 1168.4L1542.0 1168.4L1542.0 1164.8L1539.0 1164.8L1539.0 1167.6L1536.0 1167.6L1536.0 1167.1L1533.0 1167.1L1533.0 1170.1L1530.0 1170.1L1530.0 1167.9L1527.0 1167.9L1527.0 1161.9L1524.0 1161.9L1524.0 1165.4L1521.0 1165.4L1521.0 1166.9L1518.0 1166.9L1518.0 1166.6L1515.0 1166.6L1515.0 1170.5L1512.0 1170.5L1512.0 1171.0L1509.0 1171.0L1509.0 1168.7L1506.0 1168.7L1506.0 1167.3L1503.0 1167.3L1503.0 1167.1L1500.0 1167.1L1500.0 1158.6L1497.0 1158.6L1497.0 1151.6L1494.0 1151.6L1494.0 1153.5L1491.0 1153.5L1491.0 1163.4L1488.0 1163.4L1488.0 1166.5L1485.0 1166.5L1485.0 1164.2L1482.0 1164.2L1482.0 1167.3L1479.0 1167.3L1479.0 1168.5L1476.0 1168.5L1476.0 1167.3L1473.0 1167.3L1473.0 1170.2L1470.0 1170.2L1470.0 1169.3L1467.0 1169.3L1467.0 1169.5L1464.0 1169.5L1464.0 1170.1L1461.0 1170.1L1461.0 1170.0L1458.0 1170.0L1458.0 1167.6L1455.0 1167.6L1455.0 1172.3L1452.0 1172.3L1452.0 1171.5L1449.0 1171.5L1449.0 1170.6L1446.0 1170.6L1446.0 1168.5L1443.0 1168.5L1443.0 1171.3L1440.0 1171.3L1440.0 1171.7L1437.0 1171.7L1437.0 1172.2L1434.0 1172.2L1434.0 1173.5L1431.0 1173.5L1431.0 1178.8L1428.0 1178.8L1428.0 1177.9L1425.0 1177.9L1425.0 1175.1L1422.0 1175.1L1422.0 1175.0L1419.0 1175.0L1419.0 1168.9L1416.0 1168.9L1416.0 1169.4L1413.0 1169.4L1413.0 1166.7L1410.0 1166.7L1410.0 1160.3L1407.0 1160.3L1407.0 1151.5L1404.0 1151.5L1404.0 1155.8L1401.0 1155.8L1401.0 1165.0L1398.0 1165.0L1398.0 1166.0L1395.0 1166.0L1395.0 1165.9L1392.0 1165.9L1392.0 1168.1L1389.0 1168.1L1389.0 1167.7L1386.0 1167.7L1386.0 1173.0L1383.0 1173.0L1383.0 1171.2L1380.0 1171.2L1380.0 1157.8L1377.0 1157.8L1377.0 1121.1L1374.0 1121.1L1374.0 1112.4L1371.0 1112.4L1371.0 1142.8L1368.0 1142.8L1368.0 1146.8L1365.0 1146.8L1365.0 1146.4L1362.0 1146.4L1362.0 1131.2L1359.0 1131.2L1359.0 1122.9L1356.0 1122.9L1356.0 1158.0L1353.0 1158.0L1353.0 1168.9L1350.0 1168.9L1350.0 1170.4L1347.0 1170.4L1347.0 1170.2L1344.0 1170.2L1344.0 1173.1L1341.0 1173.1L1341.0 1172.9L1338.0 1172.9L1338.0 1173.0L1335.0 1173.0L1335.0 1172.3L1332.0 1172.3L1332.0 1172.4L1329.0 1172.4L1329.0 1169.4L1326.0 1169.4L1326.0 1169.7L1323.0 1169.7L1323.0 1169.4L1320.0 1169.4L1320.0 1171.0L1317.0 1171.0L1317.0 1171.2L1314.0 1171.2L1314.0 1174.4L1311.0 1174.4L1311.0 1174.7L1308.0 1174.7L1308.0 1176.6L1305.0 1176.6L1305.0 1172.4L1302.0 1172.4L1302.0 1171.1L1299.0 1171.1L1299.0 1170.4L1296.0 1170.4L1296.0 1167.3L1293.0 1167.3L1293.0 1173.3L1290.0 1173.3L1290.0 1172.5L1287.0 1172.5L1287.0 1171.5L1284.0 1171.5L1284.0 1171.1L1281.0 1171.1L1281.0 1170.1L1278.0 1170.1L1278.0 1171.1L1275.0 1171.1L1275.0 1167.5L1272.0 1167.5L1272.0 1165.7L1269.0 1165.7L1269.0 1169.1L1266.0 1169.1L1266.0 1172.0L1263.0 1172.0L1263.0 1169.3L1260.0 1169.3L1260.0 1172.3L1257.0 1172.3L1257.0 1167.1L1254.0 1167.1L1254.0 1163.8L1251.0 1163.8L1251.0 1159.8L1248.0 1159.8L1248.0 1147.8L1245.0 1147.8L1245.0 1128.7L1242.0 1128.7L1242.0 1074.5L1239.0 1074.5L1239.0 1123.0L1236.0 1123.0L1236.0 1149.1L1233.0 1149.1L1233.0 1163.0L1230.0 1163.0L1230.0 1169.2L1227.0 1169.2L1227.0 1171.2L1224.0 1171.2L1224.0 1173.3L1221.0 1173.3L1221.0 1174.1L1218.0 1174.1L1218.0 1175.5L1215.0 1175.5L1215.0 1176.2L1212.0 1176.2L1212.0 1178.0L1209.0 1178.0L1209.0 1175.9L1206.0 1175.9L1206.0 1175.8L1203.0 1175.8L1203.0 1175.8L1200.0 1175.8L1200.0 1177.3L1197.0 1177.3L1197.0 1179.0L1194.0 1179.0L1194.0 1177.9L1191.0 1177.9L1191.0 1178.2L1188.0 1178.2L1188.0 1177.4L1185.0 1177.4L1185.0 1178.9L1182.0 1178.9L1182.0 1175.9L1179.0 1175.9L1179.0 1178.2L1176.0 1178.2L1176.0 1179.1L1173.0 1179.1L1173.0 1175.5L1170.0 1175.5L1170.0 1174.9L1167.0 1174.9L1167.0 1174.3L1164.0 1174.3L1164.0 1175.1L1161.0 1175.1L1161.0 1175.9L1158.0 1175.9L1158.0 1176.4L1155.0 1176.4L1155.0 1177.4L1152.0 1177.4L1152.0 1173.0L1149.0 1173.0L1149.0 1175.0L1146.0 1175.0L1146.0 1174.4L1143.0 1174.4L1143.0 1174.2L1140.0 1174.2L1140.0 1175.2L1137.0 1175.2L1137.0 1175.4L1134.0 1175.4L1134.0 1160.6L1131.0 1160.6L1131.0 1170.9L1128.0 1170.9L1128.0 1177.9L1125.0 1177.9L1125.0 1177.4L1122.0 1177.4L1122.0 1170.8L1119.0 1170.8L1119.0 1170.9L1116.0 1170.9L1116.0 1171.4L1113.0 1171.4L1113.0 1176.2L1110.0 1176.2L1110.0 1177.0L1107.0 1177.0L1107.0 1178.5L1104.0 1178.5L1104.0 1173.4L1101.0 1173.4L1101.0 1161.9L1098.0 1161.9L1098.0 1153.8L1095.0 1153.8L1095.0 1157.1L1092.0 1157.1L1092.0 1167.6L1089.0 1167.6L1089.0 1173.5L1086.0 1173.5L1086.0 1174.3L1083.0 1174.3L1083.0 1174.2L1080.0 1174.2L1080.0 1173.4L1077.0 1173.4L1077.0 1175.8L1074.0 1175.8L1074.0 1176.7L1071.0 1176.7L1071.0 1176.6L1068.0 1176.6L1068.0 1174.9L1065.0 1174.9L1065.0 1175.9L1062.0 1175.9L1062.0 1171.8L1059.0 1171.8L1059.0 1175.3L1056.0 1175.3L1056.0 1174.6L1053.0 1174.6L1053.0 1174.6L1050.0 1174.6L1050.0 1174.6L1047.0 1174.6L1047.0 1175.0L1044.0 1175.0L1044.0 1175.8L1041.0 1175.8L1041.0 1173.8L1038.0 1173.8L1038.0 1175.0L1035.0 1175.0L1035.0 1175.3L1032.0 1175.3L1032.0 1174.0L1029.0 1174.0L1029.0 1174.8L1026.0 1174.8L1026.0 1173.2L1023.0 1173.2L1023.0 1169.3L1020.0 1169.3L1020.0 1167.0L1017.0 1167.0L1017.0 1168.4L1014.0 1168.4L1014.0 1169.9L1011.0 1169.9L1011.0 1169.9L1008.0 1169.9L1008.0 1165.3L1005.0 1165.3L1005.0 1159.0L1002.0 1159.0L1002.0 1148.8L999.0 1148.8L999.0 1136.3L996.0 1136.3L996.0 1098.4L993.0 1098.4L993.0 1005.7L990.0 1005.7L990.0 1074.6L987.0 1074.6L987.0 1119.6L984.0 1119.6L984.0 1143.7L981.0 1143.7L981.0 1155.9L978.0 1155.9L978.0 1161.5L975.0 1161.5L975.0 1164.5L972.0 1164.5L972.0 1171.3L969.0 1171.3L969.0 1171.5L966.0 1171.5L966.0 1175.2L963.0 1175.2L963.0 1176.0L960.0 1176.0L960.0 1175.3L957.0 1175.3L957.0 1173.0L954.0 1173.0L954.0 1167.3L951.0 1167.3L951.0 1167.0L948.0 1167.0L948.0 1166.9L945.0 1166.9L945.0 1172.1L942.0 1172.1L942.0 1171.1L939.0 1171.1L939.0 1172.3L936.0 1172.3L936.0 1176.0L933.0 1176.0L933.0 1174.2L930.0 1174.2L930.0 1176.3L927.0 1176.3L927.0 1176.6L924.0 1176.6L924.0 1172.6L921.0 1172.6L921.0 1169.7L918.0 1169.7L918.0 1169.3L915.0 1169.3L915.0 1166.2L912.0 1166.2L912.0 1156.5L909.0 1156.5L909.0 1138.2L906.0 1138.2L906.0 1097.8L903.0 1097.8L903.0 1141.6L900.0 1141.6L900.0 1161.1L897.0 1161.1L897.0 1170.6L894.0 1170.6L894.0 1174.5L891.0 1174.5L891.0 1178.4L888.0 1178.4L888.0 1176.2L885.0 1176.2L885.0 1177.5L882.0 1177.5L882.0 1178.3L879.0 1178.3L879.0 1179.3L876.0 1179.3L876.0 1177.2L873.0 1177.2L873.0 1173.8L870.0 1173.8L870.0 1179.7L867.0 1179.7L867.0 1179.1L864.0 1179.1L864.0 1179.8L861.0 1179.8L861.0 1177.6L858.0 1177.6L858.0 1176.1L855.0 1176.1L855.0 1179.2L852.0 1179.2L852.0 1180.9L849.0 1180.9L849.0 1180.6L846.0 1180.6L846.0 1179.9L843.0 1179.9L843.0 1176.7L840.0 1176.7L840.0 1177.0L837.0 1177.0L837.0 1179.4L834.0 1179.4L834.0 1179.6L831.0 1179.6L831.0 1179.0L828.0 1179.0L828.0 1183.7L825.0 1183.7L825.0 1180.8L822.0 1180.8L822.0 1184.7L819.0 1184.7L819.0 1184.2L816.0 1184.2L816.0 1184.7L813.0 1184.7L813.0 1182.1L810.0 1182.1L810.0 1182.3L807.0 1182.3L807.0 1181.2L804.0 1181.2L804.0 1178.4L801.0 1178.4L801.0 1178.4L798.0 1178.4L798.0 1178.2L795.0 1178.2L795.0 1179.3L792.0 1179.3L792.0 1182.5L789.0 1182.5L789.0 1185.5L786.0 1185.5L786.0 1185.5L783.0 1185.5L783.0 1183.5L780.0 1183.5L780.0 1184.6L777.0 1184.6L777.0 1184.2L774.0 1184.2L774.0 1187.1L771.0 1187.1L771.0 1186.4L768.0 1186.4L768.0 1187.1L765.0 1187.1L765.0 1187.0L762.0 1187.0L762.0 1189.5L759.0 1189.5L759.0 1190.3L756.0 1190.3L756.0 1185.4L753.0 1185.4L753.0 1187.4L750.0 1187.4L750.0 1184.6L747.0 1184.6L747.0 1189.3L744.0 1189.3L744.0 1185.8L741.0 1185.8L741.0 1188.6L738.0 1188.6L738.0 1191.5L735.0 1191.5L735.0 1192.6L732.0 1192.6L732.0 1193.4L729.0 1193.4L729.0 1192.5L726.0 1192.5L726.0 1190.0L723.0 1190.0L723.0 1189.4L720.0 1189.4L720.0 1191.9L717.0 1191.9L717.0 1192.3L714.0 1192.3L714.0 1187.5L711.0 1187.5L711.0 1189.6L708.0 1189.6L708.0 1189.5L705.0 1189.5L705.0 1192.1L702.0 1192.1L702.0 1189.2L699.0 1189.2L699.0 1188.6L696.0 1188.6L696.0 1189.2L693.0 1189.2L693.0 1188.8L690.0 1188.8L690.0 1193.3L687.0 1193.3L687.0 1190.6L684.0 1190.6L684.0 1190.6L681.0 1190.6L681.0 1192.2L678.0 1192.2L678.0 1194.6L675.0 1194.6L675.0 1195.4L672.0 1195.4L672.0 1190.2L669.0 1190.2L669.0 1186.8L666.0 1186.8L666.0 1190.4L663.0 1190.4L663.0 1193.5L660.0 1193.5L660.0 1191.9L657.0 1191.9L657.0 1193.9L654.0 1193.9L654.0 1196.9L651.0 1196.9L651.0 1195.4L648.0 1195.4L648.0 1194.9L645.0 1194.9L645.0 1196.6L642.0 1196.6L642.0 1192.8L639.0 1192.8L639.0 1195.4L636.0 1195.4L636.0 1195.5L633.0 1195.5L633.0 1196.6L630.0 1196.6L630.0 1197.5L627.0 1197.5L627.0 1195.9L624.0 1195.9L624.0 1198.1L621.0 1198.1L621.0 1197.8L618.0 1197.8L618.0 1197.1L615.0 1197.1L615.0 1200.1L612.0 1200.1L612.0 1198.1L609.0 1198.1L609.0 1193.8L606.0 1193.8L606.0 1193.9L603.0 1193.9L603.0 1193.0L600.0 1193.0L600.0 1191.3L597.0 1191.3L597.0 1191.5L594.0 1191.5L594.0 1191.7L591.0 1191.7L591.0 1191.0L588.0 1191.0L588.0 1192.8L585.0 1192.8L585.0 1193.9L582.0 1193.9L582.0 1193.2L579.0 1193.2L579.0 1193.9L576.0 1193.9L576.0 1196.4L573.0 1196.4L573.0 1194.3L570.0 1194.3L570.0 1194.8L567.0 1194.8L567.0 1194.7L564.0 1194.7L564.0 1193.2L561.0 1193.2L561.0 1189.6L558.0 1189.6L558.0 1189.5L555.0 1189.5L555.0 1189.0L552.0 1189.0L552.0 1190.1L549.0 1190.1L549.0 1190.6L546.0 1190.6L546.0 1190.5L543.0 1190.5L543.0 1191.7L540.0 1191.7L540.0 1189.4L537.0 1189.4L537.0 1190.2L534.0 1190.2L534.0 1196.2L531.0 1196.2L531.0 1195.4L528.0 1195.4L528.0 1194.7L525.0 1194.7L525.0 1192.2L522.0 1192.2L522.0 1191.0L519.0 1191.0L519.0 1191.1L516.0 1191.1L516.0 1195.9L513.0 1195.9L513.0 1187.9L510.0 1187.9L510.0 1190.3L507.0 1190.3L507.0 1191.5L504.0 1191.5L504.0 1193.2L501.0 1193.2L501.0 1192.5L498.0 1192.5L498.0 1192.9L495.0 1192.9L495.0 1194.6L492.0 1194.6L492.0 1196.4L489.0 1196.4L489.0 1192.9L486.0 1192.9L486.0 1193.7L483.0 1193.7L483.0 1191.1L480.0 1191.1L480.0 1192.0L477.0 1192.0L477.0 1190.0L474.0 1190.0L474.0 1190.5L471.0 1190.5L471.0 1190.6L468.0 1190.6L468.0 1192.5L465.0 1192.5L465.0 1188.8L462.0 1188.8L462.0 1190.8L459.0 1190.8L459.0 1189.6L456.0 1189.6L456.0 1188.0L453.0 1188.0L453.0 1186.3L450.0 1186.3L450.0 1185.6L447.0 1185.6L447.0 1187.7L444.0 1187.7L444.0 1189.0L441.0 1189.0L441.0 1187.7L438.0 1187.7L438.0 1187.6L435.0 1187.6L435.0 1189.6L432.0 1189.6L432.0 1191.6L429.0 1191.6L429.0 1188.0L426.0 1188.0L426.0 1186.9L423.0 1186.9L423.0 1185.6L420.0 1185.6L420.0 1187.1L417.0 1187.1L417.0 1185.4L414.0 1185.4L414.0 1187.1L411.0 1187.1L411.0 1187.1L408.0 1187.1L408.0 1186.5L405.0 1186.5L405.0 1185.6L402.0 1185.6L402.0 1187.9L399.0 1187.9L399.0 1186.6L396.0 1186.6L396.0 1182.6L393.0 1182.6L393.0 1181.3L390.0 1181.3L390.0 1182.3L387.0 1182.3L387.0 1186.8L384.0 1186.8L384.0 1184.2L381.0 1184.2L381.0 1184.7L378.0 1184.7L378.0 1184.3L375.0 1184.3L375.0 1185.5L372.0 1185.5L372.0 1186.7L369.0 1186.7L369.0 1184.9L366.0 1184.9L366.0 1183.3L363.0 1183.3L363.0 1188.1L360.0 1188.1L360.0 1184.6L357.0 1184.6L357.0 1184.2L354.0 1184.2L354.0 1184.8L351.0 1184.8L351.0 1181.9L348.0 1181.9L348.0 1183.7L345.0 1183.7L345.0 1185.2L342.0 1185.2L342.0 1187.8L339.0 1187.8L339.0 1185.1L336.0 1185.1L336.0 1183.5L333.0 1183.5L333.0 1181.0L330.0 1181.0L330.0 1179.3L327.0 1179.3L327.0 1178.3L324.0 1178.3L324.0 1177.4L321.0 1177.4L321.0 1178.2L318.0 1178.2L318.0 1178.8L315.0 1178.8L315.0 1176.8L312.0 1176.8L312.0 1176.9L309.0 1176.9L309.0 1175.4L306.0 1175.4L306.0 1174.3L303.0 1174.3L303.0 1172.4L300.0 1172.4L300.0 1167.7L297.0 1167.7L297.0 1164.9L294.0 1164.9L294.0 1173.0L291.0 1173.0L291.0 1168.7L288.0 1168.7L288.0 1168.8L285.0 1168.8Z" fill="#0000ff"/>
<path d="M285.00 1559.99L285.25 1559.99L285.50 1559.99L285.75 1559.99L286.00 1559.99L286.25 1559.99L286.50 1559.99L286.75 1559.99L287.00 1559.99L287.25 1559.99L287.50 1559.99L287.75 1559.99L288.00 1559.99L288.25 1559.99L288.50 1559.99L288.75 1559.99L289.00 1559.99L289.25 1559.99L289.50 1559.99L289.75 1559.99L290.00 1559.99L290.25 1559.99L290.50 1559.99L290.75 1559.99L291.00 1559.99L291.25 1559.99L291.50 1559.99L291.75 1559.99L292.00 1559.99L292.25 1559.99L292.50 1559.99L292.75 1559.99L293.00 1559.99L293.25 1559.99L293.50 1559.99L293.75 1559.99L294.00 1559.99L294.25 1559.99L294.50 1559.99L294.75 1559.99L295.00 1559.99L295.25 1559.99L295.50 1559.99L295.75 1559.99L296.00 1559.99L296.25 1559.99L296.50 1559.99L296.75 1559.99L297.00 1559.99L297.25 1559.99L297.50 1559.99L297.75 1559.99L298.00 1559.99L298.25 1559.99L298.50 1559.99L298.75 1559.99L299.00 1559.99L299.25 1559.99L299.50 1559.99L299.75 1559.99L300.00 1559.99L300.25 1559.99L300.50 1559.99L300.75 1559.99L301.00 1559.99L301.25 1559.99L301.50 1559.99L301.75 1559.99L302.00 1559.99L302.25 1559.99L302.50 1559.99L302.75 1559.99L303.00 1559.99L303.25 1559.99L303.50 1559.99L303.75 1559.99L304.00 1559.99L304.25 1559.99L304.50 1559.99L304.75 1559.99L305.00 1559.99L305.25 1559.99L305.50 1559.99L305.75 1559.99L306.00 1559.99L306.25 1559.99L306.50 1559.99L306.75 1559.99L307.00 1559.99L307.25 1559.99L307.50 1559.99L307.75 1559.99L308.00 1559.99L308.25 1559.99L308.50 1559.99L308.75 1559.99L309.00 1559.99L309.25 1559.99L309.50 1559.99L309.75 1559.99L310.00 1559.99L310.25 1559.99L310.50 1559.99L310.75 1559.99L311.00 1559.99L311.25 1559.99L311.50 1559.99L311.75 1559.99L312.00 1559.99L312.25 1559.99L312.50 1559.99L312.75 1559.99L313.00 1559.99L313.25 1559.99L313.50 1559.99L313.75 1559.99L314.00 1559.99L314.25 1559.99L314.50 1559.99L314.75 1559.99L315.00 1559.99L315.25 1559.99L315.50 1559.99L315.75 1559.99L316.00 1559.99L316.25 1559.99L316.50 1559.99L316.75 1559.99L317.00 1559.99L317.25 1559.99L317.50 1559.99L317.75 1559.99L318.00 1559.99L318.25 1559.99L318.50 1559.99L318.75 1559.99L319.00 1559.99L319.25 1559.99L319.50 1559.99L319.75 1559.99L320.00 1559.99L320.25 1559.99L320.50 1559.99L320.75 1559.99L321.00 1559.99L321.25 1559.99L321.50 1559.99L321.75 1559.99L322.00 1559.99L322.25 1559.99L322.50 1559.99L322.75 1559.99L323.00 1559.99L323.25 1559.99L323.50 1559.99L323.75 1559.99L324.00 1559.99L324.25 1559.99L324.50 1559.99L324.75 1559.99L325.00 1559.99L325.25 1559.99L325.50 1559.99L325.75 1559.99L326.00 1559.99L326.25 1559.99L326.50 1559.99L326.75 1559.99L327.00 1559.99L327.25 1559.99L327.50 1559.99L327.75 1559.99L328.00 1559.99L328.25 1559.99L328.50 1559.99L328.75 1559.99L329.00 1559.99L329.25 1559.99L329.50 1559.99L329.75 1559.99L330.00 1559.99L330.25 1559.99L330.50 1559.99L330.75 1559.99L331.00 1559.99L331.25 1559.99L331.50 1559.99L331.75 1559.99L332.00 1559.99L332.25 1559.99L332.50 1559.99L332.75 1559.99L333.00 1559.99L333.25 1559.99L333.50 1559.99L333.75 1559.99L334.00 1559.99L334.25 1559.99L334.50 1559.99L334.75 1559.99L335.00 1559.99L335.25 1559.99L335.50 1559.99L335.75 1559.99L336.00 1559.99L336.25 1559.99L336.50 1559.99L336.75 1559.99L337.00 1559.99L337.25 1559.99L337.50 1559.99L337.75 1559.99L338.00 1559.99L338.25 1559.99L338.50 1559.99L338.75 1559.99L339.00 1559.99L339.25 1559.99L339.50 1559.99L339.75 1559.99L340.00 1559.99L340.25 1559.99L340.50 1559.99L340.75 1559.99L341.00 1559.99L341.25 1559.99L341.50 1559.99L341.75 1559.99L342.00 1559.99L342.25 1559.99L342.50 1559.99L342.75 1559.99L343.00 1559.99L343.25 1559.99L343.50 1559.99L343.75 1559.99L344.00 1559.99L344.25 1559.99L344.50 1559.99L344.75 1559.99L345.00 1559.99L345.25 1559.99L345.50 1559.99L345.75 1559.99L346.00 1559.99L346.25 1559.99L346.50 1559.99L346.75 1559.99L347.00 1559.99L347.25 1559.99L347.50 1559.99L347.75 1559.99L348.00 1559.99L348.25 1559.99L348.50 1559.99L348.75 1559.99L349.00 1559.99L349.25 1559.99L349.50 1559.99L349.75 1559.99L350.00 1559.99L350.25 1559.99L350.50 1559.99L350.75 1559.99L351.00 1559.99L351.25 1559.99L351.50 1559.99L351.75 1559.99L352.00 1559.99L352.25 1559.99L352.50 1559.99L352.75 1559.99L353.00 1559.99L353.25 1559.99L353.50 1559.99L353.75 1559.99L354.00 1559.99L354.25 1559.99L354.50 1559.99L354.75 1559.99L355.00 1559.99L355.25 1559.99L355.50 1559.99L355.75 1559.99L356.00 1559.99L356.25 1559.99L356.50 1559.99L356.75 1559.99L357.00 1559.99L357.25 1559.99L357.50 1559.99L357.75 1559.99L358.00 1559.99L358.25 1559.99L358.50 1559.99L358.75 1559.99L359.00 1559.99L359.25 1559.99L359.50 1559.99L359.75 1559.99L360.00 1559.99L360.25 1559.99L360.50 1559.99L360.75 1559.99L361.00 1559.99L361.25 1559.99L361.50 1559.99L361.75 1559.99L362.00 1559.99L362.25 1559.99L362.50 1559.99L362.75 1559.99L363.00 1559.99L363.25 1559.99L363.50 1559.99L363.75 1559.99L364.00 1559.99L364.25 1559.99L364.50 1559.99L364.75 1559.99L365.00 1559.99L365.25 1559.99L365.50 1559.99L365.75 1559.99L366.00 1559.99L366.25 1559.99L366.50 1559.99L366.75 1559.99L367.00 1559.99L367.25 1559.99L367.50 1559.99L367.75 1559.99L368.00 1559.99L368.25 1559.99L368.50 1559.99L368.75 1559.99L369.00 1559.99L369.25 1559.99L369.50 1559.99L369.75 1559.99L370.00 1559.99L370.25 1559.99L370.50 1559.99L370.75 1559.99L371.00 1559.99L371.25 1559.99L371.50 1559.99L371.75 1559.99L372.00 1559.99L372.25 1559.99L372.50 1559.99L372.75 1559.99L373.00 1559.99L373.25 1559.99L373.50 1559.99L373.75 1559.99L374.00 1559.99L374.25 1559.99L374.50 1559.99L374.75 1559.99L375.00 1559.99L375.25 1559.99L375.50 1559.99L375.75 1559.99L376.00 1559.99L376.25 1559.99L376.50 1559.99L376.75 1559.99L377.00 1559.99L377.25 1559.99L377.50 1559.99L377.75 1559.99L378.00 1559.99L378.25 1559.99L378.50 1559.99L378.75 1559.99L379.00 1559.99L379.25 1559.99L379.50 1559.99L379.75 1559.99L380.00 1559.99L380.25 1559.99L380.50 1559.99L380.75 1559.99L381.00 1559.99L381.25 1559.99L381.50 1559.99L381.75 1559.99L382.00 1559.99L382.25 1559.99L382.50 1559.99L382.75 1559.99L383.00 1559.99L383.25 1559.99L383.50 1559.99L383.75 1559.99L384.00 1559.99L384.25 1559.99L384.50 1559.99L384.75 1559.99L385.00 1559.99L385.25 1559.99L385.50 1559.99L385.75 1559.99L386.00 1559.99L386.25 1559.99L386.50 1559.99L386.75 1559.99L387.00 1559.99L387.25 1559.99L387.50 1559.99L387.75 1559.99L388.00 1559.99L388.25 1559.99L388.50 1559.99L388.75 1559.99L389.00 1559.99L389.25 1559.99L389.50 1559.99L389.75 1559.99L390.00 1559.99L390.25 1559.99L390.50 1559.99L390.75 1559.99L391.00 1559.99L391.25 1559.99L391.50 1559.99L391.75 1559.99L392.00 1559.99L392.25 1559.99L392.50 1559.99L392.75 1559.99L393.00 1559.99L393.25 1559.99L393.50 1559.99L393.75 1559.99L394.00 1559.99L394.25 1559.99L394.50 1559.99L394.75 1559.99L395.00 1559.99L395.25 1559.99L395.50 1559.99L395.75 1559.99L396.00 1559.99L396.25 1559.99L396.50 1559.99L396.75 1559.99L397.00 1559.99L397.25 1559.99L397.50 1559.99L397.75 1559.99L398.00 1559.99L398.25 1559.99L398.50 1559.99L398.75 1559.99L399.00 1559.99L399.25 1559.99L399.50 1559.99L399.75 1559.99L400.00 1559.99L400.25 1559.99L400.50 1559.99L400.75 1559.99L401.00 1559.99L401.25 1559.99L401.50 1559.99L401.75 1559.99L402.00 1559.99L402.25 1559.99L402.50 1559.99L402.75 1559.99L403.00 1559.99L403.25 1559.99L403.50 1559.99L403.75 1559.99L404.00 1559.99L404.25 1559.99L404.50 1559.99L404.75 1559.99L405.00 1559.99L405.25 1559.99L405.50 1559.99L405.75 1559.99L406.00 1559.99L406.25 1559.99L406.50 1559.99L406.75 1559.99L407.00 1559.99L407.25 1559.99L407.50 1559.99L407.75 1559.99L408.00 1559.99L408.25 1559.99L408.50 1559.99L408.75 1559.99L409.00 1559.99L409.25 1559.99L409.50 1559.99L409.75 1559.99L410.00 1559.99L410.25 1559.99L410.50 1559.99L410.75 1559.98L411.00 1559.98L411.25 1559.98L411.50 1559.98L411.75 1559.98L412.00 1559.98L412.25 1559.98L412.50 1559.98L412.75 1559.98L413.00 1559.98L413.25 1559.98L413.50 1559.98L413.75 1559.98L414.00 1559.98L414.25 1559.98L414.50 1559.98L414.75 1559.98L415.00 1559.98L415.25 1559.98L415.50 1559.98L415.75 1559.98L416.00 1559.98L416.25 1559.98L416.50 1559.98L416.75 1559.98L417.00 1559.98L417.25 1559.98L417.50 1559.98L417.75 1559.98L418.00 1559.98L418.25 1559.98L418.50 1559.98L418.75 1559.98L419.00 1559.98L419.25 1559.98L419.50 1559.98L419.75 1559.98L420.00 1559.98L420.25 1559.98L420.50 1559.98L420.75 1559.98L421.00 1559.98L421.25 1559.98L421.50 1559.98L421.75 1559.98L422.00 1559.98L422.25 1559.98L422.50 1559.98L422.75 1559.98L423.00 1559.98L423.25 1559.98L423.50 1559.98L423.75 1559.98L424.00 1559.98L424.25 1559.98L424.50 1559.98L424.75 1559.98L425.00 1559.98L425.25 1559.98L425.50 1559.98L425.75 1559.98L426.00 1559.98L426.25 1559.98L426.50 1559.98L426.75 1559.98L427.00 1559.98L427.25 1559.98L427.50 1559.98L427.75 1559.98L428.00 1559.98L428.25 1559.98L428.50 1559.98L428.75 1559.98L429.00 1559.98L429.25 1559.98L429.50 1559.98L429.75 1559.98L430.00 1559.98L430.25 1559.98L430.50 1559.98L430.75 1559.98L431.00 1559.98L431.25 1559.98L431.50 1559.98L431.75 1559.98L432.00 1559.98L432.25 1559.98L432.50 1559.98L432.75 1559.98L433.00 1559.98L433.25 1559.98L433.50 1559.98L433.75 1559.98L434.00 1559.98L434.25 1559.98L434.50 1559.98L434.75 1559.98L435.00 1559.98L435.25 1559.98L435.50 1559.98L435.75 1559.98L436.00 1559.98L436.25 1559.98L436.50 1559.98L436.75 1559.98L437.00 1559.98L437.25 1559.98L437.50 1559.98L437.75 1559.98L438.00 1559.98L438.25 1559.98L438.50 1559.98L438.75 1559.98L439.00 1559.98L439.25 1559.98L439.50 1559.98L439.75 1559.98L440.00 1559.98L440.25 1559.98L440.50 1559.98L440.75 1559.98L441.00 1559.98L441.25 1559.98L441.50 1559.98L441.75 1559.98L442.00 1559.98L442.25 1559.98L442.50 1559.98L442.75 1559.98L443.00 1559.98L443.25 1559.98L443.50 1559.98L443.75 1559.98L444.00 1559.98L444.25 1559.98L444.50 1559.98L444.75 1559.98L445.00 1559.98L445.25 1559.98L445.50 1559.98L445.75 1559.98L446.00 1559.98L446.25 1559.98L446.50 1559.98L446.75 1559.98L447.00 1559.98L447.25 1559.98L447.50 1559.98L447.75 1559.98L448.00 1559.98L448.25 1559.98L448.50 1559.98L448.75 1559.98L449.00 1559.98L449.25 1559.98L449.50 1559.98L449.75 1559.98L450.00 1559.98L450.25 1559.98L450.50 1559.98L450.75 1559.98L451.00 1559.98L451.25 1559.98L451.50 1559.98L451.75 1559.98L452.00 1559.98L452.25 1559.98L452.50 1559.98L452.75 1559.98L453.00 1559.98L453.25 1559.98L453.50 1559.97L453.75 1559.97L454.00 1559.97L454.25 1559.97L454.50 1559.97L454.75 1559.97L455.00 1559.97L455.25 1559.97L455.50 1559.97L455.75 1559.97L456.00 1559.97L456.25 1559.97L456.50 1559.97L456.75 1559.97L457.00 1559.97L457.25 1559.97L457.50 1559.97L457.75 1559.97L458.00 1559.97L458.25 1559.97L458.50 1559.97L458.75 1559.97L459.00 1559.97L459.25 1559.97L459.50 1559.97L459.75 1559.97L460.00 1559.97L460.25 1559.97L460.50 1559.97L460.75 1559.97L461.00 1559.97L461.25 1559.97L461.50 1559.97L461.75 1559.97L462.00 1559.97L462.25 1559.97L462.50 1559.97L462.75 1559.97L463.00 1559.97L463.25 1559.97L463.50 1559.97L463.75 1559.97L464.00 1559.97L464.25 1559.97L464.50 1559.97L464.75 1559.97L465.00 1559.97L465.25 1559.97L465.50 1559.97L465.75 1559.97L466.00 1559.97L466.25 1559.97L466.50 1559.97L466.75 1559.97L467.00 1559.97L467.25 1559.97L467.50 1559.97L467.75 1559.97L468.00 1559.97L468.25 1559.97L468.50 1559.96L468.75 1559.96L469.00 1559.96L469.25 1559.96L469.50 1559.96L469.75 1559.96L470.00 1559.96L470.25 1559.96L470.50 1559.96L470.75 1559.96L471.00 1559.96L471.25 1559.96L471.50 1559.96L471.75 1559.96L472.00 1559.96L472.25 1559.96L472.50 1559.96L472.75 1559.96L473.00 1559.96L473.25 1559.96L473.50 1559.96L473.75 1559.96L474.00 1559.96L474.25 1559.96L474.50 1559.96L474.75 1559.96L475.00 1559.96L475.25 1559.96L475.50 1559.96L475.75 1559.96L476.00 1559.96L476.25 1559.96L476.50 1559.95L476.75 1559.95L477.00 1559.95L477.25 1559.95L477.50 1559.95L477.75 1559.95L478.00 1559.95L478.25 1559.95L478.50 1559.95L478.75 1559.95L479.00 1559.95L479.25 1559.95L479.50 1559.95L479.75 1559.95L480.00 1559.95L480.25 1559.95L480.50 1559.95L480.75 1559.95L481.00 1559.95L481.25 1559.95L481.50 1559.94L481.75 1559.94L482.00 1559.94L482.25 1559.94L482.50 1559.94L482.75 1559.94L483.00 1559.94L483.25 1559.94L483.50 1559.94L483.75 1559.94L484.00 1559.94L484.25 1559.94L484.50 1559.94L484.75 1559.94L485.00 1559.93L485.25 1559.93L485.50 1559.93L485.75 1559.93L486.00 1559.93L486.25 1559.93L486.50 1559.93L486.75 1559.93L487.00 1559.93L487.25 1559.93L487.50 1559.92L487.75 1559.92L488.00 1559.92L488.25 1559.92L488.50 1559.92L488.75 1559.92L489.00 1559.92L489.25 1559.92L489.50 1559.91L489.75 1559.91L490.00 1559.91L490.25 1559.91L490.50 1559.91L490.75 1559.91L491.00 1559.91L491.25 1559.90L491.50 1559.90L491.75 1559.90L492.00 1559.90L492.25 1559.90L492.50 1559.89L492.75 1559.89L493.00 1559.89L493.25 1559.89L493.50 1559.89L493.75 1559.88L494.00 1559.88L494.25 1559.88L494.50 1559.88L494.75 1559.87L495.00 1559.87L495.25 1559.87L495.50 1559.87L495.75 1559.86L496.00 1559.86L496.25 1559.86L496.50 1559.85L496.75 1559.85L497.00 1559.84L497.25 1559.84L497.50 1559.84L497.75 1559.83L498.00 1559.83L498.25 1559.82L498.50 1559.82L498.75 1559.81L499.00 1559.81L499.25 1559.80L499.50 1559.80L499.75 1559.79L500.00 1559.78L500.25 1559.78L500.50 1559.77L500.75 1559.76L501.00 1559.76L501.25 1559.75L501.50 1559.74L501.75 1559.73L502.00 1559.72L502.25 1559.71L502.50 1559.70L502.75 1559.69L503.00 1559.68L503.25 1559.66L503.50 1559.65L503.75 1559.63L504.00 1559.62L504.25 1559.60L504.50 1559.58L504.75 1559.57L505.00 1559.54L505.25 1559.52L505.50 1559.50L505.75 1559.47L506.00 1559.45L506.25 1559.42L506.50 1559.39L506.75 1559.35L507.00 1559.31L507.25 1559.27L507.50 1559.23L507.75 1559.18L508.00 1559.12L508.25 1559.06L508.50 1559.00L508.75 1558.93L509.00 1558.85L509.25 1558.76L509.50 1558.66L509.75 1558.55L510.00 1558.42L510.25 1558.28L510.50 1558.12L510.75 1557.94L511.00 1557.74L511.25 1557.50L511.50 1557.24L511.75 1556.93L512.00 1556.58L512.25 1556.19L512.50 1555.74L512.75 1555.22L513.00 1554.65L513.25 1554.03L513.50 1553.36L513.75 1552.68L514.00 1552.01L514.25 1551.43L514.50 1550.98L514.75 1550.72L515.00 1550.70L515.25 1550.91L515.50 1551.32L515.75 1551.89L516.00 1552.54L516.25 1553.23L516.50 1553.90L516.75 1554.53L517.00 1555.11L517.25 1555.64L517.50 1556.10L517.75 1556.51L518.00 1556.87L518.25 1557.18L518.50 1557.45L518.75 1557.69L519.00 1557.90L519.25 1558.09L519.50 1558.25L519.75 1558.39L520.00 1558.52L520.25 1558.64L520.50 1558.74L520.75 1558.83L521.00 1558.91L521.25 1558.98L521.50 1559.05L521.75 1559.11L522.00 1559.17L522.25 1559.22L522.50 1559.26L522.75 1559.30L523.00 1559.34L523.25 1559.38L523.50 1559.41L523.75 1559.44L524.00 1559.47L524.25 1559.49L524.50 1559.52L524.75 1559.54L525.00 1559.56L525.25 1559.58L525.50 1559.60L525.75 1559.61L526.00 1559.63L526.25 1559.64L526.50 1559.66L526.75 1559.67L527.00 1559.68L527.25 1559.69L527.50 1559.70L527.75 1559.71L528.00 1559.72L528.25 1559.73L528.50 1559.74L528.75 1559.75L529.00 1559.76L529.25 1559.77L529.50 1559.77L529.75 1559.78L530.00 1559.79L530.25 1559.79L530.50 1559.80L530.75 1559.80L531.00 1559.81L531.25 1559.81L531.50 1559.82L531.75 1559.82L532.00 1559.83L532.25 1559.83L532.50 1559.84L532.75 1559.84L533.00 1559.84L533.25 1559.85L533.50 1559.85L533.75 1559.85L534.00 1559.86L534.25 1559.86L534.50 1559.86L534.75 1559.87L535.00 1559.87L535.25 1559.87L535.50 1559.87L535.75 1559.88L536.00 1559.88L536.25 1559.88L536.50 1559.88L536.75 1559.88L537.00 1559.89L537.25 1559.89L537.50 1559.89L537.75 1559.89L538.00 1559.89L538.25 1559.90L538.50 1559.90L538.75 1559.90L539.00 1559.90L539.25 1559.90L539.50 1559.90L539.75 1559.90L540.00 1559.91L540.25 1559.91L540.50 1559.91L540.75 1559.91L541.00 1559.91L541.25 1559.91L541.50 1559.91L541.75 1559.91L542.00 1559.92L542.25 1559.92L542.50 1559.92L542.75 1559.92L543.00 1559.92L543.25 1559.92L543.50 1559.92L543.75 1559.92L544.00 1559.92L544.25 1559.92L544.50 1559.93L544.75 1559.93L545.00 1559.93L545.25 1559.93L545.50 1559.93L545.75 1559.93L546.00 1559.93L546.25 1559.93L546.50 1559.93L546.75 1559.93L547.00 1559.93L547.25 1559.93L547.50 1559.93L547.75 1559.93L548.00 1559.93L548.25 1559.94L548.50 1559.94L548.75 1559.94L549.00 1559.94L549.25 1559.94L549.50 1559.94L549.75 1559.94L550.00 1559.94L550.25 1559.94L550.50 1559.94L550.75 1559.94L551.00 1559.94L551.25 1559.94L551.50 1559.94L551.75 1559.94L552.00 1559.94L552.25 1559.94L552.50 1559.94L552.75 1559.94L553.00 1559.94L553.25 1559.94L553.50 1559.94L553.75 1559.94L554.00 1559.94L554.25 1559.94L554.50 1559.95L554.75 1559.95L555.00 1559.95L555.25 1559.95L555.50 1559.95L555.75 1559.95L556.00 1559.95L556.25 1559.95L556.50 1559.95L556.75 1559.95L557.00 1559.95L557.25 1559.95L557.50 1559.95L557.75 1559.95L558.00 1559.95L558.25 1559.95L558.50 1559.95L558.75 1559.95L559.00 1559.95L559.25 1559.95L559.50 1559.95L559.75 1559.95L560.00 1559.95L560.25 1559.95L560.50 1559.95L560.75 1559.95L561.00 1559.95L561.25 1559.95L561.50 1559.95L561.75 1559.95L562.00 1559.95L562.25 1559.95L562.50 1559.95L562.75 1559.95L563.00 1559.95L563.25 1559.95L563.50 1559.95L563.75 1559.95L564.00 1559.95L564.25 1559.95L564.50 1559.95L564.75 1559.95L565.00 1559.95L565.25 1559.95L565.50 1559.95L565.75 1559.95L566.00 1559.95L566.25 1559.95L566.50 1559.95L566.75 1559.95L567.00 1559.95L567.25 1559.95L567.50 1559.95L567.75 1559.95L568.00 1559.95L568.25 1559.95L568.50 1559.95L568.75 1559.95L569.00 1559.95L569.25 1559.95L569.50 1559.95L569.75 1559.95L570.00 1559.95L570.25 1559.95L570.50 1559.95L570.75 1559.95L571.00 1559.95L571.25 1559.95L571.50 1559.95L571.75 1559.95L572.00 1559.95L572.25 1559.95L572.50 1559.95L572.75 1559.95L573.00 1559.95L573.25 1559.95L573.50 1559.95L573.75 1559.95L574.00 1559.95L574.25 1559.95L574.50 1559.95L574.75 1559.95L575.00 1559.95L575.25 1559.95L575.50 1559.95L575.75 1559.95L576.00 1559.95L576.25 1559.95L576.50 1559.95L576.75 1559.95L577.00 1559.95L577.25 1559.95L577.50 1559.95L577.75 1559.95L578.00 1559.95L578.25 1559.95L578.50 1559.95L578.75 1559.95L579.00 1559.95L579.25 1559.95L579.50 1559.95L579.75 1559.95L580.00 1559.95L580.25 1559.95L580.50 1559.95L580.75 1559.95L581.00 1559.95L581.25 1559.95L581.50 1559.95L581.75 1559.95L582.00 1559.95L582.25 1559.95L582.50 1559.95L582.75 1559.95L583.00 1559.95L583.25 1559.95L583.50 1559.95L583.75 1559.95L584.00 1559.95L584.25 1559.95L584.50 1559.95L584.75 1559.95L585.00 1559.95L585.25 1559.95L585.50 1559.95L585.75 1559.95L586.00 1559.95L586.25 1559.95L586.50 1559.95L586.75 1559.95L587.00 1559.95L587.25 1559.95L587.50 1559.95L587.75 1559.95L588.00 1559.95L588.25 1559.95L588.50 1559.95L588.75 1559.95L589.00 1559.95L589.25 1559.95L589.50 1559.95L589.75 1559.95L590.00 1559.95L590.25 1559.95L590.50 1559.95L590.75 1559.95L591.00 1559.95L591.25 1559.95L591.50 1559.95L591.75 1559.95L592.00 1559.95L592.25 1559.95L592.50 1559.95L592.75 1559.95L593.00 1559.95L593.25 1559.95L593.50 1559.95L593.75 1559.95L594.00 1559.95L594.25 1559.95L594.50 1559.95L594.75 1559.95L595.00 1559.95L595.25 1559.95L595.50 1559.95L595.75 1559.95L596.00 1559.95L596.25 1559.95L596.50 1559.95L596.75 1559.95L597.00 1559.95L597.25 1559.95L597.50 1559.95L597.75 1559.95L598.00 1559.95L598.25 1559.95L598.50 1559.95L598.75 1559.95L599.00 1559.95L599.25 1559.95L599.50 1559.95L599.75 1559.94L600.00 1559.94L600.25 1559.94L600.50 1559.94L600.75 1559.94L601.00 1559.94L601.25 1559.94L601.50 1559.94L601.75 1559.94L602.00 1559.94L602.25 1559.94L602.50 1559.94L602.75 1559.94L603.00 1559.94L603.25 1559.94L603.50 1559.94L603.75 1559.94L604.00 1559.94L604.25 1559.94L604.50 1559.94L604.75 1559.94L605.00 1559.94L605.25 1559.94L605.50 1559.94L605.75 1559.94L606.00 1559.94L606.25 1559.94L606.50 1559.94L606.75 1559.94L607.00 1559.94L607.25 1559.94L607.50 1559.94L607.75 1559.94L608.00 1559.94L608.25 1559.94L608.50 1559.94L608.75 1559.94L609.00 1559.94L609.25 1559.93L609.50 1559.93L609.75 1559.93L610.00 1559.93L610.25 1559.93L610.50 1559.93L610.75 1559.93L611.00 1559.93L611.25 1559.93L611.50 1559.93L611.75 1559.93L612.00 1559.93L612.25 1559.93L612.50 1559.93L612.75 1559.93L613.00 1559.93L613.25 1559.93L613.50 1559.93L613.75 1559.93L614.00 1559.93L614.25 1559.93L614.50 1559.93L614.75 1559.93L615.00 1559.93L615.25 1559.93L615.50 1559.93L615.75 1559.92L616.00 1559.92L616.25 1559.92L616.50 1559.92L616.75 1559.92L617.00 1559.92L617.25 1559.92L617.50 1559.92L617.75 1559.92L618.00 1559.92L618.25 1559.92L618.50 1559.92L618.75 1559.92L619.00 1559.92L619.25 1559.92L619.50 1559.92L619.75 1559.92L620.00 1559.92L620.25 1559.92L620.50 1559.91L620.75 1559.91L621.00 1559.91L621.25 1559.91L621.50 1559.91L621.75 1559.91L622.00 1559.91L622.25 1559.91L622.50 1559.91L622.75 1559.91L623.00 1559.91L623.25 1559.91L623.50 1559.91L623.75 1559.91L624.00 1559.91L624.25 1559.90L624.50 1559.90L624.75 1559.90L625.00 1559.90L625.25 1559.90L625.50 1559.90L625.75 1559.90L626.00 1559.90L626.25 1559.90L626.50 1559.90L626.75 1559.90L627.00 1559.90L627.25 1559.89L627.50 1559.89L627.75 1559.89L628.00 1559.89L628.25 1559.89L628.50 1559.89L628.75 1559.89L629.00 1559.89L629.25 1559.89L629.50 1559.89L629.75 1559.88L630.00 1559.88L630.25 1559.88L630.50 1559.88L630.75 1559.88L631.00 1559.88L631.25 1559.88L631.50 1559.88L631.75 1559.87L632.00 1559.87L632.25 1559.87L632.50 1559.87L632.75 1559.87L633.00 1559.87L633.25 1559.87L633.50 1559.87L633.75 1559.86L634.00 1559.86L634.25 1559.86L634.50 1559.86L634.75 1559.86L635.00 1559.86L635.25 1559.85L635.50 1559.85L635.75 1559.85L636.00 1559.85L636.25 1559.85L636.50 1559.85L636.75 1559.84L637.00 1559.84L637.25 1559.84L637.50 1559.84L637.75 1559.84L638.00 1559.83L638.25 1559.83L638.50 1559.83L638.75 1559.83L639.00 1559.82L639.25 1559.82L639.50 1559.82L639.75 1559.82L640.00 1559.82L640.25 1559.81L640.50 1559.81L640.75 1559.81L641.00 1559.80L641.25 1559.80L641.50 1559.80L641.75 1559.80L642.00 1559.79L642.25 1559.79L642.50 1559.79L642.75 1559.78L643.00 1559.78L643.25 1559.78L643.50 1559.77L643.75 1559.77L644.00 1559.77L644.25 1559.76L644.50 1559.76L644.75 1559.75L645.00 1559.75L645.25 1559.75L645.50 1559.74L645.75 1559.74L646.00 1559.73L646.25 1559.73L646.50 1559.72L646.75 1559.72L647.00 1559.71L647.25 1559.71L647.50 1559.70L647.75 1559.70L648.00 1559.69L648.25 1559.68L648.50 1559.68L648.75 1559.67L649.00 1559.66L649.25 1559.66L649.50 1559.65L649.75 1559.64L650.00 1559.64L650.25 1559.63L650.50 1559.62L650.75 1559.61L651.00 1559.60L651.25 1559.59L651.50 1559.58L651.75 1559.57L652.00 1559.56L652.25 1559.55L652.50 1559.54L652.75 1559.53L653.00 1559.52L653.25 1559.51L653.50 1559.50L653.75 1559.48L654.00 1559.47L654.25 1559.45L654.50 1559.44L654.75 1559.42L655.00 1559.41L655.25 1559.39L655.50 1559.37L655.75 1559.35L656.00 1559.33L656.25 1559.31L656.50 1559.29L656.75 1559.27L657.00 1559.25L657.25 1559.22L657.50 1559.20L657.75 1559.17L658.00 1559.14L658.25 1559.11L658.50 1559.08L658.75 1559.05L659.00 1559.01L659.25 1558.97L659.50 1558.93L659.75 1558.89L660.00 1558.84L660.25 1558.80L660.50 1558.75L660.75 1558.69L661.00 1558.63L661.25 1558.57L661.50 1558.51L661.75 1558.44L662.00 1558.36L662.25 1558.28L662.50 1558.19L662.75 1558.10L663.00 1558.00L663.25 1557.89L663.50 1557.77L663.75 1557.64L664.00 1557.50L664.25 1557.34L664.50 1557.18L664.75 1556.99L665.00 1556.79L665.25 1556.57L665.50 1556.32L665.75 1556.05L666.00 1555.75L666.25 1555.41L666.50 1555.03L666.75 1554.61L667.00 1554.14L667.25 1553.61L667.50 1553.00L667.75 1552.32L668.00 1551.54L668.25 1550.65L668.50 1549.63L668.75 1548.47L669.00 1547.15L669.25 1545.63M674.25 1544.97L674.50 1546.56L674.75 1547.96L675.00 1549.19L675.25 1550.26L675.50 1551.20L675.75 1552.02L676.00 1552.74L676.25 1553.37L676.50 1553.93L676.75 1554.43L677.00 1554.87L677.25 1555.26L677.50 1555.61L677.75 1555.93L678.00 1556.21L678.25 1556.47L678.50 1556.70L678.75 1556.91L679.00 1557.10L679.25 1557.28L679.50 1557.43L679.75 1557.58L680.00 1557.71L680.25 1557.84L680.50 1557.95L680.75 1558.06L681.00 1558.15L681.25 1558.24L681.50 1558.33L681.75 1558.40L682.00 1558.48L682.25 1558.54L682.50 1558.61L682.75 1558.67L683.00 1558.72L683.25 1558.77L683.50 1558.82L683.75 1558.87L684.00 1558.91L684.25 1558.95L684.50 1558.99L684.75 1559.03L685.00 1559.06L685.25 1559.09L685.50 1559.13L685.75 1559.15L686.00 1559.18L686.25 1559.21L686.50 1559.23L686.75 1559.26L687.00 1559.28L687.25 1559.30L687.50 1559.32L687.75 1559.34L688.00 1559.36L688.25 1559.38L688.50 1559.40L688.75 1559.41L689.00 1559.43L689.25 1559.44L689.50 1559.46L689.75 1559.47L690.00 1559.49L690.25 1559.50L690.50 1559.51L690.75 1559.52L691.00 1559.53L691.25 1559.54L691.50 1559.55L691.75 1559.57L692.00 1559.57L692.25 1559.58L692.50 1559.59L692.75 1559.60L693.00 1559.61L693.25 1559.62L693.50 1559.63L693.75 1559.63L694.00 1559.64L694.25 1559.65L694.50 1559.66L694.75 1559.66L695.00 1559.67L695.25 1559.67L695.50 1559.68L695.75 1559.69L696.00 1559.69L696.25 1559.70L696.50 1559.70L696.75 1559.71L697.00 1559.71L697.25 1559.72L697.50 1559.72L697.75 1559.73L698.00 1559.73L698.25 1559.74L698.50 1559.74L698.75 1559.74L699.00 1559.75L699.25 1559.75L699.50 1559.76L699.75 1559.76L700.00 1559.76L700.25 1559.77L700.50 1559.77L700.75 1559.77L701.00 1559.78L701.25 1559.78L701.50 1559.78L701.75 1559.79L702.00 1559.79L702.25 1559.79L702.50 1559.79L702.75 1559.80L703.00 1559.80L703.25 1559.80L703.50 1559.81L703.75 1559.81L704.00 1559.81L704.25 1559.81L704.50 1559.81L704.75 1559.82L705.00 1559.82L705.25 1559.82L705.50 1559.82L705.75 1559.83L706.00 1559.83L706.25 1559.83L706.50 1559.83L706.75 1559.83L707.00 1559.83L707.25 1559.84L707.50 1559.84L707.75 1559.84L708.00 1559.84L708.25 1559.84L708.50 1559.84L708.75 1559.85L709.00 1559.85L709.25 1559.85L709.50 1559.85L709.75 1559.85L710.00 1559.85L710.25 1559.86L710.50 1559.86L710.75 1559.86L711.00 1559.86L711.25 1559.86L711.50 1559.86L711.75 1559.86L712.00 1559.86L712.25 1559.87L712.50 1559.87L712.75 1559.87L713.00 1559.87L713.25 1559.87L713.50 1559.87L713.75 1559.87L714.00 1559.87L714.25 1559.87L714.50 1559.87L714.75 1559.88L715.00 1559.88L715.25 1559.88L715.50 1559.88L715.75 1559.88L716.00 1559.88L716.25 1559.88L716.50 1559.88L716.75 1559.88L717.00 1559.88L717.25 1559.88L717.50 1559.89L717.75 1559.89L718.00 1559.89L718.25 1559.89L718.50 1559.89L718.75 1559.89L719.00 1559.89L719.25 1559.89L719.50 1559.89L719.75 1559.89L720.00 1559.89L720.25 1559.89L720.50 1559.89L720.75 1559.89L721.00 1559.89L721.25 1559.90L721.50 1559.90L721.75 1559.90L722.00 1559.90L722.25 1559.90L722.50 1559.90L722.75 1559.90L723.00 1559.90L723.25 1559.90L723.50 1559.90L723.75 1559.90L724.00 1559.90L724.25 1559.90L724.50 1559.90L724.75 1559.90L725.00 1559.90L725.25 1559.90L725.50 1559.90L725.75 1559.90L726.00 1559.91L726.25 1559.91L726.50 1559.91L726.75 1559.91L727.00 1559.91L727.25 1559.91L727.50 1559.91L727.75 1559.91L728.00 1559.91L728.25 1559.91L728.50 1559.91L728.75 1559.91L729.00 1559.91L729.25 1559.91L729.50 1559.91L729.75 1559.91L730.00 1559.91L730.25 1559.91L730.50 1559.91L730.75 1559.91L731.00 1559.91L731.25 1559.91L731.50 1559.91L731.75 1559.91L732.00 1559.91L732.25 1559.91L732.50 1559.91L732.75 1559.91L733.00 1559.91L733.25 1559.92L733.50 1559.92L733.75 1559.92L734.00 1559.92L734.25 1559.92L734.50 1559.92L734.75 1559.92L735.00 1559.92L735.25 1559.92L735.50 1559.92L735.75 1559.92L736.00 1559.92L736.25 1559.92L736.50 1559.92L736.75 1559.92L737.00 1559.92L737.25 1559.92L737.50 1559.92L737.75 1559.92L738.00 1559.92L738.25 1559.92L738.50 1559.92L738.75 1559.92L739.00 1559.92L739.25 1559.92L739.50 1559.92L739.75 1559.92L740.00 1559.92L740.25 1559.92L740.50 1559.92L740.75 1559.92L741.00 1559.92L741.25 1559.92L741.50 1559.92L741.75 1559.92L742.00 1559.92L742.25 1559.92L742.50 1559.92L742.75 1559.92L743.00 1559.92L743.25 1559.92L743.50 1559.92L743.75 1559.92L744.00 1559.92L744.25 1559.92L744.50 1559.92L744.75 1559.92L745.00 1559.92L745.25 1559.92L745.50 1559.92L745.75 1559.92L746.00 1559.92L746.25 1559.92L746.50 1559.92L746.75 1559.92L747.00 1559.92L747.25 1559.92L747.50 1559.92L747.75 1559.92L748.00 1559.92L748.25 1559.92L748.50 1559.92L748.75 1559.93L749.00 1559.93L749.25 1559.93L749.50 1559.93L749.75 1559.93L750.00 1559.93L750.25 1559.93L750.50 1559.93L750.75 1559.93L751.00 1559.93L751.25 1559.93L751.50 1559.93L751.75 1559.93L752.00 1559.93L752.25 1559.93L752.50 1559.93L752.75 1559.93L753.00 1559.93L753.25 1559.93L753.50 1559.93L753.75 1559.93L754.00 1559.93L754.25 1559.93L754.50 1559.93L754.75 1559.93L755.00 1559.93L755.25 1559.93L755.50 1559.93L755.75 1559.93L756.00 1559.93L756.25 1559.93L756.50 1559.93L756.75 1559.93L757.00 1559.93L757.25 1559.93L757.50 1559.93L757.75 1559.93L758.00 1559.93L758.25 1559.93L758.50 1559.93L758.75 1559.93L759.00 1559.93L759.25 1559.93L759.50 1559.93L759.75 1559.93L760.00 1559.93L760.25 1559.93L760.50 1559.93L760.75 1559.93L761.00 1559.93L761.25 1559.93L761.50 1559.93L761.75 1559.93L762.00 1559.93L762.25 1559.93L762.50 1559.93L762.75 1559.93L763.00 1559.93L763.25 1559.93L763.50 1559.93L763.75 1559.93L764.00 1559.93L764.25 1559.93L764.50 1559.93L764.75 1559.93L765.00 1559.93L765.25 1559.93L765.50 1559.93L765.75 1559.93L766.00 1559.93L766.25 1559.93L766.50 1559.93L766.75 1559.93L767.00 1559.93L767.25 1559.93L767.50 1559.93L767.75 1559.93L768.00 1559.93L768.25 1559.93L768.50 1559.93L768.75 1559.93L769.00 1559.93L769.25 1559.93L769.50 1559.93L769.75 1559.92L770.00 1559.92L770.25 1559.92L770.50 1559.92L770.75 1559.92L771.00 1559.92L771.25 1559.92L771.50 1559.92L771.75 1559.92L772.00 1559.92L772.25 1559.92L772.50 1559.92L772.75 1559.92L773.00 1559.92L773.25 1559.92L773.50 1559.92L773.75 1559.92L774.00 1559.92L774.25 1559.92L774.50 1559.92L774.75 1559.92L775.00 1559.92L775.25 1559.92L775.50 1559.92L775.75 1559.92L776.00 1559.92L776.25 1559.92L776.50 1559.92L776.75 1559.92L777.00 1559.92L777.25 1559.92L777.50 1559.92L777.75 1559.92L778.00 1559.92L778.25 1559.92L778.50 1559.92L778.75 1559.92L779.00 1559.92L779.25 1559.92L779.50 1559.92L779.75 1559.92L780.00 1559.92L780.25 1559.92L780.50 1559.92L780.75 1559.92L781.00 1559.92L781.25 1559.92L781.50 1559.92L781.75 1559.92L782.00 1559.92L782.25 1559.92L782.50 1559.92L782.75 1559.92L783.00 1559.92L783.25 1559.92L783.50 1559.92L783.75 1559.92L784.00 1559.92L784.25 1559.92L784.50 1559.92L784.75 1559.92L785.00 1559.92L785.25 1559.92L785.50 1559.92L785.75 1559.92L786.00 1559.92L786.25 1559.92L786.50 1559.92L786.75 1559.92L787.00 1559.92L787.25 1559.92L787.50 1559.92L787.75 1559.92L788.00 1559.92L788.25 1559.92L788.50 1559.92L788.75 1559.92L789.00 1559.92L789.25 1559.92L789.50 1559.92L789.75 1559.92L790.00 1559.92L790.25 1559.92L790.50 1559.92L790.75 1559.91L791.00 1559.91L791.25 1559.91L791.50 1559.91L791.75 1559.91L792.00 1559.91L792.25 1559.91L792.50 1559.91L792.75 1559.91L793.00 1559.91L793.25 1559.91L793.50 1559.91L793.75 1559.91L794.00 1559.91L794.25 1559.91L794.50 1559.91L794.75 1559.91L795.00 1559.91L795.25 1559.91L795.50 1559.91L795.75 1559.91L796.00 1559.91L796.25 1559.91L796.50 1559.91L796.75 1559.91L797.00 1559.91L797.25 1559.91L797.50 1559.91L797.75 1559.91L798.00 1559.91L798.25 1559.91L798.50 1559.91L798.75 1559.91L799.00 1559.91L799.25 1559.91L799.50 1559.91L799.75 1559.91L800.00 1559.91L800.25 1559.91L800.50 1559.91L800.75 1559.91L801.00 1559.91L801.25 1559.91L801.50 1559.91L801.75 1559.91L802.00 1559.91L802.25 1559.90L802.50 1559.90L802.75 1559.90L803.00 1559.90L803.25 1559.90L803.50 1559.90L803.75 1559.90L804.00 1559.90L804.25 1559.90L804.50 1559.90L804.75 1559.90L805.00 1559.90L805.25 1559.90L805.50 1559.90L805.75 1559.90L806.00 1559.90L806.25 1559.90L806.50 1559.90L806.75 1559.90L807.00 1559.90L807.25 1559.90L807.50 1559.90L807.75 1559.90L808.00 1559.90L808.25 1559.90L808.50 1559.90L808.75 1559.90L809.00 1559.90L809.25 1559.90L809.50 1559.90L809.75 1559.90L810.00 1559.90L810.25 1559.90L810.50 1559.89L810.75 1559.89L811.00 1559.89L811.25 1559.89L811.50 1559.89L811.75 1559.89L812.00 1559.89L812.25 1559.89L812.50 1559.89L812.75 1559.89L813.00 1559.89L813.25 1559.89L813.50 1559.89L813.75 1559.89L814.00 1559.89L814.25 1559.89L814.50 1559.89L814.75 1559.89L815.00 1559.89L815.25 1559.89L815.50 1559.89L815.75 1559.89L816.00 1559.89L816.25 1559.89L816.50 1559.89L816.75 1559.89L817.00 1559.89L817.25 1559.88L817.50 1559.88L817.75 1559.88L818.00 1559.88L818.25 1559.88L818.50 1559.88L818.75 1559.88L819.00 1559.88L819.25 1559.88L819.50 1559.88L819.75 1559.88L820.00 1559.88L820.25 1559.88L820.50 1559.88L820.75 1559.88L821.00 1559.88L821.25 1559.88L821.50 1559.88L821.75 1559.88L822.00 1559.88L822.25 1559.88L822.50 1559.87L822.75 1559.87L823.00 1559.87L823.25 1559.87L823.50 1559.87L823.75 1559.87L824.00 1559.87L824.25 1559.87L824.50 1559.87L824.75 1559.87L825.00 1559.87L825.25 1559.87L825.50 1559.87L825.75 1559.87L826.00 1559.87L826.25 1559.87L826.50 1559.87L826.75 1559.87L827.00 1559.87L827.25 1559.86L827.50 1559.86L827.75 1559.86L828.00 1559.86L828.25 1559.86L828.50 1559.86L828.75 1559.86L829.00 1559.86L829.25 1559.86L829.50 1559.86L829.75 1559.86L830.00 1559.86L830.25 1559.86L830.50 1559.86L830.75 1559.86L831.00 1559.85L831.25 1559.85L831.50 1559.85L831.75 1559.85L832.00 1559.85L832.25 1559.85L832.50 1559.85L832.75 1559.85L833.00 1559.85L833.25 1559.85L833.50 1559.85L833.75 1559.85L834.00 1559.85L834.25 1559.85L834.50 1559.84L834.75 1559.84L835.00 1559.84L835.25 1559.84L835.50 1559.84L835.75 1559.84L836.00 1559.84L836.25 1559.84L836.50 1559.84L836.75 1559.84L837.00 1559.84L837.25 1559.84L837.50 1559.83L837.75 1559.83L838.00 1559.83L838.25 1559.83L838.50 1559.83L838.75 1559.83L839.00 1559.83L839.25 1559.83L839.50 1559.83L839.75 1559.83L840.00 1559.82L840.25 1559.82L840.50 1559.82L840.75 1559.82L841.00 1559.82L841.25 1559.82L841.50 1559.82L841.75 1559.82L842.00 1559.82L842.25 1559.82L842.50 1559.81L842.75 1559.81L843.00 1559.81L843.25 1559.81L843.50 1559.81L843.75 1559.81L844.00 1559.81L844.25 1559.81L844.50 1559.80L844.75 1559.80L845.00 1559.80L845.25 1559.80L845.50 1559.80L845.75 1559.80L846.00 1559.80L846.25 1559.80L846.50 1559.79L846.75 1559.79L847.00 1559.79L847.25 1559.79L847.50 1559.79L847.75 1559.79L848.00 1559.79L848.25 1559.78L848.50 1559.78L848.75 1559.78L849.00 1559.78L849.25 1559.78L849.50 1559.78L849.75 1559.77L850.00 1559.77L850.25 1559.77L850.50 1559.77L850.75 1559.77L851.00 1559.77L851.25 1559.76L851.50 1559.76L851.75 1559.76L852.00 1559.76L852.25 1559.76L852.50 1559.76L852.75 1559.75L853.00 1559.75L853.25 1559.75L853.50 1559.75L853.75 1559.75L854.00 1559.74L854.25 1559.74L854.50 1559.74L854.75 1559.74L855.00 1559.74L855.25 1559.73L855.50 1559.73L855.75 1559.73L856.00 1559.73L856.25 1559.72L856.50 1559.72L856.75 1559.72L857.00 1559.72L857.25 1559.71L857.50 1559.71L857.75 1559.71L858.00 1559.71L858.25 1559.70L858.50 1559.70L858.75 1559.70L859.00 1559.69L859.25 1559.69L859.50 1559.69L859.75 1559.69L860.00 1559.68L860.25 1559.68L860.50 1559.68L860.75 1559.67L861.00 1559.67L861.25 1559.67L861.50 1559.66L861.75 1559.66L862.00 1559.66L862.25 1559.65L862.50 1559.65L862.75 1559.64L863.00 1559.64L863.25 1559.64L863.50 1559.63L863.75 1559.63L864.00 1559.62L864.25 1559.62L864.50 1559.62L864.75 1559.61L865.00 1559.61L865.25 1559.60L865.50 1559.60L865.75 1559.59L866.00 1559.59L866.25 1559.58L866.50 1559.58L866.75 1559.57L867.00 1559.57L867.25 1559.56L867.50 1559.56L867.75 1559.55L868.00 1559.54L868.25 1559.54L868.50 1559.53L868.75 1559.53L869.00 1559.52L869.25 1559.51L869.50 1559.51L869.75 1559.50L870.00 1559.49L870.25 1559.49L870.50 1559.48L870.75 1559.47L871.00 1559.46L871.25 1559.45L871.50 1559.45L871.75 1559.44L872.00 1559.43L872.25 1559.42L872.50 1559.41L872.75 1559.40L873.00 1559.39L873.25 1559.38L873.50 1559.37L873.75 1559.36L874.00 1559.35L874.25 1559.34L874.50 1559.33L874.75 1559.31L875.00 1559.30L875.25 1559.29L875.50 1559.28L875.75 1559.26L876.00 1559.25L876.25 1559.24L876.50 1559.22L876.75 1559.20L877.00 1559.19L877.25 1559.17L877.50 1559.16L877.75 1559.14L878.00 1559.12L878.25 1559.10L878.50 1559.08L878.75 1559.06L879.00 1559.04L879.25 1559.02L879.50 1559.00L879.75 1558.97L880.00 1558.95L880.25 1558.92L880.50 1558.90L880.75 1558.87L881.00 1558.84L881.25 1558.81L881.50 1558.78L881.75 1558.75L882.00 1558.71L882.25 1558.68L882.50 1558.64L882.75 1558.60L883.00 1558.56L883.25 1558.52L883.50 1558.47L883.75 1558.43L884.00 1558.38L884.25 1558.33L884.50 1558.27L884.75 1558.22L885.00 1558.16L885.25 1558.09L885.50 1558.03L885.75 1557.96L886.00 1557.88L886.25 1557.80L886.50 1557.72L886.75 1557.63L887.00 1557.53L887.25 1557.43L887.50 1557.33L887.75 1557.21L888.00 1557.09L888.25 1556.96L888.50 1556.82L888.75 1556.67L889.00 1556.51L889.25 1556.33L889.50 1556.15L889.75 1555.95L890.00 1555.73L890.25 1555.49L890.50 1555.23L890.75 1554.95L891.00 1554.65L891.25 1554.32L891.50 1553.95L891.75 1553.55L892.00 1553.11L892.25 1552.62L892.50 1552.08L892.75 1551.47L893.00 1550.80L893.25 1550.05L893.50 1549.22L893.75 1548.27L894.00 1547.21L894.25 1546.00L894.50 1544.63M902.50 1544.60L902.75 1545.97L903.00 1547.17L903.25 1548.23L903.50 1549.18L903.75 1550.01L904.00 1550.76L904.25 1551.43L904.50 1552.03L904.75 1552.57L905.00 1553.05L905.25 1553.50L905.50 1553.90L905.75 1554.26L906.00 1554.59L906.25 1554.89L906.50 1555.17L906.75 1555.43L907.00 1555.66L907.25 1555.88L907.50 1556.08L907.75 1556.26L908.00 1556.43L908.25 1556.59L908.50 1556.74L908.75 1556.88L909.00 1557.01L909.25 1557.13L909.50 1557.24L909.75 1557.34L910.00 1557.44L910.25 1557.53L910.50 1557.62L910.75 1557.70L911.00 1557.78L911.25 1557.85L911.50 1557.92L911.75 1557.99L912.00 1558.05L912.25 1558.10L912.50 1558.16L912.75 1558.21L913.00 1558.26L913.25 1558.31L913.50 1558.35L913.75 1558.39L914.00 1558.43L914.25 1558.47L914.50 1558.51L914.75 1558.54L915.00 1558.58L915.25 1558.61L915.50 1558.64L915.75 1558.67L916.00 1558.69L916.25 1558.72L916.50 1558.74L916.75 1558.77L917.00 1558.79L917.25 1558.81L917.50 1558.83L917.75 1558.85L918.00 1558.87L918.25 1558.89L918.50 1558.91L918.75 1558.93L919.00 1558.94L919.25 1558.96L919.50 1558.97L919.75 1558.99L920.00 1559.00L920.25 1559.01L920.50 1559.03L920.75 1559.04L921.00 1559.05L921.25 1559.06L921.50 1559.07L921.75 1559.08L922.00 1559.09L922.25 1559.10L922.50 1559.11L922.75 1559.12L923.00 1559.13L923.25 1559.14L923.50 1559.14L923.75 1559.15L924.00 1559.16L924.25 1559.17L924.50 1559.17L924.75 1559.18L925.00 1559.18L925.25 1559.19L925.50 1559.19L925.75 1559.20L926.00 1559.20L926.25 1559.21L926.50 1559.21L926.75 1559.22L927.00 1559.22L927.25 1559.23L927.50 1559.23L927.75 1559.23L928.00 1559.24L928.25 1559.24L928.50 1559.24L928.75 1559.24L929.00 1559.25L929.25 1559.25L929.50 1559.25L929.75 1559.25L930.00 1559.25L930.25 1559.26L930.50 1559.26L930.75 1559.26L931.00 1559.26L931.25 1559.26L931.50 1559.26L931.75 1559.26L932.00 1559.26L932.25 1559.26L932.50 1559.26L932.75 1559.26L933.00 1559.26L933.25 1559.26L933.50 1559.26L933.75 1559.26L934.00 1559.26L934.25 1559.26L934.50 1559.26L934.75 1559.26L935.00 1559.26L935.25 1559.26L935.50 1559.26L935.75 1559.25L936.00 1559.25L936.25 1559.25L936.50 1559.25L936.75 1559.25L937.00 1559.25L937.25 1559.24L937.50 1559.24L937.75 1559.24L938.00 1559.24L938.25 1559.23L938.50 1559.23L938.75 1559.23L939.00 1559.23L939.25 1559.22L939.50 1559.22L939.75 1559.22L940.00 1559.21L940.25 1559.21L940.50 1559.20L940.75 1559.20L941.00 1559.20L941.25 1559.19L941.50 1559.19L941.75 1559.18L942.00 1559.18L942.25 1559.18L942.50 1559.17L942.75 1559.17L943.00 1559.16L943.25 1559.16L943.50 1559.15L943.75 1559.14L944.00 1559.14L944.25 1559.13L944.50 1559.13L944.75 1559.12L945.00 1559.12L945.25 1559.11L945.50 1559.10L945.75 1559.10L946.00 1559.09L946.25 1559.08L946.50 1559.08L946.75 1559.07L947.00 1559.06L947.25 1559.05L947.50 1559.05L947.75 1559.04L948.00 1559.03L948.25 1559.02L948.50 1559.01L948.75 1559.00L949.00 1559.00L949.25 1558.99L949.50 1558.98L949.75 1558.97L950.00 1558.96L950.25 1558.95L950.50 1558.94L950.75 1558.93L951.00 1558.92L951.25 1558.91L951.50 1558.89L951.75 1558.88L952.00 1558.87L952.25 1558.86L952.50 1558.85L952.75 1558.84L953.00 1558.82L953.25 1558.81L953.50 1558.80L953.75 1558.78L954.00 1558.77L954.25 1558.76L954.50 1558.74L954.75 1558.73L955.00 1558.71L955.25 1558.70L955.50 1558.68L955.75 1558.66L956.00 1558.65L956.25 1558.63L956.50 1558.61L956.75 1558.60L957.00 1558.58L957.25 1558.56L957.50 1558.54L957.75 1558.52L958.00 1558.50L958.25 1558.48L958.50 1558.46L958.75 1558.44L959.00 1558.42L959.25 1558.40L959.50 1558.37L959.75 1558.35L960.00 1558.33L960.25 1558.30L960.50 1558.28L960.75 1558.25L961.00 1558.22L961.25 1558.20L961.50 1558.17L961.75 1558.14L962.00 1558.11L962.25 1558.08L962.50 1558.05L962.75 1558.02L963.00 1557.98L963.25 1557.95L963.50 1557.92L963.75 1557.88L964.00 1557.84L964.25 1557.81L964.50 1557.77L964.75 1557.73L965.00 1557.69L965.25 1557.65L965.50 1557.60L965.75 1557.56L966.00 1557.51L966.25 1557.46L966.50 1557.42L966.75 1557.37L967.00 1557.31L967.25 1557.26L967.50 1557.20L967.75 1557.15L968.00 1557.09L968.25 1557.03L968.50 1556.97L968.75 1556.90L969.00 1556.83L969.25 1556.77L969.50 1556.69L969.75 1556.62L970.00 1556.54L970.25 1556.46L970.50 1556.38L970.75 1556.30L971.00 1556.21L971.25 1556.12L971.50 1556.02L971.75 1555.92L972.00 1555.82L972.25 1555.71L972.50 1555.60L972.75 1555.49L973.00 1555.37L973.25 1555.24L973.50 1555.11L973.75 1554.98L974.00 1554.84L974.25 1554.69L974.50 1554.54L974.75 1554.37L975.00 1554.21L975.25 1554.03L975.50 1553.85L975.75 1553.65L976.00 1553.45L976.25 1553.24L976.50 1553.02L976.75 1552.78L977.00 1552.54L977.25 1552.28L977.50 1552.01L977.75 1551.72L978.00 1551.42L978.25 1551.10L978.50 1550.76L978.75 1550.40L979.00 1550.02L979.25 1549.62L979.50 1549.19L979.75 1548.74L980.00 1548.26L980.25 1547.74L980.50 1547.20L980.75 1546.61L981.00 1545.99L981.25 1545.32L981.50 1544.60M1001.00 1544.31L1001.25 1545.05L1001.50 1545.74L1001.75 1546.38L1002.00 1546.98L1002.25 1547.54L1002.50 1548.07L1002.75 1548.56L1003.00 1549.03L1003.25 1549.47L1003.50 1549.88L1003.75 1550.27L1004.00 1550.63L1004.25 1550.98L1004.50 1551.31L1004.75 1551.62L1005.00 1551.91L1005.25 1552.19L1005.50 1552.45L1005.75 1552.70L1006.00 1552.94L1006.25 1553.17L1006.50 1553.39L1006.75 1553.59L1007.00 1553.79L1007.25 1553.98L1007.50 1554.16L1007.75 1554.33L1008.00 1554.49L1008.25 1554.65L1008.50 1554.80L1008.75 1554.94L1009.00 1555.08L1009.25 1555.21L1009.50 1555.34L1009.75 1555.46L1010.00 1555.58L1010.25 1555.69L1010.50 1555.80L1010.75 1555.91L1011.00 1556.01L1011.25 1556.10L1011.50 1556.20L1011.75 1556.29L1012.00 1556.38L1012.25 1556.46L1012.50 1556.54L1012.75 1556.62L1013.00 1556.69L1013.25 1556.77L1013.50 1556.84L1013.75 1556.90L1014.00 1556.97L1014.25 1557.03L1014.50 1557.10L1014.75 1557.16L1015.00 1557.21L1015.25 1557.27L1015.50 1557.33L1015.75 1557.38L1016.00 1557.43L1016.25 1557.48L1016.50 1557.53L1016.75 1557.57L1017.00 1557.62L1017.25 1557.66L1017.50 1557.71L1017.75 1557.75L1018.00 1557.79L1018.25 1557.83L1018.50 1557.87L1018.75 1557.91L1019.00 1557.94L1019.25 1557.98L1019.50 1558.01L1019.75 1558.05L1020.00 1558.08L1020.25 1558.11L1020.50 1558.14L1020.75 1558.17L1021.00 1558.20L1021.25 1558.23L1021.50 1558.26L1021.75 1558.29L1022.00 1558.31L1022.25 1558.34L1022.50 1558.36L1022.75 1558.39L1023.00 1558.41L1023.25 1558.44L1023.50 1558.46L1023.75 1558.48L1024.00 1558.50L1024.25 1558.53L1024.50 1558.55L1024.75 1558.57L1025.00 1558.59L1025.25 1558.61L1025.50 1558.63L1025.75 1558.65L1026.00 1558.66L1026.25 1558.68L1026.50 1558.70L1026.75 1558.72L1027.00 1558.73L1027.25 1558.75L1027.50 1558.77L1027.75 1558.78L1028.00 1558.80L1028.25 1558.81L1028.50 1558.83L1028.75 1558.84L1029.00 1558.86L1029.25 1558.87L1029.50 1558.89L1029.75 1558.90L1030.00 1558.91L1030.25 1558.93L1030.50 1558.94L1030.75 1558.95L1031.00 1558.96L1031.25 1558.98L1031.50 1558.99L1031.75 1559.00L1032.00 1559.01L1032.25 1559.02L1032.50 1559.03L1032.75 1559.04L1033.00 1559.05L1033.25 1559.07L1033.50 1559.08L1033.75 1559.09L1034.00 1559.10L1034.25 1559.10L1034.50 1559.11L1034.75 1559.12L1035.00 1559.13L1035.25 1559.14L1035.50 1559.15L1035.75 1559.16L1036.00 1559.17L1036.25 1559.18L1036.50 1559.18L1036.75 1559.19L1037.00 1559.20L1037.25 1559.21L1037.50 1559.22L1037.75 1559.22L1038.00 1559.23L1038.25 1559.24L1038.50 1559.25L1038.75 1559.25L1039.00 1559.26L1039.25 1559.27L1039.50 1559.27L1039.75 1559.28L1040.00 1559.29L1040.25 1559.29L1040.50 1559.30L1040.75 1559.31L1041.00 1559.31L1041.25 1559.32L1041.50 1559.32L1041.75 1559.33L1042.00 1559.34L1042.25 1559.34L1042.50 1559.35L1042.75 1559.35L1043.00 1559.36L1043.25 1559.36L1043.50 1559.37L1043.75 1559.37L1044.00 1559.38L1044.25 1559.38L1044.50 1559.39L1044.75 1559.39L1045.00 1559.40L1045.25 1559.40L1045.50 1559.41L1045.75 1559.41L1046.00 1559.42L1046.25 1559.42L1046.50 1559.43L1046.75 1559.43L1047.00 1559.43L1047.25 1559.44L1047.50 1559.44L1047.75 1559.45L1048.00 1559.45L1048.25 1559.45L1048.50 1559.46L1048.75 1559.46L1049.00 1559.47L1049.25 1559.47L1049.50 1559.47L1049.75 1559.48L1050.00 1559.48L1050.25 1559.48L1050.50 1559.49L1050.75 1559.49L1051.00 1559.49L1051.25 1559.50L1051.50 1559.50L1051.75 1559.50L1052.00 1559.51L1052.25 1559.51L1052.50 1559.51L1052.75 1559.52L1053.00 1559.52L1053.25 1559.52L1053.50 1559.52L1053.75 1559.53L1054.00 1559.53L1054.25 1559.53L1054.50 1559.53L1054.75 1559.54L1055.00 1559.54L1055.25 1559.54L1055.50 1559.54L1055.75 1559.55L1056.00 1559.55L1056.25 1559.55L1056.50 1559.55L1056.75 1559.56L1057.00 1559.56L1057.25 1559.56L1057.50 1559.56L1057.75 1559.57L1058.00 1559.57L1058.25 1559.57L1058.50 1559.57L1058.75 1559.57L1059.00 1559.58L1059.25 1559.58L1059.50 1559.58L1059.75 1559.58L1060.00 1559.58L1060.25 1559.58L1060.50 1559.59L1060.75 1559.59L1061.00 1559.59L1061.25 1559.59L1061.50 1559.59L1061.75 1559.59L1062.00 1559.59L1062.25 1559.60L1062.50 1559.60L1062.75 1559.60L1063.00 1559.60L1063.25 1559.60L1063.50 1559.60L1063.75 1559.60L1064.00 1559.60L1064.25 1559.61L1064.50 1559.61L1064.75 1559.61L1065.00 1559.61L1065.25 1559.61L1065.50 1559.61L1065.75 1559.61L1066.00 1559.61L1066.25 1559.61L1066.50 1559.61L1066.75 1559.61L1067.00 1559.61L1067.25 1559.61L1067.50 1559.62L1067.75 1559.62L1068.00 1559.62L1068.25 1559.62L1068.50 1559.62L1068.75 1559.62L1069.00 1559.62L1069.25 1559.62L1069.50 1559.62L1069.75 1559.62L1070.00 1559.62L1070.25 1559.62L1070.50 1559.62L1070.75 1559.62L1071.00 1559.62L1071.25 1559.62L1071.50 1559.62L1071.75 1559.61L1072.00 1559.61L1072.25 1559.61L1072.50 1559.61L1072.75 1559.61L1073.00 1559.61L1073.25 1559.61L1073.50 1559.61L1073.75 1559.61L1074.00 1559.61L1074.25 1559.61L1074.50 1559.60L1074.75 1559.60L1075.00 1559.60L1075.25 1559.60L1075.50 1559.60L1075.75 1559.59L1076.00 1559.59L1076.25 1559.59L1076.50 1559.59L1076.75 1559.59L1077.00 1559.58L1077.25 1559.58L1077.50 1559.58L1077.75 1559.57L1078.00 1559.57L1078.25 1559.57L1078.50 1559.56L1078.75 1559.56L1079.00 1559.55L1079.25 1559.55L1079.50 1559.54L1079.75 1559.54L1080.00 1559.53L1080.25 1559.53L1080.50 1559.52L1080.75 1559.52L1081.00 1559.51L1081.25 1559.50L1081.50 1559.50L1081.75 1559.49L1082.00 1559.48L1082.25 1559.47L1082.50 1559.46L1082.75 1559.45L1083.00 1559.44L1083.25 1559.43L1083.50 1559.42L1083.75 1559.41L1084.00 1559.40L1084.25 1559.38L1084.50 1559.37L1084.75 1559.35L1085.00 1559.34L1085.25 1559.32L1085.50 1559.30L1085.75 1559.28L1086.00 1559.26L1086.25 1559.24L1086.50 1559.21L1086.75 1559.19L1087.00 1559.16L1087.25 1559.13L1087.50 1559.10L1087.75 1559.06L1088.00 1559.02L1088.25 1558.98L1088.50 1558.94L1088.75 1558.89L1089.00 1558.84L1089.25 1558.78L1089.50 1558.72L1089.75 1558.65L1090.00 1558.58L1090.25 1558.50L1090.50 1558.41L1090.75 1558.31L1091.00 1558.19L1091.25 1558.07L1091.50 1557.93L1091.75 1557.78L1092.00 1557.61L1092.25 1557.41L1092.50 1557.19L1092.75 1556.95L1093.00 1556.66L1093.25 1556.34L1093.50 1555.98L1093.75 1555.56L1094.00 1555.08L1094.25 1554.53L1094.50 1553.91L1094.75 1553.21L1095.00 1552.41L1095.25 1551.54L1095.50 1550.59L1095.75 1549.60L1096.00 1548.62L1096.25 1547.71L1096.50 1546.97L1096.75 1546.48L1097.00 1546.31L1097.25 1546.48L1097.50 1546.97L1097.75 1547.72L1098.00 1548.62L1098.25 1549.61L1098.50 1550.60L1098.75 1551.54L1099.00 1552.42L1099.25 1553.22L1099.50 1553.92L1099.75 1554.55L1100.00 1555.09L1100.25 1555.57L1100.50 1555.99L1100.75 1556.36L1101.00 1556.68L1101.25 1556.96L1101.50 1557.21L1101.75 1557.43L1102.00 1557.63L1102.25 1557.80L1102.50 1557.96L1102.75 1558.10L1103.00 1558.22L1103.25 1558.33L1103.50 1558.43L1103.75 1558.53L1104.00 1558.61L1104.25 1558.68L1104.50 1558.75L1104.75 1558.82L1105.00 1558.88L1105.25 1558.93L1105.50 1558.98L1105.75 1559.02L1106.00 1559.06L1106.25 1559.10L1106.50 1559.14L1106.75 1559.17L1107.00 1559.20L1107.25 1559.23L1107.50 1559.26L1107.75 1559.29L1108.00 1559.31L1108.25 1559.33L1108.50 1559.35L1108.75 1559.37L1109.00 1559.39L1109.25 1559.41L1109.50 1559.43L1109.75 1559.44L1110.00 1559.46L1110.25 1559.47L1110.50 1559.48L1110.75 1559.50L1111.00 1559.51L1111.25 1559.52L1111.50 1559.53L1111.75 1559.54L1112.00 1559.55L1112.25 1559.56L1112.50 1559.57L1112.75 1559.58L1113.00 1559.58L1113.25 1559.59L1113.50 1559.60L1113.75 1559.61L1114.00 1559.61L1114.25 1559.62L1114.50 1559.63L1114.75 1559.63L1115.00 1559.64L1115.25 1559.64L1115.50 1559.65L1115.75 1559.65L1116.00 1559.66L1116.25 1559.66L1116.50 1559.67L1116.75 1559.67L1117.00 1559.68L1117.25 1559.68L1117.50 1559.69L1117.75 1559.69L1118.00 1559.69L1118.25 1559.70L1118.50 1559.70L1118.75 1559.70L1119.00 1559.71L1119.25 1559.71L1119.50 1559.71L1119.75 1559.72L1120.00 1559.72L1120.25 1559.72L1120.50 1559.72L1120.75 1559.73L1121.00 1559.73L1121.25 1559.73L1121.50 1559.73L1121.75 1559.74L1122.00 1559.74L1122.25 1559.74L1122.50 1559.74L1122.75 1559.75L1123.00 1559.75L1123.25 1559.75L1123.50 1559.75L1123.75 1559.75L1124.00 1559.75L1124.25 1559.76L1124.50 1559.76L1124.75 1559.76L1125.00 1559.76L1125.25 1559.76L1125.50 1559.76L1125.75 1559.77L1126.00 1559.77L1126.25 1559.77L1126.50 1559.77L1126.75 1559.77L1127.00 1559.77L1127.25 1559.77L1127.50 1559.77L1127.75 1559.78L1128.00 1559.78L1128.25 1559.78L1128.50 1559.78L1128.75 1559.78L1129.00 1559.78L1129.25 1559.78L1129.50 1559.78L1129.75 1559.78L1130.00 1559.79L1130.25 1559.79L1130.50 1559.79L1130.75 1559.79L1131.00 1559.79L1131.25 1559.79L1131.50 1559.79L1131.75 1559.79L1132.00 1559.79L1132.25 1559.79L1132.50 1559.79L1132.75 1559.79L1133.00 1559.80L1133.25 1559.80L1133.50 1559.80L1133.75 1559.80L1134.00 1559.80L1134.25 1559.80L1134.50 1559.80L1134.75 1559.80L1135.00 1559.80L1135.25 1559.80L1135.50 1559.80L1135.75 1559.80L1136.00 1559.80L1136.25 1559.80L1136.50 1559.80L1136.75 1559.80L1137.00 1559.80L1137.25 1559.80L1137.50 1559.81L1137.75 1559.81L1138.00 1559.81L1138.25 1559.81L1138.50 1559.81L1138.75 1559.81L1139.00 1559.81L1139.25 1559.81L1139.50 1559.81L1139.75 1559.81L1140.00 1559.81L1140.25 1559.81L1140.50 1559.81L1140.75 1559.81L1141.00 1559.81L1141.25 1559.81L1141.50 1559.81L1141.75 1559.81L1142.00 1559.81L1142.25 1559.81L1142.50 1559.81L1142.75 1559.81L1143.00 1559.81L1143.25 1559.81L1143.50 1559.81L1143.75 1559.81L1144.00 1559.81L1144.25 1559.81L1144.50 1559.81L1144.75 1559.81L1145.00 1559.81L1145.25 1559.81L1145.50 1559.81L1145.75 1559.81L1146.00 1559.81L1146.25 1559.81L1146.50 1559.81L1146.75 1559.81L1147.00 1559.81L1147.25 1559.81L1147.50 1559.81L1147.75 1559.81L1148.00 1559.81L1148.25 1559.81L1148.50 1559.81L1148.75 1559.81L1149.00 1559.81L1149.25 1559.81L1149.50 1559.81L1149.75 1559.81L1150.00 1559.81L1150.25 1559.81L1150.50 1559.81L1150.75 1559.81L1151.00 1559.81L1151.25 1559.81L1151.50 1559.81L1151.75 1559.81L1152.00 1559.81L1152.25 1559.81L1152.50 1559.81L1152.75 1559.81L1153.00 1559.81L1153.25 1559.81L1153.50 1559.81L1153.75 1559.81L1154.00 1559.81L1154.25 1559.81L1154.50 1559.81L1154.75 1559.81L1155.00 1559.81L1155.25 1559.81L1155.50 1559.81L1155.75 1559.81L1156.00 1559.81L1156.25 1559.81L1156.50 1559.81L1156.75 1559.81L1157.00 1559.81L1157.25 1559.81L1157.50 1559.81L1157.75 1559.81L1158.00 1559.81L1158.25 1559.81L1158.50 1559.81L1158.75 1559.81L1159.00 1559.81L1159.25 1559.81L1159.50 1559.81L1159.75 1559.81L1160.00 1559.81L1160.25 1559.81L1160.50 1559.81L1160.75 1559.80L1161.00 1559.80L1161.25 1559.80L1161.50 1559.80L1161.75 1559.80L1162.00 1559.80L1162.25 1559.80L1162.50 1559.80L1162.75 1559.80L1163.00 1559.80L1163.25 1559.80L1163.50 1559.80L1163.75 1559.80L1164.00 1559.80L1164.25 1559.80L1164.50 1559.80L1164.75 1559.80L1165.00 1559.80L1165.25 1559.80L1165.50 1559.80L1165.75 1559.80L1166.00 1559.79L1166.25 1559.79L1166.50 1559.79L1166.75 1559.79L1167.00 1559.79L1167.25 1559.79L1167.50 1559.79L1167.75 1559.79L1168.00 1559.79L1168.25 1559.79L1168.50 1559.79L1168.75 1559.79L1169.00 1559.79L1169.25 1559.79L1169.50 1559.79L1169.75 1559.78L1170.00 1559.78L1170.25 1559.78L1170.50 1559.78L1170.75 1559.78L1171.00 1559.78L1171.25 1559.78L1171.50 1559.78L1171.75 1559.78L1172.00 1559.78L1172.25 1559.78L1172.50 1559.78L1172.75 1559.78L1173.00 1559.77L1173.25 1559.77L1173.50 1559.77L1173.75 1559.77L1174.00 1559.77L1174.25 1559.77L1174.50 1559.77L1174.75 1559.77L1175.00 1559.77L1175.25 1559.77L1175.50 1559.76L1175.75 1559.76L1176.00 1559.76L1176.25 1559.76L1176.50 1559.76L1176.75 1559.76L1177.00 1559.76L1177.25 1559.76L1177.50 1559.76L1177.75 1559.75L1178.00 1559.75L1178.25 1559.75L1178.50 1559.75L1178.75 1559.75L1179.00 1559.75L1179.25 1559.75L1179.50 1559.75L1179.75 1559.74L1180.00 1559.74L1180.25 1559.74L1180.50 1559.74L1180.75 1559.74L1181.00 1559.74L1181.25 1559.74L1181.50 1559.73L1181.75 1559.73L1182.00 1559.73L1182.25 1559.73L1182.50 1559.73L1182.75 1559.73L1183.00 1559.72L1183.25 1559.72L1183.50 1559.72L1183.75 1559.72L1184.00 1559.72L1184.25 1559.72L1184.50 1559.71L1184.75 1559.71L1185.00 1559.71L1185.25 1559.71L1185.50 1559.71L1185.75 1559.70L1186.00 1559.70L1186.25 1559.70L1186.50 1559.70L1186.75 1559.70L1187.00 1559.69L1187.25 1559.69L1187.50 1559.69L1187.75 1559.69L1188.00 1559.69L1188.25 1559.68L1188.50 1559.68L1188.75 1559.68L1189.00 1559.68L1189.25 1559.67L1189.50 1559.67L1189.75 1559.67L1190.00 1559.67L1190.25 1559.66L1190.50 1559.66L1190.75 1559.66L1191.00 1559.66L1191.25 1559.65L1191.50 1559.65L1191.75 1559.65L1192.00 1559.64L1192.25 1559.64L1192.50 1559.64L1192.75 1559.63L1193.00 1559.63L1193.25 1559.63L1193.50 1559.62L1193.75 1559.62L1194.00 1559.62L1194.25 1559.61L1194.50 1559.61L1194.75 1559.61L1195.00 1559.60L1195.25 1559.60L1195.50 1559.60L1195.75 1559.59L1196.00 1559.59L1196.25 1559.58L1196.50 1559.58L1196.75 1559.58L1197.00 1559.57L1197.25 1559.57L1197.50 1559.56L1197.75 1559.56L1198.00 1559.55L1198.25 1559.55L1198.50 1559.54L1198.75 1559.54L1199.00 1559.53L1199.25 1559.53L1199.50 1559.52L1199.75 1559.52L1200.00 1559.51L1200.25 1559.51L1200.50 1559.50L1200.75 1559.49L1201.00 1559.49L1201.25 1559.48L1201.50 1559.47L1201.75 1559.47L1202.00 1559.46L1202.25 1559.45L1202.50 1559.45L1202.75 1559.44L1203.00 1559.43L1203.25 1559.42L1203.50 1559.42L1203.75 1559.41L1204.00 1559.40L1204.25 1559.39L1204.50 1559.38L1204.75 1559.37L1205.00 1559.36L1205.25 1559.35L1205.50 1559.35L1205.75 1559.33L1206.00 1559.32L1206.25 1559.31L1206.50 1559.30L1206.75 1559.29L1207.00 1559.28L1207.25 1559.27L1207.50 1559.26L1207.75 1559.24L1208.00 1559.23L1208.25 1559.22L1208.50 1559.20L1208.75 1559.19L1209.00 1559.17L1209.25 1559.16L1209.50 1559.14L1209.75 1559.12L1210.00 1559.10L1210.25 1559.09L1210.50 1559.07L1210.75 1559.05L1211.00 1559.03L1211.25 1559.01L1211.50 1558.98L1211.75 1558.96L1212.00 1558.94L1212.25 1558.91L1212.50 1558.88L1212.75 1558.86L1213.00 1558.83L1213.25 1558.80L1213.50 1558.76L1213.75 1558.73L1214.00 1558.69L1214.25 1558.66L1214.50 1558.62L1214.75 1558.58L1215.00 1558.53L1215.25 1558.48L1215.50 1558.43L1215.75 1558.38L1216.00 1558.32L1216.25 1558.26L1216.50 1558.20L1216.75 1558.13L1217.00 1558.05L1217.25 1557.97L1217.50 1557.89L1217.75 1557.79L1218.00 1557.69L1218.25 1557.58L1218.50 1557.46L1218.75 1557.33L1219.00 1557.18L1219.25 1557.02L1219.50 1556.85L1219.75 1556.65L1220.00 1556.43L1220.25 1556.19L1220.50 1555.92L1220.75 1555.62L1221.00 1555.27L1221.25 1554.88L1221.50 1554.44L1221.75 1553.94L1222.00 1553.37L1222.25 1552.72L1222.50 1551.99L1222.75 1551.16L1223.00 1550.23L1223.25 1549.20L1223.50 1548.09L1223.75 1546.94L1224.00 1545.79L1224.25 1544.72M1225.75 1544.46L1226.00 1545.44L1226.25 1546.50L1226.50 1547.57L1226.75 1548.59L1227.00 1549.52L1227.25 1550.36L1227.50 1551.10L1227.75 1551.74L1228.00 1552.29L1228.25 1552.76L1228.50 1553.15L1228.75 1553.49L1229.00 1553.77L1229.25 1554.00L1229.50 1554.19L1229.75 1554.34L1230.00 1554.45L1230.25 1554.54L1230.50 1554.60L1230.75 1554.63L1231.00 1554.64L1231.25 1554.63L1231.50 1554.60L1231.75 1554.55L1232.00 1554.47L1232.25 1554.39L1232.50 1554.28L1232.75 1554.15L1233.00 1554.00L1233.25 1553.84L1233.50 1553.65L1233.75 1553.44L1234.00 1553.21L1234.25 1552.95L1234.50 1552.66L1234.75 1552.35L1235.00 1552.01L1235.25 1551.63L1235.50 1551.22L1235.75 1550.76L1236.00 1550.26L1236.25 1549.71L1236.50 1549.10L1236.75 1548.43L1237.00 1547.69L1237.25 1546.87L1237.50 1545.95L1237.75 1544.94M1249.25 1544.34L1249.50 1545.47L1249.75 1546.48L1250.00 1547.40L1250.25 1548.22L1250.50 1548.97L1250.75 1549.65L1251.00 1550.28L1251.25 1550.84L1251.50 1551.36L1251.75 1551.84L1252.00 1552.28L1252.25 1552.69L1252.50 1553.06L1252.75 1553.41L1253.00 1553.73L1253.25 1554.03L1253.50 1554.30L1253.75 1554.56L1254.00 1554.80L1254.25 1555.03L1254.50 1555.24L1254.75 1555.43L1255.00 1555.62L1255.25 1555.79L1255.50 1555.96L1255.75 1556.11L1256.00 1556.26L1256.25 1556.39L1256.50 1556.52L1256.75 1556.65L1257.00 1556.76L1257.25 1556.87L1257.50 1556.98L1257.75 1557.08L1258.00 1557.17L1258.25 1557.26L1258.50 1557.34L1258.75 1557.42L1259.00 1557.50L1259.25 1557.58L1259.50 1557.65L1259.75 1557.71L1260.00 1557.78L1260.25 1557.84L1260.50 1557.90L1260.75 1557.95L1261.00 1558.01L1261.25 1558.06L1261.50 1558.11L1261.75 1558.16L1262.00 1558.20L1262.25 1558.25L1262.50 1558.29L1262.75 1558.33L1263.00 1558.37L1263.25 1558.41L1263.50 1558.44L1263.75 1558.48L1264.00 1558.51L1264.25 1558.54L1264.50 1558.58L1264.75 1558.61L1265.00 1558.63L1265.25 1558.66L1265.50 1558.69L1265.75 1558.72L1266.00 1558.74L1266.25 1558.77L1266.50 1558.79L1266.75 1558.81L1267.00 1558.84L1267.25 1558.86L1267.50 1558.88L1267.75 1558.90L1268.00 1558.92L1268.25 1558.94L1268.50 1558.96L1268.75 1558.97L1269.00 1558.99L1269.25 1559.01L1269.50 1559.03L1269.75 1559.04L1270.00 1559.06L1270.25 1559.07L1270.50 1559.09L1270.75 1559.10L1271.00 1559.12L1271.25 1559.13L1271.50 1559.14L1271.75 1559.15L1272.00 1559.17L1272.25 1559.18L1272.50 1559.19L1272.75 1559.20L1273.00 1559.21L1273.25 1559.23L1273.50 1559.24L1273.75 1559.25L1274.00 1559.26L1274.25 1559.27L1274.50 1559.28L1274.75 1559.29L1275.00 1559.29L1275.25 1559.30L1275.50 1559.31L1275.75 1559.32L1276.00 1559.33L1276.25 1559.34L1276.50 1559.34L1276.75 1559.35L1277.00 1559.36L1277.25 1559.37L1277.50 1559.37L1277.75 1559.38L1278.00 1559.39L1278.25 1559.40L1278.50 1559.40L1278.75 1559.41L1279.00 1559.41L1279.25 1559.42L1279.50 1559.43L1279.75 1559.43L1280.00 1559.44L1280.25 1559.44L1280.50 1559.45L1280.75 1559.45L1281.00 1559.46L1281.25 1559.46L1281.50 1559.47L1281.75 1559.47L1282.00 1559.48L1282.25 1559.48L1282.50 1559.49L1282.75 1559.49L1283.00 1559.50L1283.25 1559.50L1283.50 1559.51L1283.75 1559.51L1284.00 1559.51L1284.25 1559.52L1284.50 1559.52L1284.75 1559.53L1285.00 1559.53L1285.25 1559.53L1285.50 1559.54L1285.75 1559.54L1286.00 1559.54L1286.25 1559.55L1286.50 1559.55L1286.75 1559.55L1287.00 1559.56L1287.25 1559.56L1287.50 1559.56L1287.75 1559.57L1288.00 1559.57L1288.25 1559.57L1288.50 1559.57L1288.75 1559.58L1289.00 1559.58L1289.25 1559.58L1289.50 1559.58L1289.75 1559.59L1290.00 1559.59L1290.25 1559.59L1290.50 1559.59L1290.75 1559.60L1291.00 1559.60L1291.25 1559.60L1291.50 1559.60L1291.75 1559.60L1292.00 1559.61L1292.25 1559.61L1292.50 1559.61L1292.75 1559.61L1293.00 1559.61L1293.25 1559.62L1293.50 1559.62L1293.75 1559.62L1294.00 1559.62L1294.25 1559.62L1294.50 1559.62L1294.75 1559.63L1295.00 1559.63L1295.25 1559.63L1295.50 1559.63L1295.75 1559.63L1296.00 1559.63L1296.25 1559.63L1296.50 1559.63L1296.75 1559.64L1297.00 1559.64L1297.25 1559.64L1297.50 1559.64L1297.75 1559.64L1298.00 1559.64L1298.25 1559.64L1298.50 1559.64L1298.75 1559.64L1299.00 1559.65L1299.25 1559.65L1299.50 1559.65L1299.75 1559.65L1300.00 1559.65L1300.25 1559.65L1300.50 1559.65L1300.75 1559.65L1301.00 1559.65L1301.25 1559.65L1301.50 1559.65L1301.75 1559.65L1302.00 1559.65L1302.25 1559.65L1302.50 1559.65L1302.75 1559.65L1303.00 1559.66L1303.25 1559.66L1303.50 1559.66L1303.75 1559.66L1304.00 1559.66L1304.25 1559.66L1304.50 1559.66L1304.75 1559.66L1305.00 1559.66L1305.25 1559.66L1305.50 1559.66L1305.75 1559.66L1306.00 1559.66L1306.25 1559.66L1306.50 1559.66L1306.75 1559.66L1307.00 1559.66L1307.25 1559.66L1307.50 1559.66L1307.75 1559.66L1308.00 1559.66L1308.25 1559.66L1308.50 1559.66L1308.75 1559.66L1309.00 1559.66L1309.25 1559.66L1309.50 1559.66L1309.75 1559.65L1310.00 1559.65L1310.25 1559.65L1310.50 1559.65L1310.75 1559.65L1311.00 1559.65L1311.25 1559.65L1311.50 1559.65L1311.75 1559.65L1312.00 1559.65L1312.25 1559.65L1312.50 1559.65L1312.75 1559.65L1313.00 1559.65L1313.25 1559.65L1313.50 1559.64L1313.75 1559.64L1314.00 1559.64L1314.25 1559.64L1314.50 1559.64L1314.75 1559.64L1315.00 1559.64L1315.25 1559.64L1315.50 1559.64L1315.75 1559.64L1316.00 1559.63L1316.25 1559.63L1316.50 1559.63L1316.75 1559.63L1317.00 1559.63L1317.25 1559.63L1317.50 1559.63L1317.75 1559.62L1318.00 1559.62L1318.25 1559.62L1318.50 1559.62L1318.75 1559.62L1319.00 1559.62L1319.25 1559.61L1319.50 1559.61L1319.75 1559.61L1320.00 1559.61L1320.25 1559.61L1320.50 1559.60L1320.75 1559.60L1321.00 1559.60L1321.25 1559.60L1321.50 1559.60L1321.75 1559.59L1322.00 1559.59L1322.25 1559.59L1322.50 1559.59L1322.75 1559.58L1323.00 1559.58L1323.25 1559.58L1323.50 1559.58L1323.75 1559.57L1324.00 1559.57L1324.25 1559.57L1324.50 1559.56L1324.75 1559.56L1325.00 1559.56L1325.25 1559.56L1325.50 1559.55L1325.75 1559.55L1326.00 1559.55L1326.25 1559.54L1326.50 1559.54L1326.75 1559.53L1327.00 1559.53L1327.25 1559.53L1327.50 1559.52L1327.75 1559.52L1328.00 1559.52L1328.25 1559.51L1328.50 1559.51L1328.75 1559.50L1329.00 1559.50L1329.25 1559.49L1329.50 1559.49L1329.75 1559.48L1330.00 1559.48L1330.25 1559.47L1330.50 1559.47L1330.75 1559.46L1331.00 1559.46L1331.25 1559.45L1331.50 1559.45L1331.75 1559.44L1332.00 1559.44L1332.25 1559.43L1332.50 1559.42L1332.75 1559.42L1333.00 1559.41L1333.25 1559.40L1333.50 1559.40L1333.75 1559.39L1334.00 1559.38L1334.25 1559.38L1334.50 1559.37L1334.75 1559.36L1335.00 1559.35L1335.25 1559.35L1335.50 1559.34L1335.75 1559.33L1336.00 1559.32L1336.25 1559.31L1336.50 1559.30L1336.75 1559.29L1337.00 1559.28L1337.25 1559.27L1337.50 1559.26L1337.75 1559.25L1338.00 1559.24L1338.25 1559.23L1338.50 1559.22L1338.75 1559.21L1339.00 1559.19L1339.25 1559.18L1339.50 1559.17L1339.75 1559.16L1340.00 1559.14L1340.25 1559.13L1340.50 1559.11L1340.75 1559.10L1341.00 1559.08L1341.25 1559.07L1341.50 1559.05L1341.75 1559.03L1342.00 1559.02L1342.25 1559.00L1342.50 1558.98L1342.75 1558.96L1343.00 1558.94L1343.25 1558.92L1343.50 1558.90L1343.75 1558.87L1344.00 1558.85L1344.25 1558.83L1344.50 1558.80L1344.75 1558.78L1345.00 1558.75L1345.25 1558.72L1345.50 1558.69L1345.75 1558.66L1346.00 1558.63L1346.25 1558.60L1346.50 1558.56L1346.75 1558.53L1347.00 1558.49L1347.25 1558.45L1347.50 1558.41L1347.75 1558.37L1348.00 1558.32L1348.25 1558.28L1348.50 1558.23L1348.75 1558.18L1349.00 1558.12L1349.25 1558.07L1349.50 1558.01L1349.75 1557.95L1350.00 1557.88L1350.25 1557.81L1350.50 1557.74L1350.75 1557.66L1351.00 1557.58L1351.25 1557.49L1351.50 1557.40L1351.75 1557.30L1352.00 1557.19L1352.25 1557.08L1352.50 1556.96L1352.75 1556.83L1353.00 1556.70L1353.25 1556.55L1353.50 1556.39L1353.75 1556.22L1354.00 1556.04L1354.25 1555.84L1354.50 1555.62L1354.75 1555.39L1355.00 1555.14L1355.25 1554.86L1355.50 1554.56L1355.75 1554.22L1356.00 1553.86L1356.25 1553.45L1356.50 1553.01L1356.75 1552.51L1357.00 1551.96L1357.25 1551.35L1357.50 1550.66L1357.75 1549.88L1358.00 1549.01L1358.25 1548.02L1358.50 1546.90L1358.75 1545.62L1359.00 1544.17M1366.00 1544.27L1366.25 1545.26L1366.50 1546.11L1366.75 1546.82L1367.00 1547.42L1367.25 1547.91L1367.50 1548.32L1367.75 1548.63L1368.00 1548.87L1368.25 1549.05L1368.50 1549.15L1368.75 1549.19L1369.00 1549.17L1369.25 1549.09L1369.50 1548.95L1369.75 1548.74L1370.00 1548.47L1370.25 1548.14L1370.50 1547.73L1370.75 1547.25L1371.00 1546.68L1371.25 1546.02L1371.50 1545.25L1371.75 1544.37M1382.00 1545.08L1382.25 1546.23L1382.50 1547.25L1382.75 1548.16L1383.00 1548.98L1383.25 1549.72L1383.50 1550.39L1383.75 1551.00L1384.00 1551.55L1384.25 1552.05L1384.50 1552.51L1384.75 1552.93L1385.00 1553.31L1385.25 1553.67L1385.50 1553.99L1385.75 1554.30L1386.00 1554.57L1386.25 1554.83L1386.50 1555.07L1386.75 1555.30L1387.00 1555.51L1387.25 1555.70L1387.50 1555.88L1387.75 1556.05L1388.00 1556.21L1388.25 1556.36L1388.50 1556.50L1388.75 1556.63L1389.00 1556.76L1389.25 1556.88L1389.50 1556.99L1389.75 1557.09L1390.00 1557.19L1390.25 1557.29L1390.50 1557.38L1390.75 1557.46L1391.00 1557.54L1391.25 1557.62L1391.50 1557.69L1391.75 1557.76L1392.00 1557.83L1392.25 1557.89L1392.50 1557.95L1392.75 1558.01L1393.00 1558.07L1393.25 1558.12L1393.50 1558.17L1393.75 1558.22L1394.00 1558.26L1394.25 1558.31L1394.50 1558.35L1394.75 1558.39L1395.00 1558.43L1395.25 1558.47L1395.50 1558.51L1395.75 1558.54L1396.00 1558.58L1396.25 1558.61L1396.50 1558.64L1396.75 1558.67L1397.00 1558.70L1397.25 1558.73L1397.50 1558.75L1397.75 1558.78L1398.00 1558.81L1398.25 1558.83L1398.50 1558.85L1398.75 1558.88L1399.00 1558.90L1399.25 1558.92L1399.50 1558.94L1399.75 1558.96L1400.00 1558.98L1400.25 1559.00L1400.50 1559.02L1400.75 1559.04L1401.00 1559.06L1401.25 1559.07L1401.50 1559.09L1401.75 1559.10L1402.00 1559.12L1402.25 1559.13L1402.50 1559.15L1402.75 1559.16L1403.00 1559.18L1403.25 1559.19L1403.50 1559.20L1403.75 1559.22L1404.00 1559.23L1404.25 1559.24L1404.50 1559.25L1404.75 1559.26L1405.00 1559.28L1405.25 1559.29L1405.50 1559.30L1405.75 1559.31L1406.00 1559.32L1406.25 1559.33L1406.50 1559.34L1406.75 1559.35L1407.00 1559.36L1407.25 1559.36L1407.50 1559.37L1407.75 1559.38L1408.00 1559.39L1408.25 1559.40L1408.50 1559.41L1408.75 1559.41L1409.00 1559.42L1409.25 1559.43L1409.50 1559.44L1409.75 1559.44L1410.00 1559.45L1410.25 1559.46L1410.50 1559.46L1410.75 1559.47L1411.00 1559.48L1411.25 1559.48L1411.50 1559.49L1411.75 1559.50L1412.00 1559.50L1412.25 1559.51L1412.50 1559.51L1412.75 1559.52L1413.00 1559.52L1413.25 1559.53L1413.50 1559.53L1413.75 1559.54L1414.00 1559.54L1414.25 1559.55L1414.50 1559.55L1414.75 1559.56L1415.00 1559.56L1415.25 1559.57L1415.50 1559.57L1415.75 1559.58L1416.00 1559.58L1416.25 1559.59L1416.50 1559.59L1416.75 1559.59L1417.00 1559.60L1417.25 1559.60L1417.50 1559.61L1417.75 1559.61L1418.00 1559.61L1418.25 1559.62L1418.50 1559.62L1418.75 1559.62L1419.00 1559.63L1419.25 1559.63L1419.50 1559.63L1419.75 1559.64L1420.00 1559.64L1420.25 1559.64L1420.50 1559.65L1420.75 1559.65L1421.00 1559.65L1421.25 1559.66L1421.50 1559.66L1421.75 1559.66L1422.00 1559.66L1422.25 1559.67L1422.50 1559.67L1422.75 1559.67L1423.00 1559.68L1423.25 1559.68L1423.50 1559.68L1423.75 1559.68L1424.00 1559.69L1424.25 1559.69L1424.50 1559.69L1424.75 1559.69L1425.00 1559.70L1425.25 1559.70L1425.50 1559.70L1425.75 1559.70L1426.00 1559.70L1426.25 1559.71L1426.50 1559.71L1426.75 1559.71L1427.00 1559.71L1427.25 1559.71L1427.50 1559.72L1427.75 1559.72L1428.00 1559.72L1428.25 1559.72L1428.50 1559.72L1428.75 1559.73L1429.00 1559.73L1429.25 1559.73L1429.50 1559.73L1429.75 1559.73L1430.00 1559.73L1430.25 1559.74L1430.50 1559.74L1430.75 1559.74L1431.00 1559.74L1431.25 1559.74L1431.50 1559.74L1431.75 1559.75L1432.00 1559.75L1432.25 1559.75L1432.50 1559.75L1432.75 1559.75L1433.00 1559.75L1433.25 1559.75L1433.50 1559.76L1433.75 1559.76L1434.00 1559.76L1434.25 1559.76L1434.50 1559.76L1434.75 1559.76L1435.00 1559.76L1435.25 1559.76L1435.50 1559.77L1435.75 1559.77L1436.00 1559.77L1436.25 1559.77L1436.50 1559.77L1436.75 1559.77L1437.00 1559.77L1437.25 1559.77L1437.50 1559.77L1437.75 1559.78L1438.00 1559.78L1438.25 1559.78L1438.50 1559.78L1438.75 1559.78L1439.00 1559.78L1439.25 1559.78L1439.50 1559.78L1439.75 1559.78L1440.00 1559.78L1440.25 1559.79L1440.50 1559.79L1440.75 1559.79L1441.00 1559.79L1441.25 1559.79L1441.50 1559.79L1441.75 1559.79L1442.00 1559.79L1442.25 1559.79L1442.50 1559.79L1442.75 1559.79L1443.00 1559.79L1443.25 1559.79L1443.50 1559.80L1443.75 1559.80L1444.00 1559.80L1444.25 1559.80L1444.50 1559.80L1444.75 1559.80L1445.00 1559.80L1445.25 1559.80L1445.50 1559.80L1445.75 1559.80L1446.00 1559.80L1446.25 1559.80L1446.50 1559.80L1446.75 1559.80L1447.00 1559.80L1447.25 1559.80L1447.50 1559.80L1447.75 1559.81L1448.00 1559.81L1448.25 1559.81L1448.50 1559.81L1448.75 1559.81L1449.00 1559.81L1449.25 1559.81L1449.50 1559.81L1449.75 1559.81L1450.00 1559.81L1450.25 1559.81L1450.50 1559.81L1450.75 1559.81L1451.00 1559.81L1451.25 1559.81L1451.50 1559.81L1451.75 1559.81L1452.00 1559.81L1452.25 1559.81L1452.50 1559.81L1452.75 1559.81L1453.00 1559.81L1453.25 1559.81L1453.50 1559.81L1453.75 1559.81L1454.00 1559.81L1454.25 1559.81L1454.50 1559.81L1454.75 1559.81L1455.00 1559.81L1455.25 1559.81L1455.50 1559.81L1455.75 1559.81L1456.00 1559.81L1456.25 1559.81L1456.50 1559.81L1456.75 1559.81L1457.00 1559.81L1457.25 1559.81L1457.50 1559.81L1457.75 1559.81L1458.00 1559.81L1458.25 1559.81L1458.50 1559.81L1458.75 1559.81L1459.00 1559.81L1459.25 1559.81L1459.50 1559.81L1459.75 1559.81L1460.00 1559.81L1460.25 1559.81L1460.50 1559.81L1460.75 1559.81L1461.00 1559.81L1461.25 1559.81L1461.50 1559.81L1461.75 1559.81L1462.00 1559.81L1462.25 1559.81L1462.50 1559.81L1462.75 1559.81L1463.00 1559.81L1463.25 1559.81L1463.50 1559.81L1463.75 1559.81L1464.00 1559.81L1464.25 1559.81L1464.50 1559.81L1464.75 1559.80L1465.00 1559.80L1465.25 1559.80L1465.50 1559.80L1465.75 1559.80L1466.00 1559.80L1466.25 1559.80L1466.50 1559.80L1466.75 1559.80L1467.00 1559.80L1467.25 1559.80L1467.50 1559.80L1467.75 1559.80L1468.00 1559.79L1468.25 1559.79L1468.50 1559.79L1468.75 1559.79L1469.00 1559.79L1469.25 1559.79L1469.50 1559.79L1469.75 1559.79L1470.00 1559.79L1470.25 1559.78L1470.50 1559.78L1470.75 1559.78L1471.00 1559.78L1471.25 1559.78L1471.50 1559.78L1471.75 1559.78L1472.00 1559.77L1472.25 1559.77L1472.50 1559.77L1472.75 1559.77L1473.00 1559.77L1473.25 1559.77L1473.50 1559.76L1473.75 1559.76L1474.00 1559.76L1474.25 1559.76L1474.50 1559.75L1474.75 1559.75L1475.00 1559.75L1475.25 1559.75L1475.50 1559.75L1475.75 1559.74L1476.00 1559.74L1476.25 1559.74L1476.50 1559.73L1476.75 1559.73L1477.00 1559.73L1477.25 1559.72L1477.50 1559.72L1477.75 1559.72L1478.00 1559.71L1478.25 1559.71L1478.50 1559.71L1478.75 1559.70L1479.00 1559.70L1479.25 1559.69L1479.50 1559.69L1479.75 1559.68L1480.00 1559.68L1480.25 1559.67L1480.50 1559.67L1480.75 1559.66L1481.00 1559.66L1481.25 1559.65L1481.50 1559.64L1481.75 1559.64L1482.00 1559.63L1482.25 1559.62L1482.50 1559.61L1482.75 1559.61L1483.00 1559.60L1483.25 1559.59L1483.50 1559.58L1483.75 1559.57L1484.00 1559.56L1484.25 1559.55L1484.50 1559.54L1484.75 1559.52L1485.00 1559.51L1485.25 1559.50L1485.50 1559.49L1485.75 1559.47L1486.00 1559.45L1486.25 1559.44L1486.50 1559.42L1486.75 1559.40L1487.00 1559.38L1487.25 1559.36L1487.50 1559.34L1487.75 1559.32L1488.00 1559.29L1488.25 1559.26L1488.50 1559.24L1488.75 1559.20L1489.00 1559.17L1489.25 1559.14L1489.50 1559.10L1489.75 1559.06L1490.00 1559.01L1490.25 1558.96L1490.50 1558.91L1490.75 1558.86L1491.00 1558.79L1491.25 1558.73L1491.50 1558.65L1491.75 1558.57L1492.00 1558.49L1492.25 1558.39L1492.50 1558.28L1492.75 1558.16L1493.00 1558.03L1493.25 1557.88L1493.50 1557.72L1493.75 1557.54L1494.00 1557.33L1494.25 1557.10L1494.50 1556.84L1494.75 1556.54L1495.00 1556.20L1495.25 1555.81L1495.50 1555.37L1495.75 1554.87L1496.00 1554.29L1496.25 1553.63L1496.50 1552.89L1496.75 1552.05L1497.00 1551.12L1497.25 1550.10L1497.50 1549.04L1497.75 1547.97L1498.00 1546.96L1498.25 1546.12L1498.50 1545.52L1498.75 1545.26L1499.00 1545.38L1499.25 1545.84L1499.50 1546.60L1499.75 1547.55L1500.00 1548.60L1500.25 1549.68L1500.50 1550.71L1500.75 1551.68L1501.00 1552.55L1501.25 1553.33L1501.50 1554.02L1501.75 1554.63L1502.00 1555.16L1502.25 1555.63L1502.50 1556.03L1502.75 1556.39L1503.00 1556.70L1503.25 1556.98L1503.50 1557.22L1503.75 1557.43L1504.00 1557.62L1504.25 1557.79L1504.50 1557.95L1504.75 1558.08L1505.00 1558.20L1505.25 1558.31L1505.50 1558.41L1505.75 1558.50L1506.00 1558.59L1506.25 1558.66L1506.50 1558.73L1506.75 1558.79L1507.00 1558.85L1507.25 1558.90L1507.50 1558.95L1507.75 1558.99L1508.00 1559.03L1508.25 1559.07L1508.50 1559.11L1508.75 1559.14L1509.00 1559.17L1509.25 1559.19L1509.50 1559.22L1509.75 1559.24L1510.00 1559.27L1510.25 1559.29L1510.50 1559.31L1510.75 1559.33L1511.00 1559.34L1511.25 1559.36L1511.50 1559.37L1511.75 1559.39L1512.00 1559.40L1512.25 1559.41L1512.50 1559.42L1512.75 1559.43L1513.00 1559.44L1513.25 1559.45L1513.50 1559.46L1513.75 1559.47L1514.00 1559.47L1514.25 1559.48L1514.50 1559.49L1514.75 1559.49L1515.00 1559.50L1515.25 1559.50L1515.50 1559.51L1515.75 1559.51L1516.00 1559.51L1516.25 1559.52L1516.50 1559.52L1516.75 1559.52L1517.00 1559.52L1517.25 1559.52L1517.50 1559.52L1517.75 1559.52L1518.00 1559.52L1518.25 1559.52L1518.50 1559.52L1518.75 1559.52L1519.00 1559.52L1519.25 1559.52L1519.50 1559.52L1519.75 1559.52L1520.00 1559.51L1520.25 1559.51L1520.50 1559.51L1520.75 1559.50L1521.00 1559.50L1521.25 1559.49L1521.50 1559.49L1521.75 1559.48L1522.00 1559.48L1522.25 1559.47L1522.50 1559.46L1522.75 1559.45L1523.00 1559.45L1523.25 1559.44L1523.50 1559.43L1523.75 1559.42L1524.00 1559.41L1524.25 1559.40L1524.50 1559.38L1524.75 1559.37L1525.00 1559.36L1525.25 1559.34L1525.50 1559.32L1525.75 1559.31L1526.00 1559.29L1526.25 1559.27L1526.50 1559.25L1526.75 1559.22L1527.00 1559.20L1527.25 1559.17L1527.50 1559.15L1527.75 1559.12L1528.00 1559.09L1528.25 1559.05L1528.50 1559.01L1528.75 1558.97L1529.00 1558.93L1529.25 1558.88L1529.50 1558.83L1529.75 1558.78L1530.00 1558.72L1530.25 1558.65L1530.50 1558.58L1530.75 1558.51L1531.00 1558.42L1531.25 1558.33L1531.50 1558.23L1531.75 1558.11L1532.00 1557.99L1532.25 1557.85L1532.50 1557.70L1532.75 1557.52L1533.00 1557.33L1533.25 1557.12L1533.50 1556.87L1533.75 1556.60L1534.00 1556.29L1534.25 1555.93L1534.50 1555.53L1534.75 1555.07L1535.00 1554.54L1535.25 1553.94L1535.50 1553.26L1535.75 1552.48L1536.00 1551.59L1536.25 1550.60L1536.50 1549.51L1536.75 1548.34L1537.00 1547.13L1537.25 1545.94L1537.50 1544.86L1537.75 1544.01M1538.75 1544.31L1539.00 1545.27L1539.25 1546.41L1539.50 1547.62L1539.75 1548.82L1540.00 1549.96L1540.25 1551.01L1540.50 1551.96L1540.75 1552.80L1541.00 1553.55L1541.25 1554.20L1541.50 1554.77L1541.75 1555.27L1542.00 1555.70L1542.25 1556.09L1542.50 1556.42L1542.75 1556.72L1543.00 1556.98L1543.25 1557.21L1543.50 1557.42L1543.75 1557.60L1544.00 1557.77L1544.25 1557.92L1544.50 1558.05L1544.75 1558.17L1545.00 1558.28L1545.25 1558.38L1545.50 1558.47L1545.75 1558.55L1546.00 1558.63L1546.25 1558.70L1546.50 1558.76L1546.75 1558.82L1547.00 1558.87L1547.25 1558.92L1547.50 1558.97L1547.75 1559.01L1548.00 1559.05L1548.25 1559.09L1548.50 1559.12L1548.75 1559.15L1549.00 1559.18L1549.25 1559.21L1549.50 1559.24L1549.75 1559.26L1550.00 1559.28L1550.25 1559.30L1550.50 1559.32L1550.75 1559.34L1551.00 1559.36L1551.25 1559.38L1551.50 1559.39L1551.75 1559.41L1552.00 1559.42L1552.25 1559.44L1552.50 1559.45L1552.75 1559.46L1553.00 1559.47L1553.25 1559.48L1553.50 1559.49L1553.75 1559.50L1554.00 1559.51L1554.25 1559.52L1554.50 1559.53L1554.75 1559.54L1555.00 1559.55L1555.25 1559.55L1555.50 1559.56L1555.75 1559.57L1556.00 1559.57L1556.25 1559.58L1556.50 1559.58L1556.75 1559.59L1557.00 1559.59L1557.25 1559.60L1557.50 1559.60L1557.75 1559.61L1558.00 1559.61L1558.25 1559.62L1558.50 1559.62L1558.75 1559.62L1559.00 1559.63L1559.25 1559.63L1559.50 1559.63L1559.75 1559.64L1560.00 1559.64L1560.25 1559.64L1560.50 1559.64L1560.75 1559.65L1561.00 1559.65L1561.25 1559.65L1561.50 1559.65L1561.75 1559.65L1562.00 1559.66L1562.25 1559.66L1562.50 1559.66L1562.75 1559.66L1563.00 1559.66L1563.25 1559.66L1563.50 1559.66L1563.75 1559.66L1564.00 1559.66L1564.25 1559.66L1564.50 1559.67L1564.75 1559.67L1565.00 1559.67L1565.25 1559.67L1565.50 1559.67L1565.75 1559.67L1566.00 1559.67L1566.25 1559.67L1566.50 1559.67L1566.75 1559.67L1567.00 1559.67L1567.25 1559.66L1567.50 1559.66L1567.75 1559.66L1568.00 1559.66L1568.25 1559.66L1568.50 1559.66L1568.75 1559.66L1569.00 1559.66L1569.25 1559.66L1569.50 1559.66L1569.75 1559.66L1570.00 1559.65L1570.25 1559.65L1570.50 1559.65L1570.75 1559.65L1571.00 1559.65L1571.25 1559.65L1571.50 1559.64L1571.75 1559.64L1572.00 1559.64L1572.25 1559.64L1572.50 1559.64L1572.75 1559.63L1573.00 1559.63L1573.25 1559.63L1573.50 1559.63L1573.75 1559.62L1574.00 1559.62L1574.25 1559.62L1574.50 1559.62L1574.75 1559.61L1575.00 1559.61L1575.25 1559.61L1575.50 1559.60L1575.75 1559.60L1576.00 1559.59L1576.25 1559.59L1576.50 1559.59L1576.75 1559.58L1577.00 1559.58L1577.25 1559.57L1577.50 1559.57L1577.75 1559.57L1578.00 1559.56L1578.25 1559.56L1578.50 1559.55L1578.75 1559.55L1579.00 1559.54L1579.25 1559.54L1579.50 1559.53L1579.75 1559.52L1580.00 1559.52L1580.25 1559.51L1580.50 1559.50L1580.75 1559.50L1581.00 1559.49L1581.25 1559.48L1581.50 1559.48L1581.75 1559.47L1582.00 1559.46L1582.25 1559.45L1582.50 1559.45L1582.75 1559.44L1583.00 1559.43L1583.25 1559.42L1583.50 1559.41L1583.75 1559.40L1584.00 1559.39L1584.25 1559.38L1584.50 1559.37L1584.75 1559.36L1585.00 1559.35L1585.25 1559.34L1585.50 1559.32L1585.75 1559.31L1586.00 1559.30L1586.25 1559.28L1586.50 1559.27L1586.75 1559.26L1587.00 1559.24L1587.25 1559.23L1587.50 1559.21L1587.75 1559.19L1588.00 1559.18L1588.25 1559.16L1588.50 1559.14L1588.75 1559.12L1589.00 1559.10L1589.25 1559.08L1589.50 1559.06L1589.75 1559.04L1590.00 1559.01L1590.25 1558.99L1590.50 1558.96L1590.75 1558.94L1591.00 1558.91L1591.25 1558.88L1591.50 1558.85L1591.75 1558.82L1592.00 1558.78L1592.25 1558.75L1592.50 1558.71L1592.75 1558.68L1593.00 1558.64L1593.25 1558.60L1593.50 1558.55L1593.75 1558.51L1594.00 1558.46L1594.25 1558.41L1594.50 1558.35L1594.75 1558.30L1595.00 1558.24L1595.25 1558.18L1595.50 1558.11L1595.75 1558.04L1596.00 1557.97L1596.25 1557.89L1596.50 1557.81L1596.75 1557.72L1597.00 1557.63L1597.25 1557.53L1597.50 1557.42L1597.75 1557.31L1598.00 1557.19L1598.25 1557.06L1598.50 1556.92L1598.75 1556.77L1599.00 1556.61L1599.25 1556.44L1599.50 1556.25L1599.75 1556.05L1600.00 1555.83L1600.25 1555.60L1600.50 1555.34L1600.75 1555.06L1601.00 1554.76L1601.25 1554.43L1601.50 1554.06L1601.75 1553.66L1602.00 1553.22L1602.25 1552.74L1602.50 1552.20L1602.75 1551.60L1603.00 1550.93L1603.25 1550.18L1603.50 1549.34L1603.75 1548.40L1604.00 1547.34L1604.25 1546.14L1604.50 1544.77M1612.50 1544.77L1612.75 1546.14L1613.00 1547.34L1613.25 1548.41L1613.50 1549.35L1613.75 1550.19L1614.00 1550.93L1614.25 1551.60L1614.50 1552.20L1614.75 1552.74L1615.00 1553.23L1615.25 1553.67L1615.50 1554.07L1615.75 1554.44L1616.00 1554.77L1616.25 1555.07L1616.50 1555.35L1616.75 1555.61L1617.00 1555.84L1617.25 1556.06L1617.50 1556.26L1617.75 1556.45L1618.00 1556.62L1618.25 1556.78L1618.50 1556.93L1618.75 1557.07L1619.00 1557.20L1619.25 1557.32L1619.50 1557.43L1619.75 1557.54L1620.00 1557.64L1620.25 1557.73L1620.50 1557.82L1620.75 1557.90L1621.00 1557.98L1621.25 1558.05L1621.50 1558.12L1621.75 1558.19L1622.00 1558.25L1622.25 1558.31L1622.50 1558.37L1622.75 1558.42L1623.00 1558.47L1623.25 1558.52L1623.50 1558.57L1623.75 1558.61L1624.00 1558.65L1624.25 1558.69L1624.50 1558.73L1624.75 1558.77L1625.00 1558.80L1625.25 1558.84L1625.50 1558.87L1625.75 1558.90L1626.00 1558.93L1626.25 1558.96L1626.50 1558.98L1626.75 1559.01L1627.00 1559.03L1627.25 1559.06L1627.50 1559.08L1627.75 1559.10L1628.00 1559.12L1628.25 1559.14L1628.50 1559.16L1628.75 1559.18L1629.00 1559.20L1629.25 1559.22L1629.50 1559.23L1629.75 1559.25L1630.00 1559.27L1630.25 1559.28L1630.50 1559.30L1630.75 1559.31L1631.00 1559.33L1631.25 1559.34L1631.50 1559.35L1631.75 1559.36L1632.00 1559.38L1632.25 1559.39L1632.50 1559.40L1632.75 1559.41L1633.00 1559.42L1633.25 1559.43L1633.50 1559.44L1633.75 1559.45L1634.00 1559.46L1634.25 1559.47L1634.50 1559.48L1634.75 1559.49L1635.00 1559.50L1635.25 1559.50L1635.50 1559.51L1635.75 1559.52L1636.00 1559.53L1636.25 1559.54L1636.50 1559.54L1636.75 1559.55L1637.00 1559.56L1637.25 1559.56L1637.50 1559.57L1637.75 1559.58L1638.00 1559.58L1638.25 1559.59L1638.50 1559.59L1638.75 1559.60L1639.00 1559.60L1639.25 1559.61L1639.50 1559.62L1639.75 1559.62L1640.00 1559.63L1640.25 1559.63L1640.50 1559.63L1640.75 1559.64L1641.00 1559.64L1641.25 1559.65L1641.50 1559.65L1641.75 1559.66L1642.00 1559.66L1642.25 1559.67L1642.50 1559.67L1642.75 1559.67L1643.00 1559.68L1643.25 1559.68L1643.50 1559.68L1643.75 1559.69L1644.00 1559.69L1644.25 1559.69L1644.50 1559.70L1644.75 1559.70L1645.00 1559.70L1645.25 1559.71L1645.50 1559.71L1645.75 1559.71L1646.00 1559.72L1646.25 1559.72L1646.50 1559.72L1646.75 1559.72L1647.00 1559.73L1647.25 1559.73L1647.50 1559.73L1647.75 1559.74L1648.00 1559.74L1648.25 1559.74L1648.50 1559.74L1648.75 1559.74L1649.00 1559.75L1649.25 1559.75L1649.50 1559.75L1649.75 1559.75L1650.00 1559.76L1650.25 1559.76L1650.50 1559.76L1650.75 1559.76L1651.00 1559.76L1651.25 1559.77L1651.50 1559.77L1651.75 1559.77L1652.00 1559.77L1652.25 1559.77L1652.50 1559.77L1652.75 1559.78L1653.00 1559.78L1653.25 1559.78L1653.50 1559.78L1653.75 1559.78L1654.00 1559.78L1654.25 1559.78L1654.50 1559.79L1654.75 1559.79L1655.00 1559.79L1655.25 1559.79L1655.50 1559.79L1655.75 1559.79L1656.00 1559.79L1656.25 1559.80L1656.50 1559.80L1656.75 1559.80L1657.00 1559.80L1657.25 1559.80L1657.50 1559.80L1657.75 1559.80L1658.00 1559.80L1658.25 1559.80L1658.50 1559.81L1658.75 1559.81L1659.00 1559.81L1659.25 1559.81L1659.50 1559.81L1659.75 1559.81L1660.00 1559.81L1660.25 1559.81L1660.50 1559.81L1660.75 1559.81L1661.00 1559.81L1661.25 1559.82L1661.50 1559.82L1661.75 1559.82L1662.00 1559.82L1662.25 1559.82L1662.50 1559.82L1662.75 1559.82L1663.00 1559.82L1663.25 1559.82L1663.50 1559.82L1663.75 1559.82L1664.00 1559.82L1664.25 1559.82L1664.50 1559.82L1664.75 1559.82L1665.00 1559.82L1665.25 1559.82L1665.50 1559.83L1665.75 1559.83L1666.00 1559.83L1666.25 1559.83L1666.50 1559.83L1666.75 1559.83L1667.00 1559.83L1667.25 1559.83L1667.50 1559.83L1667.75 1559.83L1668.00 1559.83L1668.25 1559.83L1668.50 1559.83L1668.75 1559.83L1669.00 1559.83L1669.25 1559.83L1669.50 1559.83L1669.75 1559.83L1670.00 1559.83L1670.25 1559.83L1670.50 1559.83L1670.75 1559.83L1671.00 1559.83L1671.25 1559.83L1671.50 1559.83L1671.75 1559.83L1672.00 1559.83L1672.25 1559.83L1672.50 1559.83L1672.75 1559.83L1673.00 1559.83L1673.25 1559.83L1673.50 1559.83L1673.75 1559.83L1674.00 1559.83L1674.25 1559.83L1674.50 1559.83L1674.75 1559.83L1675.00 1559.83L1675.25 1559.82L1675.50 1559.82L1675.75 1559.82L1676.00 1559.82L1676.25 1559.82L1676.50 1559.82L1676.75 1559.82L1677.00 1559.82L1677.25 1559.82L1677.50 1559.82L1677.75 1559.82L1678.00 1559.82L1678.25 1559.82L1678.50 1559.82L1678.75 1559.81L1679.00 1559.81L1679.25 1559.81L1679.50 1559.81L1679.75 1559.81L1680.00 1559.81L1680.25 1559.81L1680.50 1559.81L1680.75 1559.80L1681.00 1559.80L1681.25 1559.80L1681.50 1559.80L1681.75 1559.80L1682.00 1559.80L1682.25 1559.79L1682.50 1559.79L1682.75 1559.79L1683.00 1559.79L1683.25 1559.79L1683.50 1559.78L1683.75 1559.78L1684.00 1559.78L1684.25 1559.78L1684.50 1559.77L1684.75 1559.77L1685.00 1559.77L1685.25 1559.76L1685.50 1559.76L1685.75 1559.76L1686.00 1559.75L1686.25 1559.75L1686.50 1559.75L1686.75 1559.74L1687.00 1559.74L1687.25 1559.73L1687.50 1559.73L1687.75 1559.72L1688.00 1559.72L1688.25 1559.71L1688.50 1559.71L1688.75 1559.70L1689.00 1559.69L1689.25 1559.69L1689.50 1559.68L1689.75 1559.67L1690.00 1559.66L1690.25 1559.65L1690.50 1559.65L1690.75 1559.64L1691.00 1559.63L1691.25 1559.62L1691.50 1559.60L1691.75 1559.59L1692.00 1559.58L1692.25 1559.57L1692.50 1559.55L1692.75 1559.54L1693.00 1559.52L1693.25 1559.50L1693.50 1559.48L1693.75 1559.46L1694.00 1559.44L1694.25 1559.42L1694.50 1559.39L1694.75 1559.36L1695.00 1559.33L1695.25 1559.30L1695.50 1559.27L1695.75 1559.23L1696.00 1559.19L1696.25 1559.14L1696.50 1559.09L1696.75 1559.03L1697.00 1558.97L1697.25 1558.91L1697.50 1558.83L1697.75 1558.75L1698.00 1558.66L1698.25 1558.55L1698.50 1558.44L1698.75 1558.31L1699.00 1558.16L1699.25 1558.00L1699.50 1557.81L1699.75 1557.59L1700.00 1557.35L1700.25 1557.07L1700.50 1556.75L1700.75 1556.39L1701.00 1555.97L1701.25 1555.50L1701.50 1554.97L1701.75 1554.39L1702.00 1553.75L1702.25 1553.09L1702.50 1552.44L1702.75 1551.84L1703.00 1551.34L1703.25 1551.01L1703.50 1550.90L1703.75 1551.01L1704.00 1551.34L1704.25 1551.83L1704.50 1552.44L1704.75 1553.09L1705.00 1553.75L1705.25 1554.38L1705.50 1554.97L1705.75 1555.50L1706.00 1555.97L1706.25 1556.38L1706.50 1556.75L1706.75 1557.07L1707.00 1557.35L1707.25 1557.59L1707.50 1557.81L1707.75 1557.99L1708.00 1558.16L1708.25 1558.31L1708.50 1558.43L1708.75 1558.55L1709.00 1558.65L1709.25 1558.74L1709.50 1558.83L1709.75 1558.90L1710.00 1558.97L1710.25 1559.03L1710.50 1559.08L1710.75 1559.13L1711.00 1559.18L1711.25 1559.22L1711.50 1559.26L1711.75 1559.29L1712.00 1559.33L1712.25 1559.36L1712.50 1559.38L1712.75 1559.41L1713.00 1559.43L1713.25 1559.45L1713.50 1559.47L1713.75 1559.49L1714.00 1559.51L1714.25 1559.53L1714.50 1559.54L1714.75 1559.56L1715.00 1559.57L1715.25 1559.58L1715.50 1559.59L1715.75 1559.60L1716.00 1559.61L1716.25 1559.62L1716.50 1559.63L1716.75 1559.64L1717.00 1559.65L1717.25 1559.66L1717.50 1559.67L1717.75 1559.67L1718.00 1559.68L1718.25 1559.69L1718.50 1559.69L1718.75 1559.70L1719.00 1559.70L1719.25 1559.71L1719.50 1559.71L1719.75 1559.72L1720.00 1559.72L1720.25 1559.72L1720.50 1559.73L1720.75 1559.73L1721.00 1559.73L1721.25 1559.74L1721.50 1559.74L1721.75 1559.74L1722.00 1559.75L1722.25 1559.75L1722.50 1559.75L1722.75 1559.75L1723.00 1559.75L1723.25 1559.76L1723.50 1559.76L1723.75 1559.76L1724.00 1559.76L1724.25 1559.76L1724.50 1559.76L1724.75 1559.77L1725.00 1559.77L1725.25 1559.77L1725.50 1559.77L1725.75 1559.77L1726.00 1559.77L1726.25 1559.77L1726.50 1559.77L1726.75 1559.77L1727.00 1559.77L1727.25 1559.77L1727.50 1559.77L1727.75 1559.77L1728.00 1559.77L1728.25 1559.77L1728.50 1559.77L1728.75 1559.77L1729.00 1559.77L1729.25 1559.77L1729.50 1559.77L1729.75 1559.77L1730.00 1559.77L1730.25 1559.77L1730.50 1559.77L1730.75 1559.77L1731.00 1559.77L1731.25 1559.77L1731.50 1559.77L1731.75 1559.77L1732.00 1559.76L1732.25 1559.76L1732.50 1559.76L1732.75 1559.76L1733.00 1559.76L1733.25 1559.76L1733.50 1559.76L1733.75 1559.75L1734.00 1559.75L1734.25 1559.75L1734.50 1559.75L1734.75 1559.74L1735.00 1559.74L1735.25 1559.74L1735.50 1559.74L1735.75 1559.73L1736.00 1559.73L1736.25 1559.73L1736.50 1559.72L1736.75 1559.72L1737.00 1559.72L1737.25 1559.71L1737.50 1559.71L1737.75 1559.70L1738.00 1559.70L1738.25 1559.69L1738.50 1559.69L1738.75 1559.68L1739.00 1559.68L1739.25 1559.67L1739.50 1559.67L1739.75 1559.66L1740.00 1559.65L1740.25 1559.64L1740.50 1559.64L1740.75 1559.63L1741.00 1559.62L1741.25 1559.61L1741.50 1559.60L1741.75 1559.59L1742.00 1559.58L1742.25 1559.57L1742.50 1559.55L1742.75 1559.54L1743.00 1559.53L1743.25 1559.51L1743.50 1559.50L1743.75 1559.48L1744.00 1559.46L1744.25 1559.44L1744.50 1559.42L1744.75 1559.40L1745.00 1559.37L1745.25 1559.35L1745.50 1559.32L1745.75 1559.29L1746.00 1559.25L1746.25 1559.22L1746.50 1559.18L1746.75 1559.14L1747.00 1559.09L1747.25 1559.04L1747.50 1558.98L1747.75 1558.92L1748.00 1558.85L1748.25 1558.77L1748.50 1558.69L1748.75 1558.59L1749.00 1558.49L1749.25 1558.37L1749.50 1558.23L1749.75 1558.08L1750.00 1557.91L1750.25 1557.72L1750.50 1557.50L1750.75 1557.25L1751.00 1556.96L1751.25 1556.63L1751.50 1556.26L1751.75 1555.83L1752.00 1555.35L1752.25 1554.81L1752.50 1554.21L1752.75 1553.57L1753.00 1552.91L1753.25 1552.26L1753.50 1551.67L1753.75 1551.20L1754.00 1550.91L1754.25 1550.84L1754.50 1551.00L1754.75 1551.37L1755.00 1551.89L1755.25 1552.51L1755.50 1553.16L1755.75 1553.82L1756.00 1554.44L1756.25 1555.01L1756.50 1555.53L1756.75 1555.99L1757.00 1556.39L1757.25 1556.75L1757.50 1557.06L1757.75 1557.33L1758.00 1557.56L1758.25 1557.77L1758.50 1557.95L1758.75 1558.12L1759.00 1558.26L1759.25 1558.38L1759.50 1558.49L1759.75 1558.59L1760.00 1558.68L1760.25 1558.76L1760.50 1558.83L1760.75 1558.90L1761.00 1558.96L1761.25 1559.01L1761.50 1559.06L1761.75 1559.10L1762.00 1559.14L1762.25 1559.17L1762.50 1559.21L1762.75 1559.24L1763.00 1559.27L1763.25 1559.29L1763.50 1559.31L1763.75 1559.34L1764.00 1559.36L1764.25 1559.37L1764.50 1559.39L1764.75 1559.41L1765.00 1559.42L1765.25 1559.43L1765.50 1559.45L1765.75 1559.46L1766.00 1559.47L1766.25 1559.48L1766.50 1559.49L1766.75 1559.49L1767.00 1559.50L1767.25 1559.51L1767.50 1559.52L1767.75 1559.52L1768.00 1559.53L1768.25 1559.53L1768.50 1559.54L1768.75 1559.54L1769.00 1559.54L1769.25 1559.55L1769.50 1559.55L1769.75 1559.55L1770.00 1559.55L1770.25 1559.56L1770.50 1559.56L1770.75 1559.56L1771.00 1559.56L1771.25 1559.56L1771.50 1559.56L1771.75 1559.56L1772.00 1559.56L1772.25 1559.56L1772.50 1559.56L1772.75 1559.56L1773.00 1559.56L1773.25 1559.55L1773.50 1559.55L1773.75 1559.55L1774.00 1559.55L1774.25 1559.55L1774.50 1559.54L1774.75 1559.54L1775.00 1559.54L1775.25 1559.53L1775.50 1559.53L1775.75 1559.53L1776.00 1559.52L1776.25 1559.52L1776.50 1559.51L1776.75 1559.51L1777.00 1559.50L1777.25 1559.50L1777.50 1559.49L1777.75 1559.49L1778.00 1559.48L1778.25 1559.47L1778.50 1559.47L1778.75 1559.46L1779.00 1559.45L1779.25 1559.44L1779.50 1559.44L1779.75 1559.43L1780.00 1559.42L1780.25 1559.41L1780.50 1559.40L1780.75 1559.39L1781.00 1559.38L1781.25 1559.37L1781.50 1559.36L1781.75 1559.35L1782.00 1559.33L1782.25 1559.32L1782.50 1559.31L1782.75 1559.29L1783.00 1559.28L1783.25 1559.26L1783.50 1559.25L1783.75 1559.23L1784.00 1559.21L1784.25 1559.19L1784.50 1559.18L1784.75 1559.16L1785.00 1559.13L1785.25 1559.11L1785.50 1559.09L1785.75 1559.07L1786.00 1559.04L1786.25 1559.02L1786.50 1558.99L1786.75 1558.96L1787.00 1558.93L1787.25 1558.90L1787.50 1558.87L1787.75 1558.83L1788.00 1558.79L1788.25 1558.76L1788.50 1558.71L1788.75 1558.67L1789.00 1558.63L1789.25 1558.58L1789.50 1558.53L1789.75 1558.47L1790.00 1558.42L1790.25 1558.36L1790.50 1558.29L1790.75 1558.22L1791.00 1558.15L1791.25 1558.07L1791.50 1557.99L1791.75 1557.90L1792.00 1557.81L1792.25 1557.71L1792.50 1557.60L1792.75 1557.48L1793.00 1557.36L1793.25 1557.22L1793.50 1557.08L1793.75 1556.92L1794.00 1556.75L1794.25 1556.56L1794.50 1556.36L1794.75 1556.14L1795.00 1555.89L1795.25 1555.63L1795.50 1555.34L1795.75 1555.02L1796.00 1554.66L1796.25 1554.27L1796.50 1553.84L1796.75 1553.35L1797.00 1552.81L1797.25 1552.21L1797.50 1551.52L1797.75 1550.76L1798.00 1549.89L1798.25 1548.90L1798.50 1547.78L1798.75 1546.50L1799.00 1545.04M1805.50 1544.40L1805.75 1545.94L1806.00 1547.29L1806.25 1548.47L1806.50 1549.51L1806.75 1550.43L1807.00 1551.23L1807.25 1551.95L1807.50 1552.58L1807.75 1553.15L1808.00 1553.66L1808.25 1554.11L1808.50 1554.52L1808.75 1554.89L1809.00 1555.22L1809.25 1555.52L1809.50 1555.80L1809.75 1556.05L1810.00 1556.28L1810.25 1556.49L1810.50 1556.68L1810.75 1556.86L1811.00 1557.02L1811.25 1557.18L1811.50 1557.32L1811.75 1557.44L1812.00 1557.57L1812.25 1557.68L1812.50 1557.78L1812.75 1557.88L1813.00 1557.97L1813.25 1558.06L1813.50 1558.14L1813.75 1558.21L1814.00 1558.28L1814.25 1558.35L1814.50 1558.41L1814.75 1558.47L1815.00 1558.52L1815.25 1558.58L1815.50 1558.63L1815.75 1558.67L1816.00 1558.72L1816.25 1558.76L1816.50 1558.80L1816.75 1558.84L1817.00 1558.87L1817.25 1558.91L1817.50 1558.94L1817.75 1558.97L1818.00 1559.00L1818.25 1559.03L1818.50 1559.06L1818.75 1559.08L1819.00 1559.11L1819.25 1559.13L1819.50 1559.15L1819.75 1559.18L1820.00 1559.20L1820.25 1559.22L1820.50 1559.24L1820.75 1559.25L1821.00 1559.27L1821.25 1559.29L1821.50 1559.30L1821.75 1559.32L1822.00 1559.34L1822.25 1559.35L1822.50 1559.36L1822.75 1559.38L1823.00 1559.39L1823.25 1559.40L1823.50 1559.42L1823.75 1559.43L1824.00 1559.44L1824.25 1559.45L1824.50 1559.46L1824.75 1559.47L1825.00 1559.48L1825.25 1559.49L1825.50 1559.50L1825.75 1559.51L1826.00 1559.52L1826.25 1559.53L1826.50 1559.53L1826.75 1559.54L1827.00 1559.55L1827.25 1559.56L1827.50 1559.56L1827.75 1559.57L1828.00 1559.58L1828.25 1559.58L1828.50 1559.59L1828.75 1559.60L1829.00 1559.60L1829.25 1559.61L1829.50 1559.61L1829.75 1559.62L1830.00 1559.62L1830.25 1559.63L1830.50 1559.63L1830.75 1559.64L1831.00 1559.64L1831.25 1559.65L1831.50 1559.65L1831.75 1559.66L1832.00 1559.66L1832.25 1559.67L1832.50 1559.67L1832.75 1559.67L1833.00 1559.68L1833.25 1559.68L1833.50 1559.69L1833.75 1559.69L1834.00 1559.69L1834.25 1559.70L1834.50 1559.70L1834.75 1559.70L1835.00 1559.71L1835.25 1559.71L1835.50 1559.71L1835.75 1559.71L1836.00 1559.72L1836.25 1559.72L1836.50 1559.72L1836.75 1559.73L1837.00 1559.73L1837.25 1559.73L1837.50 1559.73L1837.75 1559.74L1838.00 1559.74L1838.25 1559.74L1838.50 1559.74L1838.75 1559.74L1839.00 1559.75L1839.25 1559.75L1839.50 1559.75L1839.75 1559.75L1840.00 1559.75L1840.25 1559.76L1840.50 1559.76L1840.75 1559.76L1841.00 1559.76L1841.25 1559.76L1841.50 1559.76L1841.75 1559.77L1842.00 1559.77L1842.25 1559.77L1842.50 1559.77L1842.75 1559.77L1843.00 1559.77L1843.25 1559.78L1843.50 1559.78L1843.75 1559.78L1844.00 1559.78L1844.25 1559.78L1844.50 1559.78L1844.75 1559.78L1845.00 1559.78L1845.25 1559.79L1845.50 1559.79L1845.75 1559.79L1846.00 1559.79L1846.25 1559.79L1846.50 1559.79L1846.75 1559.79L1847.00 1559.79L1847.25 1559.79L1847.50 1559.79L1847.75 1559.79L1848.00 1559.80L1848.25 1559.80L1848.50 1559.80L1848.75 1559.80L1849.00 1559.80L1849.25 1559.80L1849.50 1559.80L1849.75 1559.80L1850.00 1559.80L1850.25 1559.80L1850.50 1559.80L1850.75 1559.80L1851.00 1559.80L1851.25 1559.80L1851.50 1559.80L1851.75 1559.80L1852.00 1559.80L1852.25 1559.80L1852.50 1559.81L1852.75 1559.81L1853.00 1559.81L1853.25 1559.81L1853.50 1559.81L1853.75 1559.81L1854.00 1559.81L1854.25 1559.81L1854.50 1559.81L1854.75 1559.81L1855.00 1559.81L1855.25 1559.81L1855.50 1559.81L1855.75 1559.81L1856.00 1559.81L1856.25 1559.81L1856.50 1559.81L1856.75 1559.81L1857.00 1559.81L1857.25 1559.81L1857.50 1559.81L1857.75 1559.81L1858.00 1559.81L1858.25 1559.81L1858.50 1559.81L1858.75 1559.81L1859.00 1559.81L1859.25 1559.81L1859.50 1559.81L1859.75 1559.81L1860.00 1559.81L1860.25 1559.81L1860.50 1559.81L1860.75 1559.81L1861.00 1559.81L1861.25 1559.81L1861.50 1559.81L1861.75 1559.80L1862.00 1559.80L1862.25 1559.80L1862.50 1559.80L1862.75 1559.80L1863.00 1559.80L1863.25 1559.80L1863.50 1559.80L1863.75 1559.80L1864.00 1559.80L1864.25 1559.80L1864.50 1559.80L1864.75 1559.80L1865.00 1559.80L1865.25 1559.80L1865.50 1559.80L1865.75 1559.80L1866.00 1559.80L1866.25 1559.79L1866.50 1559.79L1866.75 1559.79L1867.00 1559.79L1867.25 1559.79L1867.50 1559.79L1867.75 1559.79L1868.00 1559.79L1868.25 1559.79L1868.50 1559.79L1868.75 1559.79L1869.00 1559.78L1869.25 1559.78L1869.50 1559.78L1869.75 1559.78L1870.00 1559.78L1870.25 1559.78L1870.50 1559.78L1870.75 1559.78L1871.00 1559.77L1871.25 1559.77L1871.50 1559.77L1871.75 1559.77L1872.00 1559.77L1872.25 1559.77L1872.50 1559.77L1872.75 1559.76L1873.00 1559.76L1873.25 1559.76L1873.50 1559.76L1873.75 1559.76L1874.00 1559.76L1874.25 1559.75L1874.50 1559.75L1874.75 1559.75L1875.00 1559.75L1875.25 1559.75L1875.50 1559.74L1875.75 1559.74L1876.00 1559.74L1876.25 1559.74L1876.50 1559.74L1876.75 1559.73L1877.00 1559.73L1877.25 1559.73L1877.50 1559.73L1877.75 1559.72L1878.00 1559.72L1878.25 1559.72L1878.50 1559.72L1878.75 1559.71L1879.00 1559.71L1879.25 1559.71L1879.50 1559.71L1879.75 1559.70L1880.00 1559.70L1880.25 1559.70L1880.50 1559.69L1880.75 1559.69L1881.00 1559.69L1881.25 1559.68L1881.50 1559.68L1881.75 1559.68L1882.00 1559.67L1882.25 1559.67L1882.50 1559.67L1882.75 1559.66L1883.00 1559.66L1883.25 1559.65L1883.50 1559.65L1883.75 1559.64L1884.00 1559.64L1884.25 1559.64L1884.50 1559.63L1884.75 1559.63L1885.00 1559.62L1885.25 1559.62L1885.50 1559.61L1885.75 1559.61L1886.00 1559.60L1886.25 1559.60L1886.50 1559.59L1886.75 1559.58L1887.00 1559.58L1887.25 1559.57L1887.50 1559.56L1887.75 1559.56L1888.00 1559.55L1888.25 1559.54L1888.50 1559.54L1888.75 1559.53L1889.00 1559.52L1889.25 1559.51L1889.50 1559.51L1889.75 1559.50L1890.00 1559.49L1890.25 1559.48L1890.50 1559.47L1890.75 1559.46L1891.00 1559.45L1891.25 1559.44L1891.50 1559.43L1891.75 1559.42L1892.00 1559.41L1892.25 1559.40L1892.50 1559.39L1892.75 1559.38L1893.00 1559.36L1893.25 1559.35L1893.50 1559.34L1893.75 1559.33L1894.00 1559.31L1894.25 1559.30L1894.50 1559.28L1894.75 1559.27L1895.00 1559.25L1895.25 1559.23L1895.50 1559.22L1895.75 1559.20L1896.00 1559.18L1896.25 1559.16L1896.50 1559.14L1896.75 1559.12L1897.00 1559.10L1897.25 1559.07L1897.50 1559.05L1897.75 1559.02L1898.00 1559.00L1898.25 1558.97L1898.50 1558.94L1898.75 1558.91L1899.00 1558.88L1899.25 1558.85L1899.50 1558.82L1899.75 1558.78L1900.00 1558.75L1900.25 1558.71L1900.50 1558.67L1900.75 1558.63L1901.00 1558.58L1901.25 1558.54L1901.50 1558.49L1901.75 1558.44L1902.00 1558.38L1902.25 1558.33L1902.50 1558.27L1902.75 1558.20L1903.00 1558.14L1903.25 1558.06L1903.50 1557.99L1903.75 1557.91L1904.00 1557.83L1904.25 1557.74L1904.50 1557.64L1904.75 1557.54L1905.00 1557.43L1905.25 1557.31L1905.50 1557.19L1905.75 1557.06L1906.00 1556.91L1906.25 1556.76L1906.50 1556.60L1906.75 1556.42L1907.00 1556.23L1907.25 1556.02L1907.50 1555.80L1907.75 1555.55L1908.00 1555.29L1908.25 1555.00L1908.50 1554.68L1908.75 1554.33L1909.00 1553.95L1909.25 1553.53L1909.50 1553.07L1909.75 1552.55L1910.00 1551.98L1910.25 1551.35L1910.50 1550.64L1910.75 1549.85L1911.00 1548.95L1911.25 1547.94L1911.50 1546.81L1911.75 1545.51L1912.00 1544.04M1919.75 1544.95L1920.00 1546.31L1920.25 1547.51L1920.50 1548.57L1920.75 1549.50L1921.00 1550.34L1921.25 1551.08L1921.50 1551.74L1921.75 1552.34L1922.00 1552.87L1922.25 1553.35L1922.50 1553.79L1922.75 1554.19L1923.00 1554.55L1923.25 1554.88L1923.50 1555.18L1923.75 1555.45L1924.00 1555.70L1924.25 1555.94L1924.50 1556.15L1924.75 1556.35L1925.00 1556.53L1925.25 1556.70L1925.50 1556.86L1925.75 1557.01L1926.00 1557.14L1926.25 1557.27L1926.50 1557.39L1926.75 1557.50L1927.00 1557.61L1927.25 1557.71L1927.50 1557.80L1927.75 1557.88L1928.00 1557.97L1928.25 1558.04L1928.50 1558.12L1928.75 1558.18L1929.00 1558.25L1929.25 1558.31L1929.50 1558.37L1929.75 1558.42L1930.00 1558.48L1930.25 1558.53L1930.50 1558.57L1930.75 1558.62L1931.00 1558.66L1931.25 1558.70L1931.50 1558.74L1931.75 1558.78L1932.00 1558.82L1932.25 1558.85L1932.50 1558.88L1932.75 1558.91L1933.00 1558.94L1933.25 1558.97L1933.50 1559.00L1933.75 1559.03L1934.00 1559.05L1934.25 1559.07L1934.50 1559.10L1934.75 1559.12L1935.00 1559.14L1935.25 1559.16L1935.50 1559.18L1935.75 1559.20L1936.00 1559.22L1936.25 1559.24L1936.50 1559.26L1936.75 1559.27L1937.00 1559.29L1937.25 1559.30L1937.50 1559.32L1937.75 1559.33L1938.00 1559.35L1938.25 1559.36L1938.50 1559.37L1938.75 1559.39L1939.00 1559.40L1939.25 1559.41L1939.50 1559.42L1939.75 1559.43L1940.00 1559.44L1940.25 1559.46L1940.50 1559.47L1940.75 1559.48L1941.00 1559.48L1941.25 1559.49L1941.50 1559.50L1941.75 1559.51L1942.00 1559.52L1942.25 1559.53L1942.50 1559.54L1942.75 1559.54L1943.00 1559.55L1943.25 1559.56L1943.50 1559.57L1943.75 1559.57L1944.00 1559.58L1944.25 1559.59L1944.50 1559.59L1944.75 1559.60L1945.00 1559.61L1945.25 1559.61L1945.50 1559.62L1945.75 1559.62L1946.00 1559.63L1946.25 1559.64L1946.50 1559.64L1946.75 1559.65L1947.00 1559.65L1947.25 1559.66L1947.50 1559.66L1947.75 1559.67L1948.00 1559.67L1948.25 1559.67L1948.50 1559.68L1948.75 1559.68L1949.00 1559.69L1949.25 1559.69L1949.50 1559.70L1949.75 1559.70L1950.00 1559.70L1950.25 1559.71L1950.50 1559.71L1950.75 1559.71L1951.00 1559.72L1951.25 1559.72L1951.50 1559.72L1951.75 1559.73L1952.00 1559.73L1952.25 1559.73L1952.50 1559.74L1952.75 1559.74L1953.00 1559.74L1953.25 1559.75L1953.50 1559.75L1953.75 1559.75L1954.00 1559.75L1954.25 1559.76L1954.50 1559.76L1954.75 1559.76L1955.00 1559.77L1955.25 1559.77L1955.50 1559.77L1955.75 1559.77L1956.00 1559.78L1956.25 1559.78L1956.50 1559.78L1956.75 1559.78L1957.00 1559.78L1957.25 1559.79L1957.50 1559.79L1957.75 1559.79L1958.00 1559.79L1958.25 1559.79L1958.50 1559.80L1958.75 1559.80L1959.00 1559.80L1959.25 1559.80L1959.50 1559.80L1959.75 1559.81L1960.00 1559.81L1960.25 1559.81L1960.50 1559.81L1960.75 1559.81L1961.00 1559.81L1961.25 1559.82L1961.50 1559.82L1961.75 1559.82L1962.00 1559.82L1962.25 1559.82L1962.50 1559.82L1962.75 1559.82L1963.00 1559.83L1963.25 1559.83L1963.50 1559.83L1963.75 1559.83L1964.00 1559.83L1964.25 1559.83L1964.50 1559.83L1964.75 1559.84L1965.00 1559.84L1965.25 1559.84L1965.50 1559.84L1965.75 1559.84L1966.00 1559.84L1966.25 1559.84L1966.50 1559.84L1966.75 1559.85L1967.00 1559.85L1967.25 1559.85L1967.50 1559.85L1967.75 1559.85L1968.00 1559.85L1968.25 1559.85L1968.50 1559.85L1968.75 1559.85L1969.00 1559.85L1969.25 1559.86L1969.50 1559.86L1969.75 1559.86L1970.00 1559.86L1970.25 1559.86L1970.50 1559.86L1970.75 1559.86L1971.00 1559.86L1971.25 1559.86L1971.50 1559.86L1971.75 1559.86L1972.00 1559.87L1972.25 1559.87L1972.50 1559.87L1972.75 1559.87L1973.00 1559.87L1973.25 1559.87L1973.50 1559.87L1973.75 1559.87L1974.00 1559.87L1974.25 1559.87L1974.50 1559.87L1974.75 1559.87L1975.00 1559.87L1975.25 1559.87L1975.50 1559.88L1975.75 1559.88L1976.00 1559.88L1976.25 1559.88L1976.50 1559.88L1976.75 1559.88L1977.00 1559.88L1977.25 1559.88L1977.50 1559.88L1977.75 1559.88L1978.00 1559.88L1978.25 1559.88L1978.50 1559.88L1978.75 1559.88L1979.00 1559.88L1979.25 1559.88L1979.50 1559.88L1979.75 1559.89L1980.00 1559.89L1980.25 1559.89L1980.50 1559.89L1980.75 1559.89L1981.00 1559.89L1981.25 1559.89L1981.50 1559.89L1981.75 1559.89L1982.00 1559.89L1982.25 1559.89L1982.50 1559.89L1982.75 1559.89L1983.00 1559.89L1983.25 1559.89L1983.50 1559.89L1983.75 1559.89L1984.00 1559.89L1984.25 1559.89L1984.50 1559.89L1984.75 1559.89L1985.00 1559.89L1985.25 1559.89L1985.50 1559.89L1985.75 1559.89L1986.00 1559.90L1986.25 1559.90L1986.50 1559.90L1986.75 1559.90L1987.00 1559.90L1987.25 1559.90L1987.50 1559.90L1987.75 1559.90L1988.00 1559.90L1988.25 1559.90L1988.50 1559.90L1988.75 1559.90L1989.00 1559.90L1989.25 1559.90L1989.50 1559.90L1989.75 1559.90L1990.00 1559.90L1990.25 1559.90L1990.50 1559.90L1990.75 1559.90L1991.00 1559.90L1991.25 1559.90L1991.50 1559.90L1991.75 1559.90L1992.00 1559.90L1992.25 1559.90L1992.50 1559.90L1992.75 1559.90L1993.00 1559.90L1993.25 1559.90L1993.50 1559.90L1993.75 1559.90L1994.00 1559.90L1994.25 1559.90L1994.50 1559.90L1994.75 1559.90L1995.00 1559.90L1995.25 1559.90L1995.50 1559.90L1995.75 1559.90L1996.00 1559.90L1996.25 1559.90L1996.50 1559.90L1996.75 1559.90L1997.00 1559.90L1997.25 1559.90L1997.50 1559.90L1997.75 1559.90L1998.00 1559.90L1998.25 1559.90L1998.50 1559.90L1998.75 1559.90L1999.00 1559.90L1999.25 1559.90L1999.50 1559.90L1999.75 1559.90L2000.00 1559.90L2000.25 1559.90L2000.50 1559.90L2000.75 1559.90L2001.00 1559.90L2001.25 1559.90L2001.50 1559.90L2001.75 1559.90L2002.00 1559.90L2002.25 1559.90L2002.50 1559.90L2002.75 1559.90L2003.00 1559.90L2003.25 1559.90L2003.50 1559.90L2003.75 1559.90L2004.00 1559.90L2004.25 1559.90L2004.50 1559.90L2004.75 1559.90L2005.00 1559.90L2005.25 1559.90L2005.50 1559.90L2005.75 1559.90L2006.00 1559.90L2006.25 1559.90L2006.50 1559.90L2006.75 1559.90L2007.00 1559.90L2007.25 1559.90L2007.50 1559.90L2007.75 1559.90L2008.00 1559.90L2008.25 1559.90L2008.50 1559.90L2008.75 1559.90L2009.00 1559.90L2009.25 1559.90L2009.50 1559.90L2009.75 1559.90L2010.00 1559.90L2010.25 1559.90L2010.50 1559.90L2010.75 1559.90L2011.00 1559.90L2011.25 1559.90L2011.50 1559.90L2011.75 1559.90L2012.00 1559.90L2012.25 1559.90L2012.50 1559.89L2012.75 1559.89L2013.00 1559.89L2013.25 1559.89L2013.50 1559.89L2013.75 1559.89L2014.00 1559.89L2014.25 1559.89L2014.50 1559.89L2014.75 1559.89L2015.00 1559.89L2015.25 1559.89L2015.50 1559.89L2015.75 1559.89L2016.00 1559.89L2016.25 1559.89L2016.50 1559.89L2016.75 1559.89L2017.00 1559.89L2017.25 1559.88L2017.50 1559.88L2017.75 1559.88L2018.00 1559.88L2018.25 1559.88L2018.50 1559.88L2018.75 1559.88L2019.00 1559.88L2019.25 1559.88L2019.50 1559.88L2019.75 1559.88L2020.00 1559.88L2020.25 1559.88L2020.50 1559.87L2020.75 1559.87L2021.00 1559.87L2021.25 1559.87L2021.50 1559.87L2021.75 1559.87L2022.00 1559.87L2022.25 1559.87L2022.50 1559.87L2022.75 1559.86L2023.00 1559.86L2023.25 1559.86L2023.50 1559.86L2023.75 1559.86L2024.00 1559.86L2024.25 1559.86L2024.50 1559.86L2024.75 1559.85L2025.00 1559.85L2025.25 1559.85L2025.50 1559.85L2025.75 1559.85L2026.00 1559.85L2026.25 1559.84L2026.50 1559.84L2026.75 1559.84L2027.00 1559.84L2027.25 1559.84L2027.50 1559.83L2027.75 1559.83L2028.00 1559.83L2028.25 1559.83L2028.50 1559.83L2028.75 1559.82L2029.00 1559.82L2029.25 1559.82L2029.50 1559.81L2029.75 1559.81L2030.00 1559.81L2030.25 1559.81L2030.50 1559.80L2030.75 1559.80L2031.00 1559.80L2031.25 1559.79L2031.50 1559.79L2031.75 1559.79L2032.00 1559.78L2032.25 1559.78L2032.50 1559.78L2032.75 1559.77L2033.00 1559.77L2033.25 1559.76L2033.50 1559.76L2033.75 1559.75L2034.00 1559.75L2034.25 1559.74L2034.50 1559.74L2034.75 1559.73L2035.00 1559.73L2035.25 1559.72L2035.50 1559.71L2035.75 1559.71L2036.00 1559.70L2036.25 1559.69L2036.50 1559.68L2036.75 1559.68L2037.00 1559.67L2037.25 1559.66L2037.50 1559.65L2037.75 1559.64L2038.00 1559.63L2038.25 1559.62L2038.50 1559.61L2038.75 1559.60L2039.00 1559.59L2039.25 1559.57L2039.50 1559.56L2039.75 1559.54L2040.00 1559.53L2040.25 1559.51L2040.50 1559.50L2040.75 1559.48L2041.00 1559.46L2041.25 1559.44L2041.50 1559.42L2041.75 1559.39L2042.00 1559.37L2042.25 1559.34L2042.50 1559.32L2042.75 1559.29L2043.00 1559.25L2043.25 1559.22L2043.50 1559.18L2043.75 1559.14L2044.00 1559.10L2044.25 1559.05L2044.50 1559.00L2044.75 1558.95L2045.00 1558.89L2045.25 1558.83L2045.50 1558.75L2045.75 1558.68L2046.00 1558.59L2046.25 1558.50L2046.50 1558.40L2046.75 1558.28L2047.00 1558.16L2047.25 1558.02L2047.50 1557.86L2047.75 1557.69L2048.00 1557.49L2048.25 1557.27L2048.50 1557.02L2048.75 1556.74L2049.00 1556.41L2049.25 1556.05L2049.50 1555.63L2049.75 1555.15L2050.00 1554.60L2050.25 1553.98L2050.50 1553.27L2050.75 1552.47L2051.00 1551.57L2051.25 1550.59L2051.50 1549.55L2051.75 1548.47L2052.00 1547.43L2052.25 1546.51L2052.50 1545.80L2052.75 1545.40L2053.00 1545.37L2053.25 1545.70L2053.50 1546.35L2053.75 1547.23L2054.00 1548.25L2054.25 1549.33L2054.50 1550.39L2054.75 1551.38L2055.00 1552.29L2055.25 1553.11L2055.50 1553.84L2055.75 1554.48L2056.00 1555.04L2056.25 1555.53L2056.50 1555.96L2056.75 1556.34L2057.00 1556.67L2057.25 1556.96L2057.50 1557.21L2057.75 1557.44L2058.00 1557.64L2058.25 1557.82L2058.50 1557.98L2058.75 1558.12L2059.00 1558.25L2059.25 1558.36L2059.50 1558.47L2059.75 1558.56L2060.00 1558.65L2060.25 1558.73L2060.50 1558.80L2060.75 1558.86L2061.00 1558.92L2061.25 1558.98L2061.50 1559.03L2061.75 1559.08L2062.00 1559.12L2062.25 1559.16L2062.50 1559.20L2062.75 1559.23L2063.00 1559.26L2063.25 1559.29L2063.50 1559.32L2063.75 1559.35L2064.00 1559.37L2064.25 1559.39L2064.50 1559.41L2064.75 1559.43L2065.00 1559.45L2065.25 1559.47L2065.50 1559.49L2065.75 1559.50L2066.00 1559.52L2066.25 1559.53L2066.50 1559.54L2066.75 1559.56L2067.00 1559.57L2067.25 1559.58L2067.50 1559.59L2067.75 1559.60L2068.00 1559.61L2068.25 1559.62L2068.50 1559.63L2068.75 1559.63L2069.00 1559.64L2069.25 1559.65L2069.50 1559.66L2069.75 1559.66L2070.00 1559.67L2070.25 1559.68L2070.50 1559.68L2070.75 1559.69L2071.00 1559.69L2071.25 1559.70L2071.50 1559.70L2071.75 1559.71L2072.00 1559.71L2072.25 1559.71L2072.50 1559.72L2072.75 1559.72L2073.00 1559.72L2073.25 1559.73L2073.50 1559.73L2073.75 1559.73L2074.00 1559.74L2074.25 1559.74L2074.50 1559.74L2074.75 1559.74L2075.00 1559.74L2075.25 1559.75L2075.50 1559.75L2075.75 1559.75L2076.00 1559.75L2076.25 1559.75L2076.50 1559.75L2076.75 1559.75L2077.00 1559.76L2077.25 1559.76L2077.50 1559.76L2077.75 1559.76L2078.00 1559.76L2078.25 1559.76L2078.50 1559.76L2078.75 1559.76L2079.00 1559.76L2079.25 1559.76L2079.50 1559.76L2079.75 1559.76L2080.00 1559.76L2080.25 1559.76L2080.50 1559.76L2080.75 1559.76L2081.00 1559.76L2081.25 1559.76L2081.50 1559.75L2081.75 1559.75L2082.00 1559.75L2082.25 1559.75L2082.50 1559.75L2082.75 1559.75L2083.00 1559.74L2083.25 1559.74L2083.50 1559.74L2083.75 1559.74L2084.00 1559.74L2084.25 1559.73L2084.50 1559.73L2084.75 1559.73L2085.00 1559.72L2085.25 1559.72L2085.50 1559.72L2085.75 1559.71L2086.00 1559.71L2086.25 1559.70L2086.50 1559.70L2086.75 1559.70L2087.00 1559.69L2087.25 1559.69L2087.50 1559.68L2087.75 1559.67L2088.00 1559.67L2088.25 1559.66L2088.50 1559.65L2088.75 1559.65L2089.00 1559.64L2089.25 1559.63L2089.50 1559.62L2089.75 1559.61L2090.00 1559.60L2090.25 1559.59L2090.50 1559.58L2090.75 1559.57L2091.00 1559.56L2091.25 1559.54L2091.50 1559.53L2091.75 1559.52L2092.00 1559.50L2092.25 1559.48L2092.50 1559.46L2092.75 1559.45L2093.00 1559.42L2093.25 1559.40L2093.50 1559.38L2093.75 1559.35L2094.00 1559.33L2094.25 1559.30L2094.50 1559.27L2094.75 1559.23L2095.00 1559.19L2095.25 1559.15L2095.50 1559.11L2095.75 1559.06L2096.00 1559.01L2096.25 1558.95L2096.50 1558.89L2096.75 1558.82L2097.00 1558.75L2097.25 1558.66L2097.50 1558.57L2097.75 1558.47L2098.00 1558.36L2098.25 1558.23L2098.50 1558.09L2098.75 1557.93L2099.00 1557.75L2099.25 1557.55L2099.50 1557.32L2099.75 1557.05L2100.00 1556.76L2100.25 1556.41L2100.50 1556.02L2100.75 1555.58L2101.00 1555.07L2101.25 1554.49L2101.50 1553.84L2101.75 1553.11L2102.00 1552.32L2102.25 1551.48L2102.50 1550.63L2102.75 1549.82L2103.00 1549.11L2103.25 1548.60L2103.50 1548.33L2103.75 1548.36L2104.00 1548.68L2104.25 1549.24L2104.50 1549.97L2104.75 1550.80L2105.00 1551.65L2105.25 1552.48L2105.50 1553.26L2105.75 1553.97L2106.00 1554.61L2106.25 1555.17L2106.50 1555.67L2106.75 1556.10L2107.00 1556.48L2107.25 1556.82L2107.50 1557.11L2107.75 1557.36L2108.00 1557.59L2108.25 1557.78L2108.50 1557.96L2108.75 1558.11L2109.00 1558.25L2109.25 1558.38L2109.50 1558.49L2109.75 1558.59L2110.00 1558.68L2110.25 1558.76L2110.50 1558.83L2110.75 1558.90L2111.00 1558.96L2111.25 1559.02L2111.50 1559.07L2111.75 1559.11L2112.00 1559.16L2112.25 1559.19L2112.50 1559.23L2112.75 1559.26L2113.00 1559.30L2113.25 1559.32L2113.50 1559.35L2113.75 1559.38L2114.00 1559.40L2114.25 1559.42L2114.50 1559.44L2114.75 1559.46L2115.00 1559.48L2115.25 1559.49L2115.50 1559.51L2115.75 1559.52L2116.00 1559.54L2116.25 1559.55L2116.50 1559.56L2116.75 1559.57L2117.00 1559.58L2117.25 1559.59L2117.50 1559.60L2117.75 1559.61L2118.00 1559.62L2118.25 1559.62L2118.50 1559.63L2118.75 1559.64L2119.00 1559.64L2119.25 1559.65L2119.50 1559.66L2119.75 1559.66L2120.00 1559.67L2120.25 1559.67L2120.50 1559.68L2120.75 1559.68L2121.00 1559.68L2121.25 1559.69L2121.50 1559.69L2121.75 1559.69L2122.00 1559.69L2122.25 1559.70L2122.50 1559.70L2122.75 1559.70L2123.00 1559.70L2123.25 1559.70L2123.50 1559.71L2123.75 1559.71L2124.00 1559.71L2124.25 1559.71L2124.50 1559.71L2124.75 1559.71L2125.00 1559.71L2125.25 1559.71L2125.50 1559.71L2125.75 1559.71L2126.00 1559.70L2126.25 1559.70L2126.50 1559.70L2126.75 1559.70L2127.00 1559.70L2127.25 1559.70L2127.50 1559.69L2127.75 1559.69L2128.00 1559.69L2128.25 1559.68L2128.50 1559.68L2128.75 1559.67L2129.00 1559.67L2129.25 1559.66L2129.50 1559.66L2129.75 1559.65L2130.00 1559.64L2130.25 1559.64L2130.50 1559.63L2130.75 1559.62L2131.00 1559.61L2131.25 1559.60L2131.50 1559.59L2131.75 1559.58L2132.00 1559.56L2132.25 1559.55L2132.50 1559.53L2132.75 1559.52L2133.00 1559.50L2133.25 1559.48L2133.50 1559.46L2133.75 1559.43L2134.00 1559.41L2134.25 1559.38L2134.50 1559.35L2134.75 1559.31L2135.00 1559.27L2135.25 1559.23L2135.50 1559.18L2135.75 1559.13L2136.00 1559.07L2136.25 1559.00L2136.50 1558.92L2136.75 1558.83L2137.00 1558.74L2137.25 1558.63L2137.50 1558.50L2137.75 1558.35L2138.00 1558.19L2138.25 1558.00L2138.50 1557.78L2138.75 1557.54L2139.00 1557.26L2139.25 1556.95L2139.50 1556.60L2139.75 1556.23L2140.00 1555.85L2140.25 1555.47L2140.50 1555.13L2140.75 1554.87L2141.00 1554.70L2141.25 1554.66L2141.50 1554.75L2141.75 1554.96L2142.00 1555.26L2142.25 1555.62L2142.50 1556.00L2142.75 1556.38L2143.00 1556.74L2143.25 1557.07L2143.50 1557.37L2143.75 1557.63L2144.00 1557.87L2144.25 1558.07L2144.50 1558.25L2144.75 1558.41L2145.00 1558.55L2145.25 1558.67L2145.50 1558.77L2145.75 1558.86L2146.00 1558.95L2146.25 1559.02L2146.50 1559.08L2146.75 1559.14L2147.00 1559.19L2147.25 1559.24L2147.50 1559.28L2147.75 1559.32L2148.00 1559.35L2148.25 1559.38L2148.50 1559.41L2148.75 1559.43L2149.00 1559.46L2149.25 1559.48L2149.50 1559.50L2149.75 1559.52L2150.00 1559.53L2150.25 1559.55L2150.50 1559.56L2150.75 1559.57L2151.00 1559.58L2151.25 1559.59L2151.50 1559.60L2151.75 1559.61L2152.00 1559.62L2152.25 1559.63L2152.50 1559.64L2152.75 1559.64L2153.00 1559.65L2153.25 1559.65L2153.50 1559.66L2153.75 1559.66L2154.00 1559.67L2154.25 1559.67L2154.50 1559.68L2154.75 1559.68L2155.00 1559.68L2155.25 1559.69L2155.50 1559.69L2155.75 1559.69L2156.00 1559.69L2156.25 1559.69L2156.50 1559.70L2156.75 1559.70L2157.00 1559.70L2157.25 1559.70L2157.50 1559.70L2157.75 1559.70L2158.00 1559.70L2158.25 1559.70L2158.50 1559.70L2158.75 1559.70L2159.00 1559.70L2159.25 1559.70L2159.50 1559.70L2159.75 1559.70L2160.00 1559.70L2160.25 1559.70L2160.50 1559.70L2160.75 1559.70L2161.00 1559.70L2161.25 1559.69L2161.50 1559.69L2161.75 1559.69L2162.00 1559.69L2162.25 1559.69L2162.50 1559.69L2162.75 1559.68L2163.00 1559.68L2163.25 1559.68L2163.50 1559.68L2163.75 1559.67L2164.00 1559.67L2164.25 1559.67L2164.50 1559.66L2164.75 1559.66L2165.00 1559.66L2165.25 1559.65L2165.50 1559.65L2165.75 1559.65L2166.00 1559.64L2166.25 1559.64L2166.50 1559.63L2166.75 1559.63L2167.00 1559.63L2167.25 1559.62L2167.50 1559.62L2167.75 1559.61L2168.00 1559.60L2168.25 1559.60L2168.50 1559.59L2168.75 1559.59L2169.00 1559.58L2169.25 1559.57L2169.50 1559.57L2169.75 1559.56L2170.00 1559.55L2170.25 1559.55L2170.50 1559.54L2170.75 1559.53L2171.00 1559.52L2171.25 1559.51L2171.50 1559.50L2171.75 1559.50L2172.00 1559.49L2172.25 1559.48L2172.50 1559.47L2172.75 1559.45L2173.00 1559.44L2173.25 1559.43L2173.50 1559.42L2173.75 1559.41L2174.00 1559.39L2174.25 1559.38L2174.50 1559.37L2174.75 1559.35L2175.00 1559.34L2175.25 1559.32L2175.50 1559.30L2175.75 1559.29L2176.00 1559.27L2176.25 1559.25L2176.50 1559.23L2176.75 1559.21L2177.00 1559.19L2177.25 1559.16L2177.50 1559.14L2177.75 1559.12L2178.00 1559.09L2178.25 1559.06L2178.50 1559.03L2178.75 1559.00L2179.00 1558.97L2179.25 1558.94L2179.50 1558.90L2179.75 1558.87L2180.00 1558.83L2180.25 1558.79L2180.50 1558.75L2180.75 1558.70L2181.00 1558.65L2181.25 1558.60L2181.50 1558.55L2181.75 1558.49L2182.00 1558.43L2182.25 1558.36L2182.50 1558.29L2182.75 1558.22L2183.00 1558.14L2183.25 1558.06L2183.50 1557.97L2183.75 1557.87L2184.00 1557.77L2184.25 1557.66L2184.50 1557.54L2184.75 1557.41L2185.00 1557.27L2185.25 1557.12L2185.50 1556.96L2185.75 1556.78L2186.00 1556.58L2186.25 1556.37L2186.50 1556.14L2186.75 1555.89L2187.00 1555.61L2187.25 1555.30L2187.50 1554.96L2187.75 1554.58L2188.00 1554.16L2188.25 1553.70L2188.50 1553.17L2188.75 1552.59L2189.00 1551.93L2189.25 1551.18L2189.50 1550.34L2189.75 1549.38L2190.00 1548.29L2190.25 1547.04L2190.50 1545.61M2196.75 1544.67L2197.00 1546.21L2197.25 1547.56L2197.50 1548.74L2197.75 1549.78L2198.00 1550.69L2198.25 1551.49L2198.50 1552.20L2198.75 1552.83L2199.00 1553.39L2199.25 1553.89L2199.50 1554.34L2199.75 1554.74L2200.00 1555.11L2200.25 1555.43L2200.50 1555.73L2200.75 1556.00L2201.00 1556.24L2201.25 1556.47L2201.50 1556.67L2201.75 1556.86L2202.00 1557.03L2202.25 1557.19L2202.50 1557.34L2202.75 1557.47L2203.00 1557.60L2203.25 1557.71L2203.50 1557.82L2203.75 1557.92L2204.00 1558.01L2204.25 1558.10L2204.50 1558.18L2204.75 1558.26L2205.00 1558.33L2205.25 1558.40L2205.50 1558.46L2205.75 1558.52L2206.00 1558.58L2206.25 1558.63L2206.50 1558.68L2206.75 1558.73L2207.00 1558.77L2207.25 1558.82L2207.50 1558.86L2207.75 1558.90L2208.00 1558.93L2208.25 1558.97L2208.50 1559.00L2208.75 1559.03L2209.00 1559.06L2209.25 1559.09L2209.50 1559.12L2209.75 1559.14L2210.00 1559.17L2210.25 1559.19L2210.50 1559.21L2210.75 1559.23L2211.00 1559.25L2211.25 1559.27L2211.50 1559.29L2211.75 1559.31L2212.00 1559.33L2212.25 1559.35L2212.50 1559.36L2212.75 1559.38L2213.00 1559.39L2213.25 1559.41L2213.50 1559.42L2213.75 1559.43L2214.00 1559.45L2214.25 1559.46L2214.50 1559.47L2214.75 1559.48L2215.00 1559.49L2215.25 1559.50L2215.50 1559.51L2215.75 1559.52L2216.00 1559.53L2216.25 1559.54L2216.50 1559.55L2216.75 1559.56L2217.00 1559.57L2217.25 1559.58L2217.50 1559.59L2217.75 1559.59L2218.00 1559.60L2218.25 1559.61L2218.50 1559.61L2218.75 1559.62L2219.00 1559.63L2219.25 1559.63L2219.50 1559.64L2219.75 1559.65L2220.00 1559.65L2220.25 1559.66L2220.50 1559.66L2220.75 1559.67L2221.00 1559.67L2221.25 1559.68L2221.50 1559.68L2221.75 1559.69L2222.00 1559.69L2222.25 1559.70L2222.50 1559.70L2222.75 1559.71L2223.00 1559.71L2223.25 1559.72L2223.50 1559.72L2223.75 1559.72L2224.00 1559.73L2224.25 1559.73L2224.50 1559.73L2224.75 1559.74L2225.00 1559.74L2225.25 1559.74L2225.50 1559.75L2225.75 1559.75L2226.00 1559.75L2226.25 1559.76L2226.50 1559.76L2226.75 1559.76L2227.00 1559.77L2227.25 1559.77L2227.50 1559.77L2227.75 1559.77L2228.00 1559.78L2228.25 1559.78L2228.50 1559.78L2228.75 1559.78L2229.00 1559.79L2229.25 1559.79L2229.50 1559.79L2229.75 1559.79L2230.00 1559.79L2230.25 1559.80L2230.50 1559.80L2230.75 1559.80L2231.00 1559.80L2231.25 1559.80L2231.50 1559.81L2231.75 1559.81L2232.00 1559.81L2232.25 1559.81L2232.50 1559.81L2232.75 1559.81L2233.00 1559.82L2233.25 1559.82L2233.50 1559.82L2233.75 1559.82L2234.00 1559.82L2234.25 1559.82L2234.50 1559.82L2234.75 1559.82L2235.00 1559.83L2235.25 1559.83L2235.50 1559.83L2235.75 1559.83L2236.00 1559.83L2236.25 1559.83L2236.50 1559.83L2236.75 1559.83L2237.00 1559.83L2237.25 1559.84L2237.50 1559.84L2237.75 1559.84L2238.00 1559.84L2238.25 1559.84L2238.50 1559.84L2238.75 1559.84L2239.00 1559.84L2239.25 1559.84L2239.50 1559.84L2239.75 1559.84L2240.00 1559.84L2240.25 1559.84L2240.50 1559.84L2240.75 1559.84L2241.00 1559.85L2241.25 1559.85L2241.50 1559.85L2241.75 1559.85L2242.00 1559.85L2242.25 1559.85L2242.50 1559.85L2242.75 1559.85L2243.00 1559.85L2243.25 1559.85L2243.50 1559.85L2243.75 1559.85L2244.00 1559.85L2244.25 1559.85L2244.50 1559.85L2244.75 1559.85L2245.00 1559.85L2245.25 1559.85L2245.50 1559.85L2245.75 1559.85L2246.00 1559.85L2246.25 1559.85L2246.50 1559.85L2246.75 1559.85L2247.00 1559.85L2247.25 1559.85L2247.50 1559.85L2247.75 1559.85L2248.00 1559.85L2248.25 1559.85L2248.50 1559.85L2248.75 1559.84L2249.00 1559.84L2249.25 1559.84L2249.50 1559.84L2249.75 1559.84L2250.00 1559.84L2250.25 1559.84L2250.50 1559.84L2250.75 1559.84L2251.00 1559.84L2251.25 1559.84L2251.50 1559.84L2251.75 1559.83L2252.00 1559.83L2252.25 1559.83L2252.50 1559.83L2252.75 1559.83L2253.00 1559.83L2253.25 1559.83L2253.50 1559.82L2253.75 1559.82L2254.00 1559.82L2254.25 1559.82L2254.50 1559.82L2254.75 1559.82L2255.00 1559.81L2255.25 1559.81L2255.50 1559.81L2255.75 1559.81L2256.00 1559.80L2256.25 1559.80L2256.50 1559.80L2256.75 1559.80L2257.00 1559.79L2257.25 1559.79L2257.50 1559.79L2257.75 1559.78L2258.00 1559.78L2258.25 1559.78L2258.50 1559.77L2258.75 1559.77L2259.00 1559.76L2259.25 1559.76L2259.50 1559.75L2259.75 1559.75L2260.00 1559.74L2260.25 1559.74L2260.50 1559.73L2260.75 1559.73L2261.00 1559.72L2261.25 1559.71L2261.50 1559.70L2261.75 1559.70L2262.00 1559.69L2262.25 1559.68L2262.50 1559.67L2262.75 1559.66L2263.00 1559.65L2263.25 1559.64L2263.50 1559.63L2263.75 1559.62L2264.00 1559.61L2264.25 1559.59L2264.50 1559.58L2264.75 1559.57L2265.00 1559.55L2265.25 1559.53L2265.50 1559.51L2265.75 1559.50L2266.00 1559.47L2266.25 1559.45L2266.50 1559.43L2266.75 1559.40L2267.00 1559.38L2267.25 1559.35L2267.50 1559.31L2267.75 1559.28L2268.00 1559.24L2268.25 1559.20L2268.50 1559.16L2268.75 1559.11L2269.00 1559.06L2269.25 1559.00L2269.50 1558.93L2269.75 1558.86L2270.00 1558.79L2270.25 1558.70L2270.50 1558.61L2270.75 1558.50L2271.00 1558.39L2271.25 1558.25L2271.50 1558.11L2271.75 1557.94L2272.00 1557.75L2272.25 1557.54L2272.50 1557.30L2272.75 1557.02L2273.00 1556.71L2273.25 1556.35L2273.50 1555.94L2273.75 1555.47L2274.00 1554.93L2274.25 1554.33L2274.50 1553.65L2274.75 1552.91L2275.00 1552.13L2275.25 1551.32L2275.50 1550.53L2275.75 1549.84L2276.00 1549.31L2276.25 1549.01L2276.50 1548.98L2276.75 1549.23L2277.00 1549.72L2277.25 1550.39L2277.50 1551.16L2277.75 1551.97L2278.00 1552.76L2278.25 1553.51L2278.50 1554.20L2278.75 1554.82L2279.00 1555.37L2279.25 1555.85L2279.50 1556.27L2279.75 1556.64L2280.00 1556.97" fill="none" stroke="#000" stroke-width="4.6" stroke-linejoin="round"/><path d="M669.50 1543.92L669.75 1541.99L670.00 1539.85L670.25 1537.52L670.50 1535.07L670.75 1532.61L671.00 1530.30L671.25 1528.35L671.50 1526.99L671.75 1526.39M671.75 1526.39L672.00 1526.65L672.25 1527.72L672.50 1529.46L672.75 1531.65L673.00 1534.08L673.25 1536.55L673.50 1538.93L673.75 1541.15L674.00 1543.17M894.75 1543.07L895.00 1541.30L895.25 1539.27L895.50 1536.95L895.75 1534.29L896.00 1531.27L896.25 1527.85L896.50 1524.01L896.75 1519.76L897.00 1515.17L897.25 1510.37L897.50 1505.61L897.75 1501.22L898.00 1497.62L898.25 1495.24L898.50 1494.40M898.50 1494.40L898.75 1495.24L899.00 1497.62L899.25 1501.21L899.50 1505.60L899.75 1510.36L900.00 1515.15L900.25 1519.74L900.50 1523.99L900.75 1527.83L901.00 1531.25L901.25 1534.27L901.50 1536.92L901.75 1539.24L902.00 1541.27L902.25 1543.04M981.75 1543.83L982.00 1542.99L982.25 1542.10L982.50 1541.13L982.75 1540.09L983.00 1538.95L983.25 1537.72L983.50 1536.38L983.75 1534.92L984.00 1533.32L984.25 1531.57L984.50 1529.65L984.75 1527.53L985.00 1525.20L985.25 1522.61L985.50 1519.74L985.75 1516.54L986.00 1512.96L986.25 1508.95L986.50 1504.45L986.75 1499.37L987.00 1493.63L987.25 1487.12L987.50 1479.70L987.75 1471.25L988.00 1461.60L988.25 1450.56L988.50 1437.94L988.75 1423.56L989.00 1407.24L989.25 1388.87L989.50 1368.49L989.75 1346.36L990.00 1323.05L990.25 1299.63L990.50 1277.66L990.75 1259.14L991.00 1246.17L991.25 1240.50M991.25 1240.50L991.50 1242.96L991.75 1253.17L992.00 1269.72L992.25 1290.57L992.50 1313.62L992.75 1337.13L993.00 1359.83L993.25 1380.96L993.50 1400.14L993.75 1417.27L994.00 1432.42L994.25 1445.72L994.50 1457.36L994.75 1467.55L995.00 1476.46L995.25 1484.27L995.50 1491.13L995.75 1497.17L996.00 1502.50L996.25 1507.22L996.50 1511.42L996.75 1515.16L997.00 1518.50L997.25 1521.50L997.50 1524.20L997.75 1526.63L998.00 1528.84L998.25 1530.83L998.50 1532.65L998.75 1534.31L999.00 1535.82L999.25 1537.21L999.50 1538.48L999.75 1539.65L1000.00 1540.73L1000.25 1541.73L1000.50 1542.66L1000.75 1543.51M1224.50 1543.84L1224.75 1543.24L1225.00 1543.01M1225.00 1543.01L1225.25 1543.16L1225.50 1543.67M1238.00 1543.80L1238.25 1542.53L1238.50 1541.11L1238.75 1539.51L1239.00 1537.70L1239.25 1535.66L1239.50 1533.33L1239.75 1530.69L1240.00 1527.68L1240.25 1524.24L1240.50 1520.30L1240.75 1515.80L1241.00 1510.66L1241.25 1504.81L1241.50 1498.23L1241.75 1490.89L1242.00 1482.89L1242.25 1474.39L1242.50 1465.77L1242.75 1457.54L1243.00 1450.43L1243.25 1445.20L1243.50 1442.55M1243.50 1442.55L1243.75 1442.86L1244.00 1446.08L1244.25 1451.75L1244.50 1459.16L1244.75 1467.53L1245.00 1476.18L1245.25 1484.61L1245.50 1492.50L1245.75 1499.70L1246.00 1506.15L1246.25 1511.86L1246.50 1516.88L1246.75 1521.28L1247.00 1525.12L1247.25 1528.49L1247.50 1531.44L1247.75 1534.02L1248.00 1536.30L1248.25 1538.31L1248.50 1540.09L1248.75 1541.67L1249.00 1543.08M1359.25 1542.51L1359.50 1540.62L1359.75 1538.46L1360.00 1536.02L1360.25 1533.28L1360.50 1530.23L1360.75 1526.93L1361.00 1523.46L1361.25 1519.96L1361.50 1516.68L1361.75 1513.90L1362.00 1511.93L1362.25 1511.04M1362.25 1511.04L1362.50 1511.33L1362.75 1512.77L1363.00 1515.13L1363.25 1518.12L1363.50 1521.43L1363.75 1524.80L1364.00 1528.05L1364.25 1531.06L1364.50 1533.78L1364.75 1536.20L1365.00 1538.31L1365.25 1540.15L1365.50 1541.74L1365.75 1543.10M1372.00 1543.36L1372.25 1542.20L1372.50 1540.87L1372.75 1539.34L1373.00 1537.59L1373.25 1535.58L1373.50 1533.26L1373.75 1530.61L1374.00 1527.55L1374.25 1524.05L1374.50 1520.05L1374.75 1515.50L1375.00 1510.38L1375.25 1504.72L1375.50 1498.59L1375.75 1492.19L1376.00 1485.82L1376.25 1479.96L1376.50 1475.15L1376.75 1471.99L1377.00 1470.90M1377.00 1470.90L1377.25 1472.06L1377.50 1475.29L1377.75 1480.16L1378.00 1486.10L1378.25 1492.53L1378.50 1499.01L1378.75 1505.21L1379.00 1510.95L1379.25 1516.15L1379.50 1520.77L1379.75 1524.86L1380.00 1528.45L1380.25 1531.59L1380.50 1534.34L1380.75 1536.74L1381.00 1538.86L1381.25 1540.71L1381.50 1542.35L1381.75 1543.80M1538.00 1543.48L1538.25 1543.35M1538.25 1543.35L1538.50 1543.65M1604.75 1543.22L1605.00 1541.44L1605.25 1539.42L1605.50 1537.10L1605.75 1534.45L1606.00 1531.44L1606.25 1528.02L1606.50 1524.19L1606.75 1519.94L1607.00 1515.36L1607.25 1510.57L1607.50 1505.82L1607.75 1501.44L1608.00 1497.85L1608.25 1495.47L1608.50 1494.64M1608.50 1494.64L1608.75 1495.47L1609.00 1497.85L1609.25 1501.44L1609.50 1505.82L1609.75 1510.58L1610.00 1515.36L1610.25 1519.95L1610.50 1524.19L1610.75 1528.02L1611.00 1531.44L1611.25 1534.46L1611.50 1537.10L1611.75 1539.42L1612.00 1541.45L1612.25 1543.22M1799.25 1543.36L1799.50 1541.45L1799.75 1539.28L1800.00 1536.80L1800.25 1534.02L1800.50 1530.94L1800.75 1527.58L1801.00 1524.06L1801.25 1520.51L1801.50 1517.18L1801.75 1514.38L1802.00 1512.41L1802.25 1511.56M1802.25 1511.56L1802.50 1511.93L1802.75 1513.47L1803.00 1515.98L1803.25 1519.14L1803.50 1522.63L1803.75 1526.19L1804.00 1529.63L1804.25 1532.83L1804.50 1535.73L1804.75 1538.33L1805.00 1540.62L1805.25 1542.63M1912.25 1542.37L1912.50 1540.45L1912.75 1538.26L1913.00 1535.76L1913.25 1532.91L1913.50 1529.67L1913.75 1526.02L1914.00 1521.98L1914.25 1517.59L1914.50 1512.97L1914.75 1508.32L1915.00 1503.96L1915.25 1500.29L1915.50 1497.72L1915.75 1496.59M1915.75 1496.59L1916.00 1497.08L1916.25 1499.11L1916.50 1502.39L1916.75 1506.52L1917.00 1511.10L1917.25 1515.76L1917.50 1520.26L1917.75 1524.45L1918.00 1528.26L1918.25 1531.66L1918.50 1534.66L1918.75 1537.30L1919.00 1539.61L1919.25 1541.63L1919.50 1543.40M2190.75 1543.99L2191.00 1542.13L2191.25 1540.01L2191.50 1537.61L2191.75 1534.93L2192.00 1531.97L2192.25 1528.80L2192.50 1525.51L2192.75 1522.29L2193.00 1519.37L2193.25 1517.06L2193.50 1515.63L2193.75 1515.29M2193.75 1515.29L2194.00 1516.08L2194.25 1517.89L2194.50 1520.48L2194.75 1523.56L2195.00 1526.83L2195.25 1530.09L2195.50 1533.19L2195.75 1536.04L2196.00 1538.61L2196.25 1540.89L2196.50 1542.90" fill="none" stroke="#111" stroke-width="4.6" stroke-dasharray="7 7"/>

<rect x="208.3" y="38.2" width="2076.5" height="2.8" fill="#050505"/>
<rect x="211" y="41" width="2068" height="2" fill="#b0b0b0"/>
<rect x="208.2" y="38.2" width="2.6" height="1612.6" fill="#999"/>
<rect x="210.8" y="38.2" width="2.6" height="1612.6" fill="#000"/>
<rect x="2279.1" y="38.2" width="2.6" height="1604.7" fill="#5a5a5a"/>
<rect x="2281.7" y="38.2" width="3.0" height="1604.7" fill="#2a2a2a"/>
<rect x="208.2" y="1646.1" width="2076.5" height="2.5" fill="#555"/>
<rect x="208.2" y="1648.6" width="2076.5" height="2.4" fill="#222"/>
<rect x="465" y="1594.2" width="5" height="48.4" fill="#1a1a1a"/>
<rect x="762.5" y="1594.2" width="5" height="48.4" fill="#1a1a1a"/>
<rect x="1059.9" y="1594.2" width="5" height="48.4" fill="#1a1a1a"/>
<rect x="1354" y="1594.2" width="5" height="48.4" fill="#1a1a1a"/>
<rect x="1651.7" y="1604" width="5" height="44" fill="#111"/>
<rect x="1944.7" y="1604" width="5" height="44" fill="#111"/>

<rect x="2094.0" y="1269.5" width="5.5" height="5" fill="#3a3040"/><rect x="2113.5" y="1269.5" width="5.5" height="5" fill="#3a3040"/><rect x="2133.0" y="1269.5" width="5.5" height="5" fill="#3a3040"/><rect x="2152.5" y="1269.5" width="5.5" height="5" fill="#3a3040"/><rect x="2172.0" y="1269.5" width="5.5" height="5" fill="#3a3040"/><rect x="2191.5" y="1269.5" width="5.5" height="5" fill="#3a3040"/><rect x="2211.0" y="1269.5" width="5.5" height="5" fill="#3a3040"/>
</svg></body></html>
